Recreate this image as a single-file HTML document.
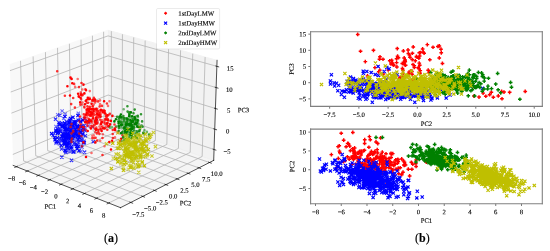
<!DOCTYPE html>
<html><head><meta charset="utf-8"><style>
html,body{margin:0;padding:0;background:#fff;}
body{width:550px;height:251px;overflow:hidden;}
svg{display:block;filter:blur(0.3px);}
svg text{stroke:#000;stroke-width:0.12px;}
</style></head><body>
<svg width="550" height="251" viewBox="0 0 550 251" version="1.1">
 <defs>
  <style type="text/css">*{stroke-linejoin: round; stroke-linecap: butt}</style>
 </defs>
 <g id="figure_1">
  <g id="patch_1">
   <path d="M 0 251 
L 550 251 
L 550 0 
L 0 0 
z
" style="fill: #ffffff"/>
  </g>
  <g id="patch_2">
   <path d="M -1.326 228.748 
L 223.068 228.748 
L 223.068 4.354 
L -1.326 4.354 
z
" style="fill: #ffffff"/>
  </g>
  <g id="pane3d_1">
   <g id="patch_3">
    <path d="M 13.193572 165.438999 
L 108.208871 124.50731 
L 108.029389 30.230374 
L 9.751159 64.596236 
" style="fill: #f2f2f2; opacity: 0.5; stroke: #f2f2f2; stroke-linejoin: miter"/>
   </g>
  </g>
  <g id="pane3d_2">
   <g id="patch_4">
    <path d="M 108.208871 124.50731 
L 213.673591 160.382769 
L 217.050997 60.341471 
L 108.029389 30.230374 
" style="fill: #e6e6e6; opacity: 0.5; stroke: #e6e6e6; stroke-linejoin: miter"/>
   </g>
  </g>
  <g id="pane3d_3">
   <g id="patch_5">
    <path d="M 13.193572 165.438999 
L 120.542899 207.66233 
L 213.673591 160.382769 
L 108.208871 124.50731 
" style="fill: #ececec; opacity: 0.5; stroke: #ececec; stroke-linejoin: miter"/>
   </g>
  </g>
  <g id="grid3d_1">
   <g id="Line3DCollection_1">
    <path d="M 16.431128 166.712415 
L 111.407736 125.595453 
L 111.328901 31.141679 
" style="fill: none; stroke: #b0b0b0; stroke-width: 0.75"/>
    <path d="M 27.333725 171.000695 
L 122.171696 129.256981 
L 122.434853 34.209074 
" style="fill: none; stroke: #b0b0b0; stroke-width: 0.75"/>
    <path d="M 38.409816 175.357215 
L 133.093789 132.9723 
L 133.709193 37.322978 
" style="fill: none; stroke: #b0b0b0; stroke-width: 0.75"/>
    <path d="M 49.663574 179.783616 
L 144.177525 136.742605 
L 145.155781 40.484455 
" style="fill: none; stroke: #b0b0b0; stroke-width: 0.75"/>
    <path d="M 61.099309 184.281593 
L 155.426518 140.569124 
L 156.778594 43.694604 
" style="fill: none; stroke: #b0b0b0; stroke-width: 0.75"/>
    <path d="M 72.721471 188.852897 
L 166.844494 144.453126 
L 168.581734 46.954559 
" style="fill: none; stroke: #b0b0b0; stroke-width: 0.75"/>
    <path d="M 84.534656 193.499335 
L 178.435287 148.395914 
L 180.56943 50.265486 
" style="fill: none; stroke: #b0b0b0; stroke-width: 0.75"/>
    <path d="M 96.543613 198.222776 
L 190.202853 152.398833 
L 192.746044 53.628592 
" style="fill: none; stroke: #b0b0b0; stroke-width: 0.75"/>
    <path d="M 108.753248 203.025148 
L 202.151265 156.463271 
L 205.116079 57.04512 
" style="fill: none; stroke: #b0b0b0; stroke-width: 0.75"/>
   </g>
  </g>
  <g id="grid3d_2">
   <g id="Line3DCollection_2">
    <path d="M 20.523457 60.829386 
L 23.584337 160.962756 
L 130.7809 202.464815 
" style="fill: none; stroke: #b0b0b0; stroke-width: 0.75"/>
    <path d="M 33.110168 56.428074 
L 35.732685 155.729363 
L 142.733964 196.396615 
" style="fill: none; stroke: #b0b0b0; stroke-width: 0.75"/>
    <path d="M 45.44608 52.114461 
L 47.646751 150.596896 
L 154.43908 190.454291 
" style="fill: none; stroke: #b0b0b0; stroke-width: 0.75"/>
    <path d="M 57.538614 47.885952 
L 59.333246 145.562465 
L 165.903886 184.633965 
" style="fill: none; stroke: #b0b0b0; stroke-width: 0.75"/>
    <path d="M 69.394903 43.740053 
L 70.798629 140.623287 
L 177.135706 178.931919 
" style="fill: none; stroke: #b0b0b0; stroke-width: 0.75"/>
    <path d="M 81.021803 39.674367 
L 82.049117 135.776684 
L 188.141571 173.344583 
" style="fill: none; stroke: #b0b0b0; stroke-width: 0.75"/>
    <path d="M 92.425908 35.686588 
L 93.090694 131.020077 
L 198.928232 167.86853 
" style="fill: none; stroke: #b0b0b0; stroke-width: 0.75"/>
    <path d="M 103.61356 31.774498 
L 103.929127 126.350983 
L 209.502172 162.500468 
" style="fill: none; stroke: #b0b0b0; stroke-width: 0.75"/>
   </g>
  </g>
  <g id="grid3d_3">
   <g id="Line3DCollection_3">
    <path d="M 214.040931 149.501894 
L 108.189311 114.232724 
L 12.819268 154.47407 
" style="fill: none; stroke: #b0b0b0; stroke-width: 0.75"/>
    <path d="M 214.728381 129.139099 
L 108.15273 95.018129 
L 12.118716 133.95193 
" style="fill: none; stroke: #b0b0b0; stroke-width: 0.75"/>
    <path d="M 215.425335 108.494788 
L 108.115679 75.555932 
L 11.408385 113.143352 
" style="fill: none; stroke: #b0b0b0; stroke-width: 0.75"/>
    <path d="M 216.131992 87.563081 
L 108.078146 55.841314 
L 10.68807 92.042297 
" style="fill: none; stroke: #b0b0b0; stroke-width: 0.75"/>
    <path d="M 216.848556 66.337937 
L 108.040124 35.869335 
L 9.957558 70.642554 
" style="fill: none; stroke: #b0b0b0; stroke-width: 0.75"/>
   </g>
  </g>
  <g id="axis3d_1">
   <g id="line2d_1">
    <path d="M 13.193572 165.438999 
L 120.542899 207.66233 
" style="fill: none; stroke: #000000; stroke-width: 0.676; stroke-linecap: square"/>
   </g>
   <g id="xtick_1">
    <g id="line2d_2">
     <path d="M 17.252619 166.356778 
L 14.784913 167.425089 
" style="fill: none; stroke: #000000; stroke-width: 0.676; stroke-linecap: square"/>
    </g>
    <g id="text_1" transform="translate(1.5 0)">
     <text style="font-size: 6.7px; font-family: 'Liberation Serif', serif; text-anchor: middle" x="9.938619" y="180.63677" transform="rotate(0.05 9.938619 180.63677)">−8</text>
    </g>
   </g>
   <g id="xtick_2">
    <g id="line2d_3">
     <path d="M 28.154503 170.639423 
L 25.688914 171.724673 
" style="fill: none; stroke: #000000; stroke-width: 0.676; stroke-linecap: square"/>
    </g>
    <g id="text_2" transform="translate(1.5 0)">
     <text style="font-size: 6.7px; font-family: 'Liberation Serif', serif; text-anchor: middle" x="20.824753" y="185.012248" transform="rotate(0.05 20.824753 185.012248)">−6</text>
    </g>
   </g>
   <g id="xtick_3">
    <g id="line2d_4">
     <path d="M 39.229754 174.990173 
L 36.766662 176.092766 
" style="fill: none; stroke: #000000; stroke-width: 0.676; stroke-linecap: square"/>
    </g>
    <g id="text_3" transform="translate(1.5 0)">
     <text style="font-size: 6.7px; font-family: 'Liberation Serif', serif; text-anchor: middle" x="31.884677" y="189.457577" transform="rotate(0.05 31.884677 189.457577)">−4</text>
    </g>
   </g>
   <g id="xtick_4">
    <g id="line2d_5">
     <path d="M 50.482539 179.410664 
L 48.022343 180.531021 
" style="fill: none; stroke: #000000; stroke-width: 0.676; stroke-linecap: square"/>
    </g>
    <g id="text_4" transform="translate(1.5 0)">
     <text style="font-size: 6.7px; font-family: 'Liberation Serif', serif; text-anchor: middle" x="43.122588" y="193.974444" transform="rotate(0.05 43.122588 193.974444)">−2</text>
    </g>
   </g>
   <g id="xtick_5">
    <g id="line2d_6">
     <path d="M 61.917163 183.902589 
L 59.460278 185.041141 
" style="fill: none; stroke: #000000; stroke-width: 0.676; stroke-linecap: square"/>
    </g>
    <g id="text_5" transform="translate(1.5 0)">
     <text style="font-size: 6.7px; font-family: 'Liberation Serif', serif; text-anchor: middle" x="54.542816" y="198.564591" transform="rotate(0.05 54.542816 198.564591)">0</text>
    </g>
   </g>
   <g id="xtick_6">
    <g id="line2d_7">
     <path d="M 73.538069 188.467691 
L 71.084931 189.624887 
" style="fill: none; stroke: #000000; stroke-width: 0.676; stroke-linecap: square"/>
    </g>
    <g id="text_6" transform="translate(1.5 0)">
     <text style="font-size: 6.7px; font-family: 'Liberation Serif', serif; text-anchor: middle" x="66.149835" y="203.229814" transform="rotate(0.05 66.149835 203.229814)">2</text>
    </g>
   </g>
   <g id="xtick_7">
    <g id="line2d_8">
     <path d="M 85.349845 193.107774 
L 82.90091 194.284074 
" style="fill: none; stroke: #000000; stroke-width: 0.676; stroke-linecap: square"/>
    </g>
    <g id="text_7" transform="translate(1.5 0)">
     <text style="font-size: 6.7px; font-family: 'Liberation Serif', serif; text-anchor: middle" x="77.948264" y="207.971972" transform="rotate(0.05 77.948264 207.971972)">4</text>
    </g>
   </g>
   <g id="xtick_8">
    <g id="line2d_9">
     <path d="M 97.357235 197.824701 
L 94.91298 199.020583 
" style="fill: none; stroke: #000000; stroke-width: 0.676; stroke-linecap: square"/>
    </g>
    <g id="text_8" transform="translate(1.5 0)">
     <text style="font-size: 6.7px; font-family: 'Liberation Serif', serif; text-anchor: middle" x="89.942879" y="212.792982" transform="rotate(0.05 89.942879 212.792982)">6</text>
    </g>
   </g>
   <g id="xtick_9">
    <g id="line2d_10">
     <path d="M 109.565137 202.620396 
L 107.126061 203.836353 
" style="fill: none; stroke: #000000; stroke-width: 0.676; stroke-linecap: square"/>
    </g>
    <g id="text_9" transform="translate(1.5 0)">
     <text style="font-size: 6.7px; font-family: 'Liberation Serif', serif; text-anchor: middle" x="102.138613" y="217.694829" transform="rotate(0.05 102.138613 217.694829)">8</text>
    </g>
   </g>
   <g id="text_10">
    <text style="font-size: 6.7px; font-family: 'Liberation Serif', serif; text-anchor: middle" x="50.293535" y="208.818631" transform="rotate(0.05 50.293535 208.818631)">PC1</text>
   </g>
  </g>
  <g id="axis3d_2">
   <g id="line2d_11">
    <path d="M 213.673591 160.382769 
L 120.542899 207.66233 
" style="fill: none; stroke: #000000; stroke-width: 0.676; stroke-linecap: square"/>
   </g>
   <g id="xtick_10">
    <g id="line2d_12">
     <path d="M 129.857683 202.107383 
L 132.630762 203.181004 
" style="fill: none; stroke: #000000; stroke-width: 0.676; stroke-linecap: square"/>
    </g>
    <g id="text_11">
     <text style="font-size: 6.7px; font-family: 'Liberation Serif', serif; text-anchor: middle" x="138.271624" y="216.736482" transform="rotate(0.05 138.271624 216.736482)">−7.5</text>
    </g>
   </g>
   <g id="xtick_11">
    <g id="line2d_13">
     <path d="M 141.813114 196.046634 
L 144.579044 197.097862 
" style="fill: none; stroke: #000000; stroke-width: 0.676; stroke-linecap: square"/>
    </g>
    <g id="text_12">
     <text style="font-size: 6.7px; font-family: 'Liberation Serif', serif; text-anchor: middle" x="150.178285" y="210.550757" transform="rotate(0.05 150.178285 210.550757)">−5.0</text>
    </g>
   </g>
   <g id="xtick_12">
    <g id="line2d_14">
     <path d="M 153.5207 190.11153 
L 156.279178 191.141059 
" style="fill: none; stroke: #000000; stroke-width: 0.676; stroke-linecap: square"/>
    </g>
    <g id="text_13">
     <text style="font-size: 6.7px; font-family: 'Liberation Serif', serif; text-anchor: middle" x="161.837302" y="204.493688" transform="rotate(0.05 161.837302 204.493688)">−2.5</text>
    </g>
   </g>
   <g id="xtick_13">
    <g id="line2d_15">
     <path d="M 164.988068 184.298203 
L 167.738816 185.306697 
" style="fill: none; stroke: #000000; stroke-width: 0.676; stroke-linecap: square"/>
    </g>
    <g id="text_14">
     <text style="font-size: 6.7px; font-family: 'Liberation Serif', serif; text-anchor: middle" x="173.256321" y="198.561302" transform="rotate(0.05 173.256321 198.561302)">0.0</text>
    </g>
   </g>
   <g id="xtick_14">
    <g id="line2d_16">
     <path d="M 176.222536 178.602943 
L 178.965297 179.591041 
" style="fill: none; stroke: #000000; stroke-width: 0.676; stroke-linecap: square"/>
    </g>
    <g id="text_15">
     <text style="font-size: 6.7px; font-family: 'Liberation Serif', serif; text-anchor: middle" x="184.442676" y="192.749789" transform="rotate(0.05 184.442676 192.749789)">2.5</text>
    </g>
   </g>
   <g id="xtick_15">
    <g id="line2d_17">
     <path d="M 187.231128 173.02219 
L 189.965666 173.990504 
" style="fill: none; stroke: #000000; stroke-width: 0.676; stroke-linecap: square"/>
    </g>
    <g id="text_16">
     <text style="font-size: 6.7px; font-family: 'Liberation Serif', serif; text-anchor: middle" x="195.403407" y="187.055492" transform="rotate(0.05 195.403407 187.055492)">5.0</text>
    </g>
   </g>
   <g id="xtick_16">
    <g id="line2d_18">
     <path d="M 198.020589 167.552524 
L 200.746684 168.501643 
" style="fill: none; stroke: #000000; stroke-width: 0.676; stroke-linecap: square"/>
    </g>
    <g id="text_17">
     <text style="font-size: 6.7px; font-family: 'Liberation Serif', serif; text-anchor: middle" x="206.145272" y="181.474899" transform="rotate(0.05 206.145272 181.474899)">7.5</text>
    </g>
   </g>
   <g id="xtick_17">
    <g id="line2d_19">
     <path d="M 208.597397 162.190662 
L 211.314849 163.121151 
" style="fill: none; stroke: #000000; stroke-width: 0.676; stroke-linecap: square"/>
    </g>
    <g id="text_18">
     <text style="font-size: 6.7px; font-family: 'Liberation Serif', serif; text-anchor: middle" x="216.674761" y="176.00464" transform="rotate(0.05 216.674761 176.00464)">10.0</text>
    </g>
   </g>
   <g id="text_19">
    <text style="font-size: 6.7px; font-family: 'Liberation Serif', serif; text-anchor: middle" x="185.543451" y="205.38919" transform="rotate(0.05 185.543451 205.38919)">PC2</text>
   </g>
  </g>
  <g id="axis3d_3">
   <g id="line2d_20">
    <path d="M 213.673591 160.382769 
L 217.050997 60.341471 
" style="fill: none; stroke: #000000; stroke-width: 0.676; stroke-linecap: square"/>
   </g>
   <g id="xtick_18">
    <g id="line2d_21">
     <path d="M 213.133783 149.199638 
L 215.858358 150.107451 
" style="fill: none; stroke: #000000; stroke-width: 0.676; stroke-linecap: square"/>
    </g>
    <g id="text_20">
     <text style="font-size: 6.7px; font-family: 'Liberation Serif', serif; text-anchor: middle" x="226.995658" y="153.830955" transform="rotate(0.05 226.995658 153.830955)">−5</text>
    </g>
   </g>
   <g id="xtick_19">
    <g id="line2d_22">
     <path d="M 213.814612 128.846549 
L 216.559096 129.725216 
" style="fill: none; stroke: #000000; stroke-width: 0.676; stroke-linecap: square"/>
    </g>
    <g id="text_21">
     <text style="font-size: 6.7px; font-family: 'Liberation Serif', serif; text-anchor: middle" x="227.771567" y="133.47844" transform="rotate(0.05 227.771567 133.47844)">0</text>
    </g>
   </g>
   <g id="xtick_20">
    <g id="line2d_23">
     <path d="M 214.504848 108.212243 
L 217.269534 109.060867 
" style="fill: none; stroke: #000000; stroke-width: 0.676; stroke-linecap: square"/>
    </g>
    <g id="text_22">
     <text style="font-size: 6.7px; font-family: 'Liberation Serif', serif; text-anchor: middle" x="228.558197" y="112.844725" transform="rotate(0.05 228.558197 112.844725)">5</text>
    </g>
   </g>
   <g id="xtick_21">
    <g id="line2d_24">
     <path d="M 215.204687 87.290849 
L 217.989873 88.108506 
" style="fill: none; stroke: #000000; stroke-width: 0.676; stroke-linecap: square"/>
    </g>
    <g id="text_23">
     <text style="font-size: 6.7px; font-family: 'Liberation Serif', serif; text-anchor: middle" x="229.355772" y="91.92394" transform="rotate(0.05 229.355772 91.92394)">10</text>
    </g>
   </g>
   <g id="xtick_22">
    <g id="line2d_25">
     <path d="M 215.914331 66.076335 
L 218.720322 66.86207 
" style="fill: none; stroke: #000000; stroke-width: 0.676; stroke-linecap: square"/>
    </g>
    <g id="text_24">
     <text style="font-size: 6.7px; font-family: 'Liberation Serif', serif; text-anchor: middle" x="230.16452" y="70.710054" transform="rotate(0.05 230.16452 70.710054)">15</text>
    </g>
   </g>
   <g id="text_25">
    <text style="font-size: 6.7px; font-family: 'Liberation Serif', serif; text-anchor: middle" x="243.455725" y="112.161496" transform="rotate(0.05 243.455725 112.161496)">PC3</text>
   </g>
  </g>
  <g id="axes_1">
   <g id="PH3_b"><path d="M66.2 133.2l3.3 3.3M66.2 136.5l3.3 -3.3M72.9 150.3l3.3 3.3M72.9 153.6l3.3 -3.3M94.9 119.4l3.3 3.3M94.9 122.7l3.3 -3.3M83.7 129.2l3.3 3.3M83.7 132.5l3.3 -3.3M60.1 139.0l3.3 3.3M60.1 142.3l3.3 -3.3M64.0 137.3l3.3 3.3M64.0 140.6l3.3 -3.3M73.5 121.7l3.3 3.3M73.5 125.0l3.3 -3.3M56.0 129.1l3.3 3.3M56.0 132.4l3.3 -3.3M68.5 150.4l3.3 3.3M68.5 153.7l3.3 -3.3M58.2 142.0l3.3 3.3M58.2 145.3l3.3 -3.3M71.7 135.4l3.3 3.3M71.7 138.7l3.3 -3.3M57.8 142.1l3.3 3.3M57.8 145.4l3.3 -3.3M72.6 134.0l3.3 3.3M72.6 137.3l3.3 -3.3M72.2 123.0l3.3 3.3M72.2 126.3l3.3 -3.3M86.2 124.4l3.3 3.3M86.2 127.7l3.3 -3.3M65.0 131.0l3.3 3.3M65.0 134.3l3.3 -3.3M71.8 125.0l3.3 3.3M71.8 128.3l3.3 -3.3M73.2 128.6l3.3 3.3M73.2 131.9l3.3 -3.3M64.0 126.7l3.3 3.3M64.0 130.0l3.3 -3.3M56.1 113.1l3.3 3.3M56.1 116.4l3.3 -3.3M87.2 120.7l3.3 3.3M87.2 124.0l3.3 -3.3M63.2 141.9l3.3 3.3M63.2 145.2l3.3 -3.3M69.0 124.1l3.3 3.3M69.0 127.4l3.3 -3.3M67.8 136.0l3.3 3.3M67.8 139.3l3.3 -3.3M72.4 132.4l3.3 3.3M72.4 135.7l3.3 -3.3M60.7 125.0l3.3 3.3M60.7 128.3l3.3 -3.3M79.4 149.6l3.3 3.3M79.4 152.9l3.3 -3.3M69.0 128.8l3.3 3.3M69.0 132.1l3.3 -3.3M60.5 109.3l3.3 3.3M60.5 112.6l3.3 -3.3M90.9 125.4l3.3 3.3M90.9 128.7l3.3 -3.3M65.9 132.9l3.3 3.3M65.9 136.2l3.3 -3.3M74.1 127.7l3.3 3.3M74.1 131.0l3.3 -3.3M75.8 129.4l3.3 3.3M75.8 132.7l3.3 -3.3M65.9 149.5l3.3 3.3M65.9 152.8l3.3 -3.3M72.4 129.0l3.3 3.3M72.4 132.3l3.3 -3.3M70.8 139.6l3.3 3.3M70.8 142.9l3.3 -3.3M65.8 142.9l3.3 3.3M65.8 146.2l3.3 -3.3M69.8 128.5l3.3 3.3M69.8 131.8l3.3 -3.3M69.1 122.1l3.3 3.3M69.1 125.4l3.3 -3.3M75.1 137.8l3.3 3.3M75.1 141.1l3.3 -3.3M60.3 129.2l3.3 3.3M60.3 132.5l3.3 -3.3M80.6 129.5l3.3 3.3M80.6 132.8l3.3 -3.3M66.9 133.6l3.3 3.3M66.9 136.9l3.3 -3.3M61.0 128.1l3.3 3.3M61.0 131.4l3.3 -3.3M65.6 124.9l3.3 3.3M65.6 128.2l3.3 -3.3M68.3 122.3l3.3 3.3M68.3 125.6l3.3 -3.3M62.8 134.8l3.3 3.3M62.8 138.1l3.3 -3.3M52.4 131.8l3.3 3.3M52.4 135.1l3.3 -3.3M72.3 135.6l3.3 3.3M72.3 138.9l3.3 -3.3M62.0 116.8l3.3 3.3M62.0 120.1l3.3 -3.3M80.4 145.5l3.3 3.3M80.4 148.8l3.3 -3.3M54.3 124.9l3.3 3.3M54.3 128.2l3.3 -3.3M66.3 145.0l3.3 3.3M66.3 148.3l3.3 -3.3M67.5 138.7l3.3 3.3M67.5 142.0l3.3 -3.3M67.7 137.3l3.3 3.3M67.7 140.6l3.3 -3.3M69.1 119.4l3.3 3.3M69.1 122.7l3.3 -3.3M74.6 121.1l3.3 3.3M74.6 124.4l3.3 -3.3M82.1 127.3l3.3 3.3M82.1 130.6l3.3 -3.3M68.0 136.3l3.3 3.3M68.0 139.6l3.3 -3.3M77.9 127.9l3.3 3.3M77.9 131.2l3.3 -3.3M65.9 147.5l3.3 3.3M65.9 150.8l3.3 -3.3M72.7 142.7l3.3 3.3M72.7 146.0l3.3 -3.3M63.6 112.3l3.3 3.3M63.6 115.6l3.3 -3.3M74.4 130.3l3.3 3.3M74.4 133.6l3.3 -3.3M64.4 133.2l3.3 3.3M64.4 136.5l3.3 -3.3M69.1 141.7l3.3 3.3M69.1 145.0l3.3 -3.3M74.3 121.4l3.3 3.3M74.3 124.7l3.3 -3.3M76.8 130.6l3.3 3.3M76.8 133.9l3.3 -3.3M54.3 141.6l3.3 3.3M54.3 144.9l3.3 -3.3M65.4 123.3l3.3 3.3M65.4 126.6l3.3 -3.3M70.4 146.5l3.3 3.3M70.4 149.8l3.3 -3.3M70.7 138.6l3.3 3.3M70.7 141.9l3.3 -3.3M56.4 139.7l3.3 3.3M56.4 143.0l3.3 -3.3M69.7 121.4l3.3 3.3M69.7 124.7l3.3 -3.3M68.4 148.7l3.3 3.3M68.4 152.0l3.3 -3.3M76.7 111.7l3.3 3.3M76.7 115.0l3.3 -3.3M70.6 128.8l3.3 3.3M70.6 132.1l3.3 -3.3M77.5 132.1l3.3 3.3M77.5 135.4l3.3 -3.3M69.3 121.4l3.3 3.3M69.3 124.7l3.3 -3.3M59.4 129.8l3.3 3.3M59.4 133.1l3.3 -3.3M61.1 137.2l3.3 3.3M61.1 140.5l3.3 -3.3M78.1 117.8l3.3 3.3M78.1 121.1l3.3 -3.3M80.0 124.4l3.3 3.3M80.0 127.7l3.3 -3.3M62.6 139.2l3.3 3.3M62.6 142.5l3.3 -3.3M70.7 149.5l3.3 3.3M70.7 152.8l3.3 -3.3M67.9 138.9l3.3 3.3M67.9 142.2l3.3 -3.3M75.0 137.2l3.3 3.3M75.0 140.5l3.3 -3.3M56.4 125.1l3.3 3.3M56.4 128.4l3.3 -3.3M78.5 138.8l3.3 3.3M78.5 142.1l3.3 -3.3M69.5 137.5l3.3 3.3M69.5 140.8l3.3 -3.3" style="fill:none;stroke:#0000ff;stroke-width:1.1;opacity:0.55"/><path d="M68.1 124.7l3.3 3.3M68.1 128.0l3.3 -3.3M64.7 145.2l3.3 3.3M64.7 148.5l3.3 -3.3M60.3 138.8l3.3 3.3M60.3 142.1l3.3 -3.3M82.9 128.4l3.3 3.3M82.9 131.7l3.3 -3.3M66.2 132.8l3.3 3.3M66.2 136.1l3.3 -3.3M63.0 133.2l3.3 3.3M63.0 136.5l3.3 -3.3M66.0 138.0l3.3 3.3M66.0 141.3l3.3 -3.3M69.9 158.7l3.3 3.3M69.9 162.0l3.3 -3.3M69.0 122.9l3.3 3.3M69.0 126.2l3.3 -3.3M76.5 133.6l3.3 3.3M76.5 136.9l3.3 -3.3M79.6 125.1l3.3 3.3M79.6 128.4l3.3 -3.3M56.3 127.6l3.3 3.3M56.3 130.9l3.3 -3.3M63.6 132.8l3.3 3.3M63.6 136.1l3.3 -3.3M64.4 127.8l3.3 3.3M64.4 131.1l3.3 -3.3M63.6 149.2l3.3 3.3M63.6 152.5l3.3 -3.3M65.9 135.3l3.3 3.3M65.9 138.6l3.3 -3.3M58.2 129.6l3.3 3.3M58.2 132.9l3.3 -3.3M83.7 134.1l3.3 3.3M83.7 137.4l3.3 -3.3M65.2 143.7l3.3 3.3M65.2 147.0l3.3 -3.3M69.1 139.2l3.3 3.3M69.1 142.5l3.3 -3.3M72.9 125.3l3.3 3.3M72.9 128.6l3.3 -3.3M62.3 134.1l3.3 3.3M62.3 137.4l3.3 -3.3M63.5 124.6l3.3 3.3M63.5 127.9l3.3 -3.3M67.6 141.6l3.3 3.3M67.6 144.9l3.3 -3.3M70.8 125.9l3.3 3.3M70.8 129.2l3.3 -3.3M71.0 131.6l3.3 3.3M71.0 134.9l3.3 -3.3M68.1 121.9l3.3 3.3M68.1 125.2l3.3 -3.3M82.5 123.9l3.3 3.3M82.5 127.2l3.3 -3.3M91.6 140.1l3.3 3.3M91.6 143.4l3.3 -3.3M77.0 132.9l3.3 3.3M77.0 136.2l3.3 -3.3M64.0 124.3l3.3 3.3M64.0 127.6l3.3 -3.3M73.7 134.7l3.3 3.3M73.7 138.0l3.3 -3.3M64.8 119.9l3.3 3.3M64.8 123.2l3.3 -3.3M59.9 137.5l3.3 3.3M59.9 140.8l3.3 -3.3M72.5 122.0l3.3 3.3M72.5 125.3l3.3 -3.3M65.4 122.4l3.3 3.3M65.4 125.7l3.3 -3.3M71.8 132.1l3.3 3.3M71.8 135.4l3.3 -3.3M67.5 134.6l3.3 3.3M67.5 137.9l3.3 -3.3M73.3 131.3l3.3 3.3M73.3 134.6l3.3 -3.3M80.6 138.7l3.3 3.3M80.6 142.0l3.3 -3.3M70.8 133.7l3.3 3.3M70.8 137.0l3.3 -3.3M82.3 139.7l3.3 3.3M82.3 143.0l3.3 -3.3M73.9 142.8l3.3 3.3M73.9 146.1l3.3 -3.3M76.8 140.3l3.3 3.3M76.8 143.6l3.3 -3.3M58.2 113.6l3.3 3.3M58.2 116.9l3.3 -3.3M81.8 125.8l3.3 3.3M81.8 129.1l3.3 -3.3M80.4 129.3l3.3 3.3M80.4 132.6l3.3 -3.3M64.2 127.6l3.3 3.3M64.2 130.9l3.3 -3.3M68.1 119.8l3.3 3.3M68.1 123.1l3.3 -3.3M75.4 132.4l3.3 3.3M75.4 135.7l3.3 -3.3M72.5 125.8l3.3 3.3M72.5 129.1l3.3 -3.3M73.0 141.2l3.3 3.3M73.0 144.5l3.3 -3.3M68.1 144.8l3.3 3.3M68.1 148.1l3.3 -3.3M69.4 127.7l3.3 3.3M69.4 131.0l3.3 -3.3M63.4 140.2l3.3 3.3M63.4 143.5l3.3 -3.3M66.5 128.5l3.3 3.3M66.5 131.8l3.3 -3.3M75.0 130.5l3.3 3.3M75.0 133.8l3.3 -3.3M60.0 147.3l3.3 3.3M60.0 150.6l3.3 -3.3M71.4 137.0l3.3 3.3M71.4 140.3l3.3 -3.3M82.9 150.5l3.3 3.3M82.9 153.8l3.3 -3.3M68.1 140.8l3.3 3.3M68.1 144.1l3.3 -3.3M60.4 121.5l3.3 3.3M60.4 124.8l3.3 -3.3M60.1 125.4l3.3 3.3M60.1 128.7l3.3 -3.3M58.8 129.6l3.3 3.3M58.8 132.9l3.3 -3.3M82.9 117.0l3.3 3.3M82.9 120.3l3.3 -3.3M63.7 130.0l3.3 3.3M63.7 133.3l3.3 -3.3M64.3 150.8l3.3 3.3M64.3 154.1l3.3 -3.3M64.1 134.8l3.3 3.3M64.1 138.1l3.3 -3.3M58.0 127.4l3.3 3.3M58.0 130.7l3.3 -3.3M60.2 155.6l3.3 3.3M60.2 158.9l3.3 -3.3M58.3 136.7l3.3 3.3M58.3 140.0l3.3 -3.3M63.4 122.5l3.3 3.3M63.4 125.8l3.3 -3.3M53.9 117.5l3.3 3.3M53.9 120.8l3.3 -3.3M64.0 132.4l3.3 3.3M64.0 135.7l3.3 -3.3M55.7 127.1l3.3 3.3M55.7 130.4l3.3 -3.3M79.9 138.1l3.3 3.3M79.9 141.4l3.3 -3.3M66.4 146.6l3.3 3.3M66.4 149.9l3.3 -3.3M67.7 125.7l3.3 3.3M67.7 129.0l3.3 -3.3M51.5 133.6l3.3 3.3M51.5 136.9l3.3 -3.3M57.3 121.0l3.3 3.3M57.3 124.3l3.3 -3.3M66.0 132.7l3.3 3.3M66.0 136.0l3.3 -3.3M56.8 140.4l3.3 3.3M56.8 143.7l3.3 -3.3M72.3 129.9l3.3 3.3M72.3 133.2l3.3 -3.3" style="fill:none;stroke:#0000ff;stroke-width:1.1;opacity:0.8"/><path d="M68.1 130.0l3.3 3.3M68.1 133.3l3.3 -3.3M78.9 120.0l3.3 3.3M78.9 123.3l3.3 -3.3M66.5 136.3l3.3 3.3M66.5 139.6l3.3 -3.3M81.7 141.1l3.3 3.3M81.7 144.4l3.3 -3.3M50.0 132.0l3.3 3.3M50.0 135.3l3.3 -3.3M65.2 144.0l3.3 3.3M65.2 147.3l3.3 -3.3M77.8 135.9l3.3 3.3M77.8 139.2l3.3 -3.3M60.1 134.7l3.3 3.3M60.1 138.0l3.3 -3.3M76.3 113.9l3.3 3.3M76.3 117.2l3.3 -3.3M55.7 136.2l3.3 3.3M55.7 139.5l3.3 -3.3M55.9 131.8l3.3 3.3M55.9 135.1l3.3 -3.3M69.0 146.3l3.3 3.3M69.0 149.6l3.3 -3.3M64.3 135.2l3.3 3.3M64.3 138.5l3.3 -3.3M63.8 136.0l3.3 3.3M63.8 139.3l3.3 -3.3M79.3 134.8l3.3 3.3M79.3 138.1l3.3 -3.3M65.9 127.4l3.3 3.3M65.9 130.7l3.3 -3.3M69.7 130.8l3.3 3.3M69.7 134.1l3.3 -3.3M73.0 122.9l3.3 3.3M73.0 126.2l3.3 -3.3M71.3 134.5l3.3 3.3M71.3 137.8l3.3 -3.3M75.5 125.1l3.3 3.3M75.5 128.4l3.3 -3.3M78.6 131.0l3.3 3.3M78.6 134.3l3.3 -3.3M81.2 132.5l3.3 3.3M81.2 135.8l3.3 -3.3M63.7 138.0l3.3 3.3M63.7 141.3l3.3 -3.3M60.7 124.4l3.3 3.3M60.7 127.7l3.3 -3.3M67.9 118.7l3.3 3.3M67.9 122.0l3.3 -3.3M78.3 130.3l3.3 3.3M78.3 133.6l3.3 -3.3M82.6 141.1l3.3 3.3M82.6 144.4l3.3 -3.3M65.4 131.9l3.3 3.3M65.4 135.2l3.3 -3.3M67.3 121.2l3.3 3.3M67.3 124.5l3.3 -3.3M73.8 129.8l3.3 3.3M73.8 133.1l3.3 -3.3M65.6 127.6l3.3 3.3M65.6 130.9l3.3 -3.3M63.4 128.0l3.3 3.3M63.4 131.3l3.3 -3.3M78.5 124.6l3.3 3.3M78.5 127.9l3.3 -3.3M76.6 127.7l3.3 3.3M76.6 131.0l3.3 -3.3M63.0 125.0l3.3 3.3M63.0 128.3l3.3 -3.3M71.8 150.2l3.3 3.3M71.8 153.5l3.3 -3.3M62.9 142.5l3.3 3.3M62.9 145.8l3.3 -3.3M63.0 141.1l3.3 3.3M63.0 144.4l3.3 -3.3M72.4 130.7l3.3 3.3M72.4 134.0l3.3 -3.3M76.9 144.6l3.3 3.3M76.9 147.9l3.3 -3.3M63.2 114.9l3.3 3.3M63.2 118.2l3.3 -3.3M66.5 141.2l3.3 3.3M66.5 144.5l3.3 -3.3M58.3 122.4l3.3 3.3M58.3 125.7l3.3 -3.3M63.4 148.6l3.3 3.3M63.4 151.9l3.3 -3.3M73.8 127.8l3.3 3.3M73.8 131.1l3.3 -3.3M73.7 120.1l3.3 3.3M73.7 123.4l3.3 -3.3M61.7 124.2l3.3 3.3M61.7 127.5l3.3 -3.3M69.7 136.6l3.3 3.3M69.7 139.9l3.3 -3.3M76.8 125.3l3.3 3.3M76.8 128.6l3.3 -3.3M54.5 129.3l3.3 3.3M54.5 132.6l3.3 -3.3M72.4 120.2l3.3 3.3M72.4 123.5l3.3 -3.3M81.3 118.5l3.3 3.3M81.3 121.8l3.3 -3.3M76.0 134.8l3.3 3.3M76.0 138.1l3.3 -3.3M71.8 134.3l3.3 3.3M71.8 137.6l3.3 -3.3M77.3 149.1l3.3 3.3M77.3 152.4l3.3 -3.3M75.7 124.2l3.3 3.3M75.7 127.5l3.3 -3.3M67.5 132.7l3.3 3.3M67.5 136.0l3.3 -3.3M69.8 145.2l3.3 3.3M69.8 148.5l3.3 -3.3M76.5 138.1l3.3 3.3M76.5 141.4l3.3 -3.3M75.0 144.7l3.3 3.3M75.0 148.0l3.3 -3.3M57.5 122.9l3.3 3.3M57.5 126.2l3.3 -3.3M59.6 143.9l3.3 3.3M59.6 147.2l3.3 -3.3M65.6 141.8l3.3 3.3M65.6 145.1l3.3 -3.3M66.9 135.8l3.3 3.3M66.9 139.1l3.3 -3.3M61.3 134.4l3.3 3.3M61.3 137.7l3.3 -3.3M68.8 116.8l3.3 3.3M68.8 120.1l3.3 -3.3M75.6 143.4l3.3 3.3M75.6 146.7l3.3 -3.3M63.1 121.3l3.3 3.3M63.1 124.6l3.3 -3.3M68.7 136.8l3.3 3.3M68.7 140.1l3.3 -3.3M73.6 132.1l3.3 3.3M73.6 135.4l3.3 -3.3M67.1 133.5l3.3 3.3M67.1 136.8l3.3 -3.3M63.6 132.4l3.3 3.3M63.6 135.7l3.3 -3.3M64.3 127.8l3.3 3.3M64.3 131.1l3.3 -3.3M53.0 135.9l3.3 3.3M53.0 139.2l3.3 -3.3M54.7 140.2l3.3 3.3M54.7 143.5l3.3 -3.3M56.1 130.4l3.3 3.3M56.1 133.7l3.3 -3.3M54.2 128.6l3.3 3.3M54.2 131.9l3.3 -3.3M56.7 130.5l3.3 3.3M56.7 133.8l3.3 -3.3M64.4 136.7l3.3 3.3M64.4 140.0l3.3 -3.3M75.6 147.0l3.3 3.3M75.6 150.3l3.3 -3.3M76.7 133.6l3.3 3.3M76.7 136.9l3.3 -3.3M86.2 119.6l3.3 3.3M86.2 122.9l3.3 -3.3M62.2 138.7l3.3 3.3M62.2 142.0l3.3 -3.3M53.4 138.0l3.3 3.3M53.4 141.3l3.3 -3.3M65.9 132.2l3.3 3.3M65.9 135.5l3.3 -3.3M71.3 115.7l3.3 3.3M71.3 119.0l3.3 -3.3M65.5 132.8l3.3 3.3M65.5 136.1l3.3 -3.3M81.2 126.6l3.3 3.3M81.2 129.9l3.3 -3.3M70.9 123.8l3.3 3.3M70.9 127.1l3.3 -3.3M76.6 118.6l3.3 3.3M76.6 121.9l3.3 -3.3M54.4 129.9l3.3 3.3M54.4 133.2l3.3 -3.3M61.1 132.0l3.3 3.3M61.1 135.3l3.3 -3.3M69.8 123.0l3.3 3.3M69.8 126.3l3.3 -3.3M69.0 128.4l3.3 3.3M69.0 131.7l3.3 -3.3M62.7 140.2l3.3 3.3M62.7 143.5l3.3 -3.3" style="fill:none;stroke:#0000ff;stroke-width:1.1;opacity:1"/></g>
   <g id="PH3_rd"><path d="M73.1 130.9h0M79.2 133.6h0M71.5 142.0h0M78.7 129.3h0M71.9 138.5h0M73.4 131.6h0M82.9 130.4h0M71.5 124.1h0M80.2 126.9h0M81.9 146.3h0M71.5 133.4h0M70.7 127.0h0M71.4 139.8h0M81.5 136.0h0" style="fill:none;stroke:#b8123a;stroke-width:2.6;stroke-linecap:round;opacity:1"/></g>
   <g id="PH3_r"><path d="M95.6 110.4h0M89.0 107.5h0M85.8 101.1h0M84.8 117.5h0M98.0 130.4h0M99.8 117.1h0M101.2 122.1h0M100.2 140.8h0M95.2 102.6h0M96.8 122.8h0M115.9 127.2h0M82.1 104.2h0M100.7 128.8h0M100.8 126.7h0M96.1 111.9h0M106.1 116.6h0M97.4 110.4h0M79.3 121.4h0M97.1 113.1h0M92.4 135.7h0M100.0 100.4h0M109.5 101.2h0M117.7 132.7h0M88.8 111.7h0M86.9 117.4h0M118.2 132.8h0M106.1 118.6h0M88.7 114.3h0M82.6 102.6h0M101.1 110.6h0M84.3 116.6h0M84.5 107.7h0M90.1 127.2h0M94.0 111.2h0M90.3 126.1h0M97.8 111.0h0M105.8 127.5h0M92.0 122.8h0M100.6 113.9h0M91.1 119.6h0M94.6 109.0h0M85.8 119.9h0M89.2 122.9h0M93.8 104.6h0M104.5 146.2h0M104.3 121.4h0M97.6 121.1h0M100.0 104.0h0M90.5 114.7h0M100.3 124.5h0M97.3 123.7h0M108.0 105.9h0M84.0 119.5h0M99.2 112.9h0M109.0 126.2h0M92.8 106.0h0M106.0 126.9h0M102.9 134.3h0M89.5 97.7h0M115.0 137.4h0M102.1 120.4h0M89.6 114.5h0M93.8 112.3h0M96.8 121.4h0M107.6 122.9h0M107.8 122.2h0M93.7 135.3h0M108.7 120.6h0M100.9 110.1h0M91.3 127.2h0M95.7 118.6h0M97.3 108.7h0M96.3 127.4h0M100.1 104.6h0M85.9 129.8h0M95.2 132.2h0M107.3 125.5h0M99.4 126.6h0M95.2 122.6h0M100.7 113.2h0M75.1 86.9h0M80.7 92.3h0M82.4 89.5h0M77.7 79.0h0M89.8 91.1h0M81.4 95.4h0M82.9 94.3h0M91.5 153.0h0" style="fill:none;stroke:#ff0000;stroke-width:2.6;stroke-linecap:round;opacity:0.55"/><path d="M92.4 138.1h0M83.8 114.3h0M107.3 129.8h0M96.6 114.7h0M114.5 124.5h0M98.7 115.9h0M104.8 128.5h0M105.4 124.3h0M96.9 133.4h0M91.8 125.8h0M92.7 100.7h0M88.5 109.5h0M94.5 137.9h0M94.2 101.1h0M80.4 104.8h0M92.9 115.9h0M106.0 116.2h0M96.6 110.4h0M96.1 119.2h0M93.8 115.1h0M106.9 103.5h0M87.4 125.8h0M101.0 109.9h0M101.8 122.0h0M100.2 115.1h0M104.6 122.9h0M88.4 113.8h0M95.7 123.3h0M100.3 119.7h0M87.2 102.8h0M80.7 124.3h0M96.1 108.9h0M100.6 129.1h0M88.7 118.9h0M89.3 111.8h0M95.6 101.1h0M97.2 140.5h0M108.6 126.3h0M104.1 110.6h0M112.7 134.0h0M90.6 120.9h0M90.9 108.7h0M102.5 155.0h0M93.4 126.6h0M99.4 134.0h0M102.4 126.5h0M102.5 138.0h0M99.6 106.5h0M89.2 114.9h0M92.5 113.4h0M87.5 115.0h0M85.4 115.0h0M98.3 129.8h0M95.0 124.6h0M98.5 132.3h0M122.4 135.2h0M91.1 121.4h0M93.9 114.3h0M74.9 107.6h0M94.3 114.8h0M105.0 119.4h0M90.1 115.8h0M99.6 113.0h0M87.4 123.2h0M106.6 115.7h0M84.3 106.8h0M94.9 128.8h0M94.2 124.9h0M88.0 102.8h0M92.2 100.7h0M89.9 106.9h0M80.0 116.6h0M95.5 120.0h0M109.9 113.8h0M88.5 109.8h0M105.5 113.7h0M106.8 123.9h0M92.3 100.4h0M92.6 106.2h0M97.0 117.3h0M82.5 95.2h0M102.0 105.9h0M106.9 116.8h0M98.4 117.3h0M112.9 138.1h0M71.2 104.1h0M112.8 130.0h0M86.8 111.5h0M98.2 111.3h0M87.8 111.1h0M85.4 121.9h0M84.0 127.5h0M108.5 115.1h0M107.6 119.0h0M95.6 137.8h0M91.0 116.0h0M97.5 122.8h0M95.5 122.4h0M87.4 106.2h0M81.1 99.3h0M80.9 93.9h0M98.1 101.4h0M64.9 95.7h0M73.2 98.0h0M93.9 97.9h0M74.1 83.9h0M79.0 87.1h0M85.4 89.2h0M81.5 83.0h0M57.2 71.2h0" style="fill:none;stroke:#ff0000;stroke-width:2.6;stroke-linecap:round;opacity:0.8"/><path d="M111.0 149.5h0M96.8 119.6h0M84.4 93.4h0M95.4 142.4h0M90.7 112.0h0M91.5 109.4h0M78.1 93.7h0M104.6 111.1h0M86.0 114.6h0M90.7 120.9h0M121.2 138.7h0M86.8 113.1h0M85.9 101.0h0M93.3 109.7h0M98.4 114.8h0M104.9 113.2h0M108.5 126.2h0M91.1 113.5h0M81.0 94.8h0M82.9 127.0h0M84.7 117.6h0M115.1 130.1h0M102.6 110.6h0M96.3 123.5h0M88.9 110.9h0M107.8 119.9h0M110.9 120.9h0M87.7 131.0h0M87.8 98.8h0M85.0 104.3h0M93.3 108.7h0M112.0 140.9h0M92.2 114.0h0M89.1 119.9h0M93.6 110.9h0M107.2 123.2h0M95.0 99.5h0M86.1 121.8h0M100.6 110.4h0M87.8 97.9h0M91.6 103.8h0M109.3 142.0h0M120.2 141.2h0M104.0 128.2h0M86.4 100.2h0M88.7 99.1h0M91.4 120.9h0M95.5 121.4h0M97.1 113.6h0M106.0 119.5h0M96.2 117.5h0M89.3 109.2h0M100.6 116.6h0M112.4 115.9h0M98.9 115.0h0M101.9 122.3h0M90.5 115.3h0M110.0 124.4h0M96.3 128.9h0M93.8 109.5h0M83.4 142.4h0M92.1 112.8h0M86.6 109.7h0M89.8 98.9h0M87.5 108.7h0M102.8 112.3h0M96.4 109.1h0M107.4 115.3h0M92.9 99.8h0M114.7 128.6h0M94.9 121.4h0M85.2 122.2h0M95.9 130.0h0M101.1 123.9h0M90.9 128.4h0M80.5 97.8h0M93.1 118.4h0M103.1 128.3h0M101.6 130.9h0M88.4 121.2h0M96.0 117.7h0M104.1 101.2h0M80.2 102.4h0M86.0 90.3h0M72.3 83.2h0M78.8 96.7h0M71.6 78.9h0M70.0 95.5h0M67.4 86.3h0M78.7 96.4h0M83.5 84.6h0M70.5 77.6h0M86.0 157.0h0" style="fill:none;stroke:#ff0000;stroke-width:2.6;stroke-linecap:round;opacity:1"/></g>
   <g id="PH3_g"><path d="M112.0 127.3h0M133.9 127.2h0M126.0 123.0h0M126.3 119.5h0M121.6 119.3h0M126.6 140.8h0M120.9 127.6h0M118.9 126.1h0M124.9 126.1h0M120.3 122.5h0M132.1 134.6h0M128.4 119.8h0M131.0 126.4h0M136.4 120.2h0M139.0 130.9h0M127.8 120.9h0M138.6 123.7h0M123.0 131.2h0M129.5 121.0h0M127.5 126.9h0M136.8 123.0h0M131.0 117.4h0M125.2 133.2h0M121.3 127.3h0M123.6 125.6h0M146.9 131.9h0M144.5 133.8h0M135.1 116.7h0M131.0 126.0h0M120.4 116.9h0M126.0 126.2h0M136.6 122.7h0M128.6 133.3h0M128.1 128.5h0M119.3 125.8h0M126.9 133.5h0M130.8 117.0h0M128.7 133.1h0M138.0 127.0h0M133.7 127.7h0M118.8 125.6h0M122.7 123.9h0M129.8 131.9h0M136.7 133.6h0M123.7 123.6h0M129.3 121.3h0M126.8 122.3h0M125.9 118.5h0M125.1 118.3h0M136.5 116.2h0M124.6 127.4h0M133.9 133.3h0M122.8 117.7h0M128.7 118.9h0M144.5 130.2h0M133.7 128.4h0M131.8 124.8h0M137.0 142.4h0M130.0 116.0h0M132.0 127.8h0M119.4 122.4h0M118.2 119.6h0M122.0 141.3h0M141.6 125.2h0M127.0 118.2h0M138.0 117.1h0M123.2 123.1h0M131.3 130.2h0M126.8 128.4h0M116.1 126.4h0M120.6 123.9h0M134.7 133.9h0M122.8 138.2h0M110.0 127.4h0M123.7 109.3h0M132.4 125.7h0M133.1 137.0h0M123.2 128.2h0" style="fill:none;stroke:#008000;stroke-width:2.6;stroke-linecap:round;opacity:0.55"/><path d="M127.6 111.6h0M132.7 118.8h0M117.1 116.8h0M124.2 140.2h0M122.6 133.3h0M135.5 120.5h0M137.8 115.8h0M118.8 127.4h0M131.6 128.0h0M128.9 137.2h0M137.5 126.7h0M121.5 121.7h0M126.9 121.9h0M121.3 122.4h0M130.3 125.8h0M119.3 118.5h0M125.9 131.3h0M122.3 132.0h0M124.2 118.1h0M126.0 122.4h0M129.6 125.8h0M142.6 126.8h0M138.2 120.8h0M129.1 113.2h0M131.5 132.3h0M139.4 131.2h0M118.7 131.0h0M130.3 132.7h0M126.7 128.8h0M132.8 122.3h0M127.4 106.3h0M126.8 124.6h0M126.9 129.2h0M124.3 129.0h0M131.7 134.4h0M136.5 132.8h0M139.2 134.6h0M125.8 127.3h0M132.2 126.7h0M123.4 116.1h0M134.3 127.4h0M141.0 114.3h0M124.1 119.0h0M137.5 131.6h0M139.9 129.8h0M127.7 129.5h0M124.1 120.9h0M132.6 132.3h0M128.5 124.5h0M132.2 125.2h0M125.6 130.4h0M133.1 128.0h0M126.6 123.6h0M130.8 130.3h0M135.4 118.5h0M133.5 113.3h0M124.1 121.3h0M134.2 130.5h0M126.7 134.3h0M119.5 117.4h0M125.8 124.6h0M130.1 124.4h0M118.9 128.1h0M135.5 118.8h0M119.8 121.2h0M124.7 127.2h0M142.1 121.4h0M131.9 134.0h0M133.0 127.4h0M125.2 133.3h0M119.3 118.6h0M125.2 139.2h0M129.6 135.0h0M136.3 122.9h0M129.3 112.2h0M134.7 109.6h0M136.7 131.3h0M149.0 134.6h0M121.0 125.2h0" style="fill:none;stroke:#008000;stroke-width:2.6;stroke-linecap:round;opacity:0.8"/><path d="M129.4 114.7h0M131.5 132.8h0M125.2 131.7h0M134.9 119.0h0M126.8 118.5h0M121.2 124.7h0M132.1 116.2h0M127.4 131.5h0M143.4 132.9h0M132.3 126.8h0M134.6 124.1h0M119.7 116.6h0M135.5 122.8h0M131.4 135.7h0M137.6 120.1h0M129.1 116.3h0M124.3 127.7h0M131.4 122.1h0M140.2 126.9h0M130.4 120.0h0M118.6 123.3h0M127.3 124.4h0M126.6 130.9h0M132.9 121.5h0M128.4 130.0h0M114.4 121.4h0M129.3 123.6h0M127.2 119.3h0M137.3 126.4h0M121.4 117.3h0M132.6 120.9h0M120.9 133.3h0M138.8 126.7h0M122.0 124.7h0M131.1 124.3h0M131.5 138.3h0M133.2 120.9h0M126.7 130.3h0M128.7 124.5h0M126.1 133.1h0M134.5 124.4h0M134.5 117.3h0M131.4 121.6h0M127.6 119.4h0M131.0 124.8h0M136.6 137.9h0M130.4 124.7h0M132.0 129.0h0M130.1 128.9h0M118.8 126.0h0M120.9 114.5h0M137.3 122.5h0M135.4 136.2h0M126.0 124.9h0M115.9 119.3h0M130.9 112.4h0M123.4 136.9h0M118.4 121.8h0M134.7 117.3h0M131.0 133.0h0M129.6 124.9h0M136.4 124.2h0M125.2 131.0h0" style="fill:none;stroke:#008000;stroke-width:2.6;stroke-linecap:round;opacity:1"/></g>
   <g id="PH3_y"><path d="M132.4 135.3l3.3 3.3M132.4 138.6l3.3 -3.3M126.5 146.9l3.3 3.3M126.5 150.2l3.3 -3.3M141.3 141.2l3.3 3.3M141.3 144.5l3.3 -3.3M138.2 145.1l3.3 3.3M138.2 148.4l3.3 -3.3M127.4 147.0l3.3 3.3M127.4 150.3l3.3 -3.3M129.2 147.9l3.3 3.3M129.2 151.2l3.3 -3.3M130.4 165.6l3.3 3.3M130.4 168.9l3.3 -3.3M131.6 156.4l3.3 3.3M131.6 159.7l3.3 -3.3M126.0 144.4l3.3 3.3M126.0 147.7l3.3 -3.3M132.5 151.5l3.3 3.3M132.5 154.8l3.3 -3.3M130.4 158.2l3.3 3.3M130.4 161.5l3.3 -3.3M131.9 155.9l3.3 3.3M131.9 159.2l3.3 -3.3M135.0 155.5l3.3 3.3M135.0 158.8l3.3 -3.3M136.0 139.8l3.3 3.3M136.0 143.1l3.3 -3.3M130.3 141.1l3.3 3.3M130.3 144.4l3.3 -3.3M135.9 144.8l3.3 3.3M135.9 148.1l3.3 -3.3M125.9 155.1l3.3 3.3M125.9 158.4l3.3 -3.3M128.4 152.1l3.3 3.3M128.4 155.4l3.3 -3.3M138.4 125.7l3.3 3.3M138.4 129.0l3.3 -3.3M137.9 150.1l3.3 3.3M137.9 153.4l3.3 -3.3M124.7 135.1l3.3 3.3M124.7 138.4l3.3 -3.3M119.5 161.3l3.3 3.3M119.5 164.6l3.3 -3.3M136.6 145.5l3.3 3.3M136.6 148.8l3.3 -3.3M127.1 151.0l3.3 3.3M127.1 154.3l3.3 -3.3M122.0 158.8l3.3 3.3M122.0 162.1l3.3 -3.3M137.8 139.3l3.3 3.3M137.8 142.6l3.3 -3.3M124.3 153.9l3.3 3.3M124.3 157.2l3.3 -3.3M142.7 143.0l3.3 3.3M142.7 146.3l3.3 -3.3M119.6 140.8l3.3 3.3M119.6 144.1l3.3 -3.3M131.1 142.1l3.3 3.3M131.1 145.4l3.3 -3.3M122.0 158.1l3.3 3.3M122.0 161.4l3.3 -3.3M143.7 136.7l3.3 3.3M143.7 140.0l3.3 -3.3M140.2 152.8l3.3 3.3M140.2 156.1l3.3 -3.3M132.5 157.3l3.3 3.3M132.5 160.6l3.3 -3.3M134.3 139.1l3.3 3.3M134.3 142.4l3.3 -3.3M131.1 151.7l3.3 3.3M131.1 155.0l3.3 -3.3M138.7 138.6l3.3 3.3M138.7 141.9l3.3 -3.3M119.3 162.2l3.3 3.3M119.3 165.5l3.3 -3.3M118.9 158.1l3.3 3.3M118.9 161.4l3.3 -3.3M119.7 141.5l3.3 3.3M119.7 144.8l3.3 -3.3M127.5 163.8l3.3 3.3M127.5 167.1l3.3 -3.3M129.0 150.8l3.3 3.3M129.0 154.1l3.3 -3.3M129.5 160.0l3.3 3.3M129.5 163.3l3.3 -3.3M135.3 165.3l3.3 3.3M135.3 168.6l3.3 -3.3M126.2 150.1l3.3 3.3M126.2 153.4l3.3 -3.3M123.2 139.6l3.3 3.3M123.2 142.9l3.3 -3.3M133.4 141.0l3.3 3.3M133.4 144.3l3.3 -3.3M130.6 157.7l3.3 3.3M130.6 161.0l3.3 -3.3M131.3 139.5l3.3 3.3M131.3 142.8l3.3 -3.3M122.7 141.7l3.3 3.3M122.7 145.0l3.3 -3.3M122.9 140.3l3.3 3.3M122.9 143.6l3.3 -3.3M123.0 141.4l3.3 3.3M123.0 144.7l3.3 -3.3M137.5 150.1l3.3 3.3M137.5 153.4l3.3 -3.3M122.9 149.3l3.3 3.3M122.9 152.6l3.3 -3.3M124.6 146.3l3.3 3.3M124.6 149.6l3.3 -3.3M132.1 145.9l3.3 3.3M132.1 149.2l3.3 -3.3M138.8 156.6l3.3 3.3M138.8 159.9l3.3 -3.3M134.4 157.2l3.3 3.3M134.4 160.5l3.3 -3.3M141.6 155.5l3.3 3.3M141.6 158.8l3.3 -3.3M138.8 149.9l3.3 3.3M138.8 153.2l3.3 -3.3M140.6 143.2l3.3 3.3M140.6 146.5l3.3 -3.3M134.4 142.5l3.3 3.3M134.4 145.8l3.3 -3.3M130.2 142.8l3.3 3.3M130.2 146.1l3.3 -3.3M134.4 152.3l3.3 3.3M134.4 155.6l3.3 -3.3M121.9 155.1l3.3 3.3M121.9 158.4l3.3 -3.3M136.1 146.5l3.3 3.3M136.1 149.8l3.3 -3.3M132.9 141.0l3.3 3.3M132.9 144.3l3.3 -3.3M119.3 154.3l3.3 3.3M119.3 157.6l3.3 -3.3M127.5 141.8l3.3 3.3M127.5 145.1l3.3 -3.3M136.7 133.4l3.3 3.3M136.7 136.7l3.3 -3.3M133.6 143.1l3.3 3.3M133.6 146.4l3.3 -3.3M125.2 162.1l3.3 3.3M125.2 165.4l3.3 -3.3M126.5 149.2l3.3 3.3M126.5 152.5l3.3 -3.3M125.7 152.6l3.3 3.3M125.7 155.9l3.3 -3.3M132.2 156.0l3.3 3.3M132.2 159.3l3.3 -3.3M121.7 166.5l3.3 3.3M121.7 169.8l3.3 -3.3M125.5 140.7l3.3 3.3M125.5 144.0l3.3 -3.3M117.8 138.8l3.3 3.3M117.8 142.1l3.3 -3.3M117.7 140.7l3.3 3.3M117.7 144.0l3.3 -3.3M128.0 149.8l3.3 3.3M128.0 153.1l3.3 -3.3M111.6 156.5l3.3 3.3M111.6 159.8l3.3 -3.3M136.5 158.1l3.3 3.3M136.5 161.4l3.3 -3.3M125.2 150.2l3.3 3.3M125.2 153.5l3.3 -3.3M144.9 148.9l3.3 3.3M144.9 152.2l3.3 -3.3M128.9 138.3l3.3 3.3M128.9 141.6l3.3 -3.3M121.5 165.6l3.3 3.3M121.5 168.9l3.3 -3.3M130.1 152.5l3.3 3.3M130.1 155.8l3.3 -3.3M129.5 150.2l3.3 3.3M129.5 153.5l3.3 -3.3M132.7 147.8l3.3 3.3M132.7 151.1l3.3 -3.3M133.8 164.0l3.3 3.3M133.8 167.3l3.3 -3.3M130.2 155.7l3.3 3.3M130.2 159.0l3.3 -3.3M126.6 167.7l3.3 3.3M126.6 171.0l3.3 -3.3" style="fill:none;stroke:#bfbf00;stroke-width:1.1;opacity:0.55"/><path d="M137.1 170.6l3.3 3.3M137.1 173.9l3.3 -3.3M120.5 157.3l3.3 3.3M120.5 160.6l3.3 -3.3M135.1 134.4l3.3 3.3M135.1 137.7l3.3 -3.3M129.5 151.1l3.3 3.3M129.5 154.4l3.3 -3.3M129.8 165.1l3.3 3.3M129.8 168.4l3.3 -3.3M132.2 166.6l3.3 3.3M132.2 169.9l3.3 -3.3M129.1 163.8l3.3 3.3M129.1 167.1l3.3 -3.3M136.0 153.9l3.3 3.3M136.0 157.2l3.3 -3.3M136.7 150.1l3.3 3.3M136.7 153.4l3.3 -3.3M129.3 165.9l3.3 3.3M129.3 169.2l3.3 -3.3M138.2 164.0l3.3 3.3M138.2 167.3l3.3 -3.3M132.0 150.7l3.3 3.3M132.0 154.0l3.3 -3.3M130.5 158.7l3.3 3.3M130.5 162.0l3.3 -3.3M134.1 136.1l3.3 3.3M134.1 139.4l3.3 -3.3M126.2 127.6l3.3 3.3M126.2 130.9l3.3 -3.3M115.7 146.5l3.3 3.3M115.7 149.8l3.3 -3.3M124.0 145.9l3.3 3.3M124.0 149.2l3.3 -3.3M142.1 150.1l3.3 3.3M142.1 153.4l3.3 -3.3M149.7 132.6l3.3 3.3M149.7 135.9l3.3 -3.3M125.9 147.1l3.3 3.3M125.9 150.4l3.3 -3.3M135.7 147.9l3.3 3.3M135.7 151.2l3.3 -3.3M148.8 134.6l3.3 3.3M148.8 137.9l3.3 -3.3M124.1 146.4l3.3 3.3M124.1 149.7l3.3 -3.3M124.8 133.5l3.3 3.3M124.8 136.8l3.3 -3.3M140.4 160.9l3.3 3.3M140.4 164.2l3.3 -3.3M130.1 153.3l3.3 3.3M130.1 156.6l3.3 -3.3M129.3 144.5l3.3 3.3M129.3 147.8l3.3 -3.3M136.1 147.9l3.3 3.3M136.1 151.2l3.3 -3.3M126.1 151.0l3.3 3.3M126.1 154.3l3.3 -3.3M139.5 148.3l3.3 3.3M139.5 151.6l3.3 -3.3M135.5 150.0l3.3 3.3M135.5 153.3l3.3 -3.3M138.4 153.6l3.3 3.3M138.4 156.9l3.3 -3.3M127.5 142.6l3.3 3.3M127.5 145.9l3.3 -3.3M104.8 142.1l3.3 3.3M104.8 145.4l3.3 -3.3M127.7 155.3l3.3 3.3M127.7 158.6l3.3 -3.3M125.6 153.6l3.3 3.3M125.6 156.9l3.3 -3.3M125.9 147.8l3.3 3.3M125.9 151.1l3.3 -3.3M126.6 147.6l3.3 3.3M126.6 150.9l3.3 -3.3M143.9 154.9l3.3 3.3M143.9 158.2l3.3 -3.3M132.6 138.7l3.3 3.3M132.6 142.0l3.3 -3.3M150.3 154.4l3.3 3.3M150.3 157.7l3.3 -3.3M131.7 157.2l3.3 3.3M131.7 160.5l3.3 -3.3M132.8 156.3l3.3 3.3M132.8 159.6l3.3 -3.3M133.4 147.7l3.3 3.3M133.4 151.0l3.3 -3.3M127.9 153.0l3.3 3.3M127.9 156.3l3.3 -3.3M138.8 155.8l3.3 3.3M138.8 159.1l3.3 -3.3M143.4 132.3l3.3 3.3M143.4 135.6l3.3 -3.3M126.1 140.1l3.3 3.3M126.1 143.4l3.3 -3.3M125.8 139.5l3.3 3.3M125.8 142.8l3.3 -3.3M125.5 154.3l3.3 3.3M125.5 157.6l3.3 -3.3M140.6 142.2l3.3 3.3M140.6 145.5l3.3 -3.3M126.9 140.0l3.3 3.3M126.9 143.3l3.3 -3.3M122.0 143.7l3.3 3.3M122.0 147.0l3.3 -3.3M153.8 145.0l3.3 3.3M153.8 148.3l3.3 -3.3M127.7 156.4l3.3 3.3M127.7 159.7l3.3 -3.3M151.8 130.8l3.3 3.3M151.8 134.1l3.3 -3.3M146.9 137.5l3.3 3.3M146.9 140.8l3.3 -3.3M143.9 132.9l3.3 3.3M143.9 136.2l3.3 -3.3M134.2 142.1l3.3 3.3M134.2 145.4l3.3 -3.3M145.3 153.9l3.3 3.3M145.3 157.2l3.3 -3.3M122.6 150.4l3.3 3.3M122.6 153.7l3.3 -3.3M136.2 132.9l3.3 3.3M136.2 136.2l3.3 -3.3M130.0 140.5l3.3 3.3M130.0 143.8l3.3 -3.3M135.9 148.6l3.3 3.3M135.9 151.9l3.3 -3.3M125.0 148.3l3.3 3.3M125.0 151.6l3.3 -3.3M143.9 137.4l3.3 3.3M143.9 140.7l3.3 -3.3M116.8 152.1l3.3 3.3M116.8 155.4l3.3 -3.3M130.9 150.9l3.3 3.3M130.9 154.2l3.3 -3.3M127.0 137.8l3.3 3.3M127.0 141.1l3.3 -3.3M127.5 153.6l3.3 3.3M127.5 156.9l3.3 -3.3M118.5 143.3l3.3 3.3M118.5 146.6l3.3 -3.3M123.5 134.0l3.3 3.3M123.5 137.3l3.3 -3.3M138.1 136.0l3.3 3.3M138.1 139.3l3.3 -3.3M132.2 151.9l3.3 3.3M132.2 155.2l3.3 -3.3M131.3 136.4l3.3 3.3M131.3 139.7l3.3 -3.3M119.5 160.8l3.3 3.3M119.5 164.1l3.3 -3.3M116.2 131.3l3.3 3.3M116.2 134.6l3.3 -3.3M119.7 146.8l3.3 3.3M119.7 150.1l3.3 -3.3M145.0 139.6l3.3 3.3M145.0 142.9l3.3 -3.3M127.6 151.8l3.3 3.3M127.6 155.1l3.3 -3.3M117.8 155.1l3.3 3.3M117.8 158.4l3.3 -3.3M131.8 161.0l3.3 3.3M131.8 164.3l3.3 -3.3M114.5 152.5l3.3 3.3M114.5 155.8l3.3 -3.3M123.9 141.2l3.3 3.3M123.9 144.5l3.3 -3.3M122.9 142.8l3.3 3.3M122.9 146.1l3.3 -3.3" style="fill:none;stroke:#bfbf00;stroke-width:1.1;opacity:0.8"/><path d="M135.2 148.1l3.3 3.3M135.2 151.4l3.3 -3.3M121.9 168.5l3.3 3.3M121.9 171.8l3.3 -3.3M146.6 148.0l3.3 3.3M146.6 151.3l3.3 -3.3M128.7 154.6l3.3 3.3M128.7 157.9l3.3 -3.3M126.8 139.2l3.3 3.3M126.8 142.5l3.3 -3.3M136.9 164.3l3.3 3.3M136.9 167.6l3.3 -3.3M134.0 146.2l3.3 3.3M134.0 149.5l3.3 -3.3M116.2 160.2l3.3 3.3M116.2 163.5l3.3 -3.3M134.6 147.2l3.3 3.3M134.6 150.5l3.3 -3.3M118.6 143.0l3.3 3.3M118.6 146.3l3.3 -3.3M129.6 157.4l3.3 3.3M129.6 160.7l3.3 -3.3M139.3 147.3l3.3 3.3M139.3 150.6l3.3 -3.3M133.9 145.9l3.3 3.3M133.9 149.2l3.3 -3.3M144.1 139.3l3.3 3.3M144.1 142.6l3.3 -3.3M128.7 143.1l3.3 3.3M128.7 146.4l3.3 -3.3M141.6 140.0l3.3 3.3M141.6 143.3l3.3 -3.3M124.6 152.8l3.3 3.3M124.6 156.1l3.3 -3.3M140.6 145.2l3.3 3.3M140.6 148.5l3.3 -3.3M136.0 148.5l3.3 3.3M136.0 151.8l3.3 -3.3M138.6 152.8l3.3 3.3M138.6 156.1l3.3 -3.3M125.9 137.5l3.3 3.3M125.9 140.8l3.3 -3.3M133.8 144.7l3.3 3.3M133.8 148.0l3.3 -3.3M136.2 160.7l3.3 3.3M136.2 164.0l3.3 -3.3M143.1 150.0l3.3 3.3M143.1 153.3l3.3 -3.3M133.2 144.2l3.3 3.3M133.2 147.5l3.3 -3.3M131.1 131.6l3.3 3.3M131.1 134.9l3.3 -3.3M137.2 139.4l3.3 3.3M137.2 142.7l3.3 -3.3M115.9 157.7l3.3 3.3M115.9 161.0l3.3 -3.3M127.9 154.6l3.3 3.3M127.9 157.9l3.3 -3.3M144.9 144.6l3.3 3.3M144.9 147.9l3.3 -3.3M139.0 154.8l3.3 3.3M139.0 158.1l3.3 -3.3M128.9 150.9l3.3 3.3M128.9 154.2l3.3 -3.3M141.8 142.1l3.3 3.3M141.8 145.4l3.3 -3.3M131.0 153.0l3.3 3.3M131.0 156.3l3.3 -3.3M147.8 135.7l3.3 3.3M147.8 139.0l3.3 -3.3M126.0 147.1l3.3 3.3M126.0 150.4l3.3 -3.3M140.6 160.1l3.3 3.3M140.6 163.4l3.3 -3.3M134.0 154.9l3.3 3.3M134.0 158.2l3.3 -3.3M124.9 154.8l3.3 3.3M124.9 158.1l3.3 -3.3M114.0 156.8l3.3 3.3M114.0 160.1l3.3 -3.3M141.5 147.3l3.3 3.3M141.5 150.6l3.3 -3.3M125.8 153.5l3.3 3.3M125.8 156.8l3.3 -3.3M109.7 166.8l3.3 3.3M109.7 170.1l3.3 -3.3M122.7 141.5l3.3 3.3M122.7 144.8l3.3 -3.3M127.2 143.1l3.3 3.3M127.2 146.4l3.3 -3.3M123.9 148.3l3.3 3.3M123.9 151.6l3.3 -3.3M130.2 151.0l3.3 3.3M130.2 154.3l3.3 -3.3M119.4 143.4l3.3 3.3M119.4 146.7l3.3 -3.3M124.0 160.8l3.3 3.3M124.0 164.1l3.3 -3.3M122.6 162.5l3.3 3.3M122.6 165.8l3.3 -3.3M131.8 144.2l3.3 3.3M131.8 147.5l3.3 -3.3M124.6 152.5l3.3 3.3M124.6 155.8l3.3 -3.3M122.9 154.1l3.3 3.3M122.9 157.4l3.3 -3.3M128.6 165.6l3.3 3.3M128.6 168.9l3.3 -3.3M133.1 141.9l3.3 3.3M133.1 145.2l3.3 -3.3M123.0 158.4l3.3 3.3M123.0 161.7l3.3 -3.3M123.8 152.2l3.3 3.3M123.8 155.5l3.3 -3.3M124.1 138.3l3.3 3.3M124.1 141.6l3.3 -3.3M116.9 146.7l3.3 3.3M116.9 150.0l3.3 -3.3M144.5 145.0l3.3 3.3M144.5 148.3l3.3 -3.3M133.4 140.9l3.3 3.3M133.4 144.2l3.3 -3.3M111.1 141.5l3.3 3.3M111.1 144.8l3.3 -3.3M136.6 164.8l3.3 3.3M136.6 168.1l3.3 -3.3M142.7 164.1l3.3 3.3M142.7 167.4l3.3 -3.3M139.0 142.2l3.3 3.3M139.0 145.5l3.3 -3.3M135.0 155.5l3.3 3.3M135.0 158.8l3.3 -3.3M123.5 146.6l3.3 3.3M123.5 149.9l3.3 -3.3M130.2 142.6l3.3 3.3M130.2 145.9l3.3 -3.3M130.6 152.5l3.3 3.3M130.6 155.8l3.3 -3.3M116.9 141.7l3.3 3.3M116.9 145.0l3.3 -3.3M146.0 152.5l3.3 3.3M146.0 155.8l3.3 -3.3M139.3 134.1l3.3 3.3M139.3 137.4l3.3 -3.3M141.4 148.8l3.3 3.3M141.4 152.1l3.3 -3.3" style="fill:none;stroke:#bfbf00;stroke-width:1.1;opacity:1"/></g>
  </g>
  <g id="axes_2">
   <g id="patch_6">
    <path d="M 310.6 106.4 
L 542.3 106.4 
L 542.3 31.7 
L 310.6 31.7 
z
" style="fill: #ffffff"/>
   </g>
   <g id="PHT_r"><path d="M398.3 77.5h3.7M400.1 75.6v3.7M418.4 70.6h3.7M420.2 68.8v3.7M422.3 53.2h3.7M424.1 51.3v3.7M406.2 49.9h3.7M408.0 48.0v3.7M365.7 75.9h3.7M367.5 74.1v3.7M418.1 73.5h3.7M419.9 71.6v3.7M376.9 71.8h3.7M378.7 70.0v3.7M400.6 76.8h3.7M402.5 75.0v3.7M418.7 52.5h3.7M420.5 50.7v3.7M414.6 56.5h3.7M416.4 54.6v3.7M381.2 59.3h3.7M383.0 57.4v3.7M407.1 73.7h3.7M408.9 71.9v3.7M378.1 56.7h3.7M380.0 54.9v3.7M363.5 61.6h3.7M365.3 59.7v3.7M417.9 65.2h3.7M419.7 63.3v3.7M428.0 59.8h3.7M429.8 57.9v3.7M439.4 52.8h3.7M441.3 51.0v3.7M391.2 64.8h3.7M393.0 62.9v3.7M417.1 68.7h3.7M419.0 66.8v3.7M410.2 74.2h3.7M412.1 72.4v3.7M421.3 51.9h3.7M423.2 50.1v3.7M377.6 59.2h3.7M379.5 57.4v3.7M381.0 86.3h3.7M382.9 84.5v3.7M390.7 62.9h3.7M392.5 61.0v3.7M437.4 57.9h3.7M439.3 56.1v3.7M412.6 79.5h3.7M414.5 77.7v3.7M398.0 78.2h3.7M399.8 76.3v3.7M407.6 55.0h3.7M409.5 53.1v3.7M395.0 67.0h3.7M396.9 65.1v3.7M366.5 77.2h3.7M368.4 75.4v3.7M389.1 63.9h3.7M390.9 62.0v3.7M387.9 60.8h3.7M389.7 59.0v3.7M401.3 73.4h3.7M403.1 71.6v3.7M407.1 72.1h3.7M409.0 70.3v3.7M411.1 64.5h3.7M413.0 62.7v3.7M403.8 65.2h3.7M405.6 63.4v3.7M439.1 49.2h3.7M441.0 47.3v3.7M417.4 52.7h3.7M419.3 50.9v3.7M403.3 59.9h3.7M405.2 58.0v3.7M409.0 71.0h3.7M410.9 69.1v3.7M401.0 70.3h3.7M402.8 68.4v3.7M429.7 86.1h3.7M431.5 84.3v3.7M412.4 65.6h3.7M414.2 63.8v3.7M400.6 68.4h3.7M402.4 66.5v3.7M378.0 70.1h3.7M379.8 68.3v3.7M402.3 57.9h3.7M404.2 56.1v3.7M410.6 53.2h3.7M412.4 51.4v3.7M407.0 81.9h3.7M408.8 80.1v3.7M402.8 60.9h3.7M404.6 59.1v3.7M413.4 60.8h3.7M415.3 59.0v3.7M386.4 70.0h3.7M388.2 68.1v3.7M410.1 71.5h3.7M412.0 69.7v3.7M395.4 48.5h3.7M397.3 46.7v3.7M417.0 58.3h3.7M418.9 56.4v3.7M437.5 45.9h3.7M439.4 44.1v3.7M427.3 72.5h3.7M429.1 70.6v3.7M381.6 73.9h3.7M383.5 72.1v3.7M412.5 67.4h3.7M414.3 65.6v3.7M414.6 57.0h3.7M416.5 55.1v3.7M358.7 51.2h3.7M360.5 49.4v3.7M431.2 47.3h3.7M433.0 45.4v3.7M401.2 70.6h3.7M403.0 68.7v3.7M423.6 78.6h3.7M425.5 76.7v3.7M417.8 55.9h3.7M419.6 54.0v3.7M395.7 56.1h3.7M397.6 54.2v3.7M410.3 59.5h3.7M412.2 57.7v3.7M371.6 50.3h3.7M373.5 48.5v3.7M417.8 72.5h3.7M419.6 70.7v3.7M410.4 79.9h3.7M412.3 78.0v3.7M436.0 46.4h3.7M437.9 44.6v3.7M403.4 61.8h3.7M405.2 59.9v3.7M416.4 67.8h3.7M418.2 65.9v3.7M408.1 57.3h3.7M410.0 55.4v3.7M425.5 44.6h3.7M427.3 42.7v3.7M394.8 62.6h3.7M396.6 60.8v3.7M420.8 48.9h3.7M422.6 47.0v3.7M401.3 63.6h3.7M403.2 61.8v3.7M411.4 46.9h3.7M413.2 45.1v3.7M417.4 63.1h3.7M419.2 61.3v3.7M406.5 53.4h3.7M408.3 51.6v3.7M402.6 64.6h3.7M404.5 62.8v3.7M394.7 58.7h3.7M396.6 56.8v3.7M440.6 63.4h3.7M442.4 61.6v3.7M373.1 67.6h3.7M374.9 65.7v3.7M400.4 63.4h3.7M402.3 61.6v3.7M396.6 57.8h3.7M398.5 55.9v3.7M392.0 65.3h3.7M393.8 63.4v3.7M426.3 70.2h3.7M428.2 68.3v3.7M389.8 60.2h3.7M391.7 58.4v3.7M401.5 51.0h3.7M403.4 49.1v3.7M491.5 97.2h3.7M493.3 95.4v3.7M523.4 91.4h3.7M525.2 89.6v3.7M489.5 92.3h3.7M491.3 90.5v3.7M487.8 94.7h3.7M489.6 92.9v3.7M483.9 96.2h3.7M485.8 94.4v3.7M500.1 98.8h3.7M502.0 96.9v3.7M481.3 93.1h3.7M483.1 91.2v3.7M472.3 86.8h3.7M474.1 84.9v3.7M496.4 95.9h3.7M498.3 94.0v3.7M477.2 97.0h3.7M479.0 95.2v3.7M472.1 96.0h3.7M473.9 94.2v3.7M507.8 92.3h3.7M509.6 90.5v3.7M499.8 91.4h3.7M501.6 89.6v3.7M502.2 92.0h3.7M504.0 90.2v3.7M355.9 34.5h3.7M357.7 32.6v3.7" style="fill:none;stroke:#ff0000;stroke-width:1.45"/></g>
   <g id="PHT_b"><path d="M433.1 82.7l3.2 3.2M433.1 85.9l3.2 -3.2M396.0 94.8l3.2 3.2M396.0 98.0l3.2 -3.2M406.9 87.9l3.2 3.2M406.9 91.1l3.2 -3.2M430.3 97.0l3.2 3.2M430.3 100.2l3.2 -3.2M396.8 87.0l3.2 3.2M396.8 90.2l3.2 -3.2M401.6 95.2l3.2 3.2M401.6 98.4l3.2 -3.2M396.1 82.2l3.2 3.2M396.1 85.4l3.2 -3.2M372.1 86.4l3.2 3.2M372.1 89.6l3.2 -3.2M421.9 98.8l3.2 3.2M421.9 102.0l3.2 -3.2M361.0 80.1l3.2 3.2M361.0 83.3l3.2 -3.2M384.1 97.9l3.2 3.2M384.1 101.1l3.2 -3.2M359.6 89.3l3.2 3.2M359.6 92.5l3.2 -3.2M372.7 83.5l3.2 3.2M372.7 86.7l3.2 -3.2M356.3 89.3l3.2 3.2M356.3 92.5l3.2 -3.2M386.9 83.6l3.2 3.2M386.9 86.8l3.2 -3.2M400.1 90.0l3.2 3.2M400.1 93.2l3.2 -3.2M418.0 94.0l3.2 3.2M418.0 97.2l3.2 -3.2M347.6 81.3l3.2 3.2M347.6 84.5l3.2 -3.2M394.3 89.7l3.2 3.2M394.3 92.9l3.2 -3.2M377.4 91.0l3.2 3.2M377.4 94.2l3.2 -3.2M377.0 84.5l3.2 3.2M377.0 87.7l3.2 -3.2M385.0 90.5l3.2 3.2M385.0 93.7l3.2 -3.2M388.7 95.9l3.2 3.2M388.7 99.1l3.2 -3.2M383.6 92.6l3.2 3.2M383.6 95.8l3.2 -3.2M397.3 78.8l3.2 3.2M397.3 82.0l3.2 -3.2M449.3 82.8l3.2 3.2M449.3 86.0l3.2 -3.2M385.9 96.6l3.2 3.2M385.9 99.8l3.2 -3.2M399.7 86.6l3.2 3.2M399.7 89.8l3.2 -3.2M365.5 82.5l3.2 3.2M365.5 85.7l3.2 -3.2M414.0 92.4l3.2 3.2M414.0 95.6l3.2 -3.2M378.6 85.9l3.2 3.2M378.6 89.1l3.2 -3.2M382.9 93.9l3.2 3.2M382.9 97.1l3.2 -3.2M369.0 89.9l3.2 3.2M369.0 93.1l3.2 -3.2M390.2 84.9l3.2 3.2M390.2 88.1l3.2 -3.2M366.2 88.5l3.2 3.2M366.2 91.7l3.2 -3.2M357.1 88.4l3.2 3.2M357.1 91.6l3.2 -3.2M354.3 88.7l3.2 3.2M354.3 91.9l3.2 -3.2M374.8 95.0l3.2 3.2M374.8 98.2l3.2 -3.2M385.5 94.1l3.2 3.2M385.5 97.3l3.2 -3.2M404.2 93.1l3.2 3.2M404.2 96.3l3.2 -3.2M428.0 92.7l3.2 3.2M428.0 95.9l3.2 -3.2M430.3 96.2l3.2 3.2M430.3 99.4l3.2 -3.2M380.1 80.5l3.2 3.2M380.1 83.7l3.2 -3.2M365.6 96.4l3.2 3.2M365.6 99.6l3.2 -3.2M403.1 95.6l3.2 3.2M403.1 98.8l3.2 -3.2M365.4 91.3l3.2 3.2M365.4 94.5l3.2 -3.2M417.7 89.0l3.2 3.2M417.7 92.2l3.2 -3.2M408.9 97.6l3.2 3.2M408.9 100.8l3.2 -3.2M367.0 87.2l3.2 3.2M367.0 90.4l3.2 -3.2M404.2 94.6l3.2 3.2M404.2 97.8l3.2 -3.2M420.9 95.3l3.2 3.2M420.9 98.5l3.2 -3.2M401.7 88.5l3.2 3.2M401.7 91.7l3.2 -3.2M385.4 85.7l3.2 3.2M385.4 88.9l3.2 -3.2M389.1 85.0l3.2 3.2M389.1 88.2l3.2 -3.2M396.8 95.6l3.2 3.2M396.8 98.8l3.2 -3.2M375.5 84.1l3.2 3.2M375.5 87.3l3.2 -3.2M401.4 85.6l3.2 3.2M401.4 88.8l3.2 -3.2M385.2 87.9l3.2 3.2M385.2 91.1l3.2 -3.2M373.6 86.6l3.2 3.2M373.6 89.8l3.2 -3.2M366.6 88.1l3.2 3.2M366.6 91.3l3.2 -3.2M402.6 91.1l3.2 3.2M402.6 94.3l3.2 -3.2M371.2 84.6l3.2 3.2M371.2 87.8l3.2 -3.2M401.0 82.6l3.2 3.2M401.0 85.8l3.2 -3.2M344.8 88.1l3.2 3.2M344.8 91.3l3.2 -3.2M386.4 87.8l3.2 3.2M386.4 91.0l3.2 -3.2M395.7 85.7l3.2 3.2M395.7 88.9l3.2 -3.2M393.4 96.2l3.2 3.2M393.4 99.4l3.2 -3.2M418.1 83.8l3.2 3.2M418.1 87.0l3.2 -3.2M403.7 88.7l3.2 3.2M403.7 91.9l3.2 -3.2M408.3 84.0l3.2 3.2M408.3 87.2l3.2 -3.2M382.5 90.4l3.2 3.2M382.5 93.6l3.2 -3.2M362.2 91.9l3.2 3.2M362.2 95.1l3.2 -3.2M361.7 88.5l3.2 3.2M361.7 91.7l3.2 -3.2M372.8 87.1l3.2 3.2M372.8 90.3l3.2 -3.2M392.6 94.0l3.2 3.2M392.6 97.2l3.2 -3.2M417.3 87.0l3.2 3.2M417.3 90.2l3.2 -3.2M399.3 88.8l3.2 3.2M399.3 92.0l3.2 -3.2M391.2 94.5l3.2 3.2M391.2 97.7l3.2 -3.2M409.8 88.5l3.2 3.2M409.8 91.7l3.2 -3.2M381.7 89.7l3.2 3.2M381.7 92.9l3.2 -3.2M394.4 89.6l3.2 3.2M394.4 92.8l3.2 -3.2M386.1 91.0l3.2 3.2M386.1 94.2l3.2 -3.2M392.6 92.9l3.2 3.2M392.6 96.1l3.2 -3.2M380.6 94.5l3.2 3.2M380.6 97.7l3.2 -3.2M359.7 87.1l3.2 3.2M359.7 90.3l3.2 -3.2M381.2 88.7l3.2 3.2M381.2 91.9l3.2 -3.2M372.4 86.1l3.2 3.2M372.4 89.3l3.2 -3.2M428.7 95.0l3.2 3.2M428.7 98.2l3.2 -3.2M425.6 89.5l3.2 3.2M425.6 92.7l3.2 -3.2M378.1 84.8l3.2 3.2M378.1 88.0l3.2 -3.2M365.5 93.3l3.2 3.2M365.5 96.5l3.2 -3.2M391.1 88.6l3.2 3.2M391.1 91.8l3.2 -3.2M362.0 77.5l3.2 3.2M362.0 80.7l3.2 -3.2M417.7 93.4l3.2 3.2M417.7 96.6l3.2 -3.2M387.4 90.7l3.2 3.2M387.4 93.9l3.2 -3.2M378.4 89.0l3.2 3.2M378.4 92.2l3.2 -3.2M412.8 93.3l3.2 3.2M412.8 96.5l3.2 -3.2M423.1 87.5l3.2 3.2M423.1 90.7l3.2 -3.2M392.9 90.1l3.2 3.2M392.9 93.3l3.2 -3.2M413.1 91.4l3.2 3.2M413.1 94.6l3.2 -3.2M347.2 90.5l3.2 3.2M347.2 93.7l3.2 -3.2M373.3 86.0l3.2 3.2M373.3 89.2l3.2 -3.2M369.0 88.7l3.2 3.2M369.0 91.9l3.2 -3.2M349.4 88.9l3.2 3.2M349.4 92.1l3.2 -3.2M408.8 92.1l3.2 3.2M408.8 95.3l3.2 -3.2M451.8 86.0l3.2 3.2M451.8 89.2l3.2 -3.2M357.9 87.6l3.2 3.2M357.9 90.8l3.2 -3.2M376.7 87.5l3.2 3.2M376.7 90.7l3.2 -3.2M419.2 85.1l3.2 3.2M419.2 88.3l3.2 -3.2M381.8 89.5l3.2 3.2M381.8 92.7l3.2 -3.2M392.2 85.3l3.2 3.2M392.2 88.5l3.2 -3.2M366.5 92.7l3.2 3.2M366.5 95.9l3.2 -3.2M399.2 87.1l3.2 3.2M399.2 90.3l3.2 -3.2M358.5 97.4l3.2 3.2M358.5 100.6l3.2 -3.2M407.4 89.9l3.2 3.2M407.4 93.1l3.2 -3.2M399.9 92.1l3.2 3.2M399.9 95.3l3.2 -3.2M395.4 93.2l3.2 3.2M395.4 96.4l3.2 -3.2M374.5 83.7l3.2 3.2M374.5 86.9l3.2 -3.2M386.4 86.0l3.2 3.2M386.4 89.2l3.2 -3.2M403.0 86.4l3.2 3.2M403.0 89.6l3.2 -3.2M372.9 81.6l3.2 3.2M372.9 84.8l3.2 -3.2M367.5 85.8l3.2 3.2M367.5 89.0l3.2 -3.2M337.0 83.7l3.2 3.2M337.0 86.9l3.2 -3.2M375.9 89.0l3.2 3.2M375.9 92.2l3.2 -3.2M391.8 81.1l3.2 3.2M391.8 84.3l3.2 -3.2M414.4 87.0l3.2 3.2M414.4 90.2l3.2 -3.2M357.5 91.2l3.2 3.2M357.5 94.4l3.2 -3.2M351.4 91.2l3.2 3.2M351.4 94.4l3.2 -3.2M414.8 94.5l3.2 3.2M414.8 97.7l3.2 -3.2M412.1 94.3l3.2 3.2M412.1 97.5l3.2 -3.2M366.2 82.2l3.2 3.2M366.2 85.4l3.2 -3.2M377.9 87.5l3.2 3.2M377.9 90.7l3.2 -3.2M349.1 82.2l3.2 3.2M349.1 85.4l3.2 -3.2M384.4 92.7l3.2 3.2M384.4 95.9l3.2 -3.2M416.6 94.7l3.2 3.2M416.6 97.9l3.2 -3.2M411.6 85.3l3.2 3.2M411.6 88.5l3.2 -3.2M356.7 96.7l3.2 3.2M356.7 99.9l3.2 -3.2M391.2 95.2l3.2 3.2M391.2 98.4l3.2 -3.2M364.3 97.7l3.2 3.2M364.3 100.9l3.2 -3.2M393.8 92.9l3.2 3.2M393.8 96.1l3.2 -3.2M384.6 77.5l3.2 3.2M384.6 80.7l3.2 -3.2M400.9 93.8l3.2 3.2M400.9 97.0l3.2 -3.2M422.2 86.8l3.2 3.2M422.2 90.0l3.2 -3.2M402.1 82.9l3.2 3.2M402.1 86.1l3.2 -3.2M395.0 93.0l3.2 3.2M395.0 96.2l3.2 -3.2M395.6 93.2l3.2 3.2M395.6 96.4l3.2 -3.2M410.7 89.4l3.2 3.2M410.7 92.6l3.2 -3.2M381.3 86.1l3.2 3.2M381.3 89.3l3.2 -3.2M379.4 96.2l3.2 3.2M379.4 99.4l3.2 -3.2M382.4 92.9l3.2 3.2M382.4 96.1l3.2 -3.2M425.8 84.3l3.2 3.2M425.8 87.5l3.2 -3.2M389.9 93.3l3.2 3.2M389.9 96.5l3.2 -3.2M403.7 88.8l3.2 3.2M403.7 92.0l3.2 -3.2M383.8 84.6l3.2 3.2M383.8 87.8l3.2 -3.2M355.7 89.1l3.2 3.2M355.7 92.3l3.2 -3.2M381.1 89.9l3.2 3.2M381.1 93.1l3.2 -3.2M398.4 92.7l3.2 3.2M398.4 95.9l3.2 -3.2M379.4 92.0l3.2 3.2M379.4 95.2l3.2 -3.2M373.4 91.4l3.2 3.2M373.4 94.6l3.2 -3.2M374.6 96.1l3.2 3.2M374.6 99.3l3.2 -3.2M399.6 92.5l3.2 3.2M399.6 95.7l3.2 -3.2M398.4 91.2l3.2 3.2M398.4 94.4l3.2 -3.2M391.5 86.5l3.2 3.2M391.5 89.7l3.2 -3.2M365.2 90.0l3.2 3.2M365.2 93.2l3.2 -3.2M370.6 91.5l3.2 3.2M370.6 94.7l3.2 -3.2M480.9 86.6l3.2 3.2M480.9 89.8l3.2 -3.2M384.9 89.4l3.2 3.2M384.9 92.6l3.2 -3.2M402.8 91.5l3.2 3.2M402.8 94.7l3.2 -3.2M394.4 92.3l3.2 3.2M394.4 95.5l3.2 -3.2M356.3 87.6l3.2 3.2M356.3 90.8l3.2 -3.2M417.3 95.2l3.2 3.2M417.3 98.4l3.2 -3.2M389.1 91.9l3.2 3.2M389.1 95.1l3.2 -3.2M364.9 92.0l3.2 3.2M364.9 95.2l3.2 -3.2M402.8 95.9l3.2 3.2M402.8 99.1l3.2 -3.2M374.0 90.7l3.2 3.2M374.0 93.9l3.2 -3.2M391.7 96.0l3.2 3.2M391.7 99.2l3.2 -3.2M363.5 80.2l3.2 3.2M363.5 83.4l3.2 -3.2M380.7 94.3l3.2 3.2M380.7 97.5l3.2 -3.2M410.7 82.9l3.2 3.2M410.7 86.1l3.2 -3.2M378.5 87.5l3.2 3.2M378.5 90.7l3.2 -3.2M358.7 83.7l3.2 3.2M358.7 86.9l3.2 -3.2M374.5 82.1l3.2 3.2M374.5 85.3l3.2 -3.2M399.1 97.7l3.2 3.2M399.1 100.9l3.2 -3.2M357.0 80.2l3.2 3.2M357.0 83.4l3.2 -3.2M357.7 85.4l3.2 3.2M357.7 88.6l3.2 -3.2M405.3 92.7l3.2 3.2M405.3 95.9l3.2 -3.2M388.8 92.9l3.2 3.2M388.8 96.1l3.2 -3.2M388.8 87.9l3.2 3.2M388.8 91.1l3.2 -3.2M372.6 95.8l3.2 3.2M372.6 99.0l3.2 -3.2M404.1 82.3l3.2 3.2M404.1 85.5l3.2 -3.2M407.7 91.3l3.2 3.2M407.7 94.5l3.2 -3.2M402.0 86.7l3.2 3.2M402.0 89.9l3.2 -3.2M347.8 86.4l3.2 3.2M347.8 89.6l3.2 -3.2M402.2 92.1l3.2 3.2M402.2 95.3l3.2 -3.2M348.4 88.6l3.2 3.2M348.4 91.8l3.2 -3.2M426.4 95.5l3.2 3.2M426.4 98.7l3.2 -3.2M382.6 83.3l3.2 3.2M382.6 86.5l3.2 -3.2M403.1 90.2l3.2 3.2M403.1 93.4l3.2 -3.2M398.4 87.5l3.2 3.2M398.4 90.7l3.2 -3.2M375.4 86.3l3.2 3.2M375.4 89.5l3.2 -3.2M419.5 88.1l3.2 3.2M419.5 91.3l3.2 -3.2M395.8 87.6l3.2 3.2M395.8 90.8l3.2 -3.2M443.6 86.8l3.2 3.2M443.6 90.0l3.2 -3.2M402.6 93.0l3.2 3.2M402.6 96.2l3.2 -3.2M393.8 94.0l3.2 3.2M393.8 97.2l3.2 -3.2M448.4 93.4l3.2 3.2M448.4 96.6l3.2 -3.2M421.4 92.7l3.2 3.2M421.4 95.9l3.2 -3.2M390.3 89.0l3.2 3.2M390.3 92.2l3.2 -3.2M374.9 83.1l3.2 3.2M374.9 86.3l3.2 -3.2M438.8 87.9l3.2 3.2M438.8 91.1l3.2 -3.2M421.0 88.6l3.2 3.2M421.0 91.8l3.2 -3.2M416.4 94.4l3.2 3.2M416.4 97.6l3.2 -3.2M384.2 86.6l3.2 3.2M384.2 89.8l3.2 -3.2M376.4 87.6l3.2 3.2M376.4 90.8l3.2 -3.2M371.7 84.7l3.2 3.2M371.7 87.9l3.2 -3.2M417.3 90.9l3.2 3.2M417.3 94.1l3.2 -3.2M385.2 90.7l3.2 3.2M385.2 93.9l3.2 -3.2M406.3 89.6l3.2 3.2M406.3 92.8l3.2 -3.2M336.2 89.2l3.2 3.2M336.2 92.4l3.2 -3.2M411.6 94.5l3.2 3.2M411.6 97.7l3.2 -3.2M373.8 87.2l3.2 3.2M373.8 90.4l3.2 -3.2M362.8 83.1l3.2 3.2M362.8 86.3l3.2 -3.2M400.1 89.2l3.2 3.2M400.1 92.4l3.2 -3.2M421.8 96.4l3.2 3.2M421.8 99.6l3.2 -3.2M328.8 79.3l3.2 3.2M328.8 82.5l3.2 -3.2M362.4 80.2l3.2 3.2M362.4 83.4l3.2 -3.2M388.7 94.1l3.2 3.2M388.7 97.3l3.2 -3.2M350.1 89.5l3.2 3.2M350.1 92.7l3.2 -3.2M382.1 84.4l3.2 3.2M382.1 87.6l3.2 -3.2M365.0 86.9l3.2 3.2M365.0 90.1l3.2 -3.2M386.0 95.6l3.2 3.2M386.0 98.8l3.2 -3.2M357.2 82.2l3.2 3.2M357.2 85.4l3.2 -3.2M380.6 88.3l3.2 3.2M380.6 91.5l3.2 -3.2M369.4 86.6l3.2 3.2M369.4 89.8l3.2 -3.2M395.5 84.4l3.2 3.2M395.5 87.6l3.2 -3.2M384.5 91.9l3.2 3.2M384.5 95.1l3.2 -3.2M409.9 93.8l3.2 3.2M409.9 97.0l3.2 -3.2M396.2 86.8l3.2 3.2M396.2 90.0l3.2 -3.2M433.7 87.8l3.2 3.2M433.7 91.0l3.2 -3.2M350.6 86.4l3.2 3.2M350.6 89.6l3.2 -3.2M386.3 84.0l3.2 3.2M386.3 87.2l3.2 -3.2M408.5 88.6l3.2 3.2M408.5 91.8l3.2 -3.2M394.8 84.8l3.2 3.2M394.8 88.0l3.2 -3.2M395.6 90.7l3.2 3.2M395.6 93.9l3.2 -3.2M380.4 84.1l3.2 3.2M380.4 87.3l3.2 -3.2M444.6 96.5l3.2 3.2M444.6 99.7l3.2 -3.2M383.5 92.6l3.2 3.2M383.5 95.8l3.2 -3.2M405.4 89.7l3.2 3.2M405.4 92.9l3.2 -3.2M364.9 89.1l3.2 3.2M364.9 92.3l3.2 -3.2M402.1 94.4l3.2 3.2M402.1 97.6l3.2 -3.2M368.9 82.1l3.2 3.2M368.9 85.3l3.2 -3.2M379.8 88.6l3.2 3.2M379.8 91.8l3.2 -3.2M355.1 81.0l3.2 3.2M355.1 84.2l3.2 -3.2M409.3 94.6l3.2 3.2M409.3 97.8l3.2 -3.2M389.3 89.1l3.2 3.2M389.3 92.3l3.2 -3.2M428.0 92.5l3.2 3.2M428.0 95.7l3.2 -3.2M355.1 86.9l3.2 3.2M355.1 90.1l3.2 -3.2M363.5 94.9l3.2 3.2M363.5 98.1l3.2 -3.2M408.6 85.2l3.2 3.2M408.6 88.4l3.2 -3.2M375.7 89.9l3.2 3.2M375.7 93.1l3.2 -3.2M409.6 89.7l3.2 3.2M409.6 92.9l3.2 -3.2M401.1 94.6l3.2 3.2M401.1 97.8l3.2 -3.2M376.0 81.8l3.2 3.2M376.0 85.0l3.2 -3.2M386.7 96.1l3.2 3.2M386.7 99.3l3.2 -3.2M408.2 82.2l3.2 3.2M408.2 85.4l3.2 -3.2M393.5 91.6l3.2 3.2M393.5 94.8l3.2 -3.2M382.8 90.7l3.2 3.2M382.8 93.9l3.2 -3.2M374.9 91.7l3.2 3.2M374.9 94.9l3.2 -3.2M388.2 83.3l3.2 3.2M388.2 86.5l3.2 -3.2M409.8 94.6l3.2 3.2M409.8 97.8l3.2 -3.2M435.8 96.3l3.2 3.2M435.8 99.5l3.2 -3.2M351.7 91.5l3.2 3.2M351.7 94.7l3.2 -3.2M366.4 86.0l3.2 3.2M366.4 89.2l3.2 -3.2M386.9 87.0l3.2 3.2M386.9 90.2l3.2 -3.2M421.7 94.7l3.2 3.2M421.7 97.9l3.2 -3.2M370.1 86.1l3.2 3.2M370.1 89.3l3.2 -3.2M450.4 86.5l3.2 3.2M450.4 89.7l3.2 -3.2M446.5 90.0l3.2 3.2M446.5 93.2l3.2 -3.2M333.0 84.4l3.2 3.2M333.0 87.6l3.2 -3.2M402.2 94.9l3.2 3.2M402.2 98.1l3.2 -3.2M409.1 83.9l3.2 3.2M409.1 87.1l3.2 -3.2M381.4 86.1l3.2 3.2M381.4 89.3l3.2 -3.2M339.8 92.9l3.2 3.2M339.8 96.1l3.2 -3.2M393.6 93.1l3.2 3.2M393.6 96.3l3.2 -3.2M370.7 100.7l3.2 3.2M370.7 103.9l3.2 -3.2M419.7 89.2l3.2 3.2M419.7 92.4l3.2 -3.2M399.2 95.7l3.2 3.2M399.2 98.9l3.2 -3.2M366.0 89.4l3.2 3.2M366.0 92.6l3.2 -3.2M441.7 86.7l3.2 3.2M441.7 89.9l3.2 -3.2M429.3 98.4l3.2 3.2M429.3 101.6l3.2 -3.2M428.9 88.3l3.2 3.2M428.9 91.5l3.2 -3.2M390.5 91.1l3.2 3.2M390.5 94.3l3.2 -3.2M408.9 95.7l3.2 3.2M408.9 98.9l3.2 -3.2M397.0 84.5l3.2 3.2M397.0 87.7l3.2 -3.2M378.3 87.2l3.2 3.2M378.3 90.4l3.2 -3.2M342.6 90.0l3.2 3.2M342.6 93.2l3.2 -3.2M398.7 88.0l3.2 3.2M398.7 91.2l3.2 -3.2M340.3 89.4l3.2 3.2M340.3 92.6l3.2 -3.2M404.5 94.5l3.2 3.2M404.5 97.7l3.2 -3.2M356.0 89.4l3.2 3.2M356.0 92.6l3.2 -3.2M398.8 85.9l3.2 3.2M398.8 89.1l3.2 -3.2M378.0 96.2l3.2 3.2M378.0 99.4l3.2 -3.2M358.2 93.7l3.2 3.2M358.2 96.9l3.2 -3.2M368.2 84.6l3.2 3.2M368.2 87.8l3.2 -3.2M371.5 95.0l3.2 3.2M371.5 98.2l3.2 -3.2M425.7 92.9l3.2 3.2M425.7 96.1l3.2 -3.2M398.4 91.7l3.2 3.2M398.4 94.9l3.2 -3.2M379.3 95.0l3.2 3.2M379.3 98.2l3.2 -3.2M407.6 94.3l3.2 3.2M407.6 97.5l3.2 -3.2M361.3 88.7l3.2 3.2M361.3 91.9l3.2 -3.2M352.9 88.0l3.2 3.2M352.9 91.2l3.2 -3.2M370.3 85.9l3.2 3.2M370.3 89.1l3.2 -3.2M415.6 90.5l3.2 3.2M415.6 93.7l3.2 -3.2M385.6 85.5l3.2 3.2M385.6 88.7l3.2 -3.2M393.0 89.1l3.2 3.2M393.0 92.3l3.2 -3.2M390.8 91.8l3.2 3.2M390.8 95.0l3.2 -3.2M381.2 86.5l3.2 3.2M381.2 89.7l3.2 -3.2M420.9 89.8l3.2 3.2M420.9 93.0l3.2 -3.2M409.5 87.2l3.2 3.2M409.5 90.4l3.2 -3.2M367.8 89.2l3.2 3.2M367.8 92.4l3.2 -3.2M363.6 88.8l3.2 3.2M363.6 92.0l3.2 -3.2M387.5 90.2l3.2 3.2M387.5 93.4l3.2 -3.2M361.6 94.7l3.2 3.2M361.6 97.9l3.2 -3.2M390.2 87.8l3.2 3.2M390.2 91.0l3.2 -3.2M404.4 93.7l3.2 3.2M404.4 96.9l3.2 -3.2M387.6 93.1l3.2 3.2M387.6 96.3l3.2 -3.2M392.1 91.6l3.2 3.2M392.1 94.8l3.2 -3.2M383.6 80.2l3.2 3.2M383.6 83.4l3.2 -3.2M366.4 91.9l3.2 3.2M366.4 95.1l3.2 -3.2M368.8 81.8l3.2 3.2M368.8 85.0l3.2 -3.2M413.2 100.6l3.2 3.2M413.2 103.8l3.2 -3.2M369.0 89.8l3.2 3.2M369.0 93.0l3.2 -3.2M397.1 81.7l3.2 3.2M397.1 84.9l3.2 -3.2M391.9 89.1l3.2 3.2M391.9 92.3l3.2 -3.2M400.7 88.8l3.2 3.2M400.7 92.0l3.2 -3.2M378.6 91.6l3.2 3.2M378.6 94.8l3.2 -3.2M342.8 95.6l3.2 3.2M342.8 98.8l3.2 -3.2M356.3 81.2l3.2 3.2M356.3 84.4l3.2 -3.2M361.7 81.9l3.2 3.2M361.7 85.1l3.2 -3.2M363.4 78.9l3.2 3.2M363.4 82.1l3.2 -3.2M374.4 84.0l3.2 3.2M374.4 87.2l3.2 -3.2M348.9 75.5l3.2 3.2M348.9 78.7l3.2 -3.2M356.7 85.5l3.2 3.2M356.7 88.7l3.2 -3.2M345.6 79.7l3.2 3.2M345.6 82.9l3.2 -3.2M351.9 76.9l3.2 3.2M351.9 80.1l3.2 -3.2M366.3 85.7l3.2 3.2M366.3 88.9l3.2 -3.2M373.7 85.0l3.2 3.2M373.7 88.2l3.2 -3.2M370.7 83.0l3.2 3.2M370.7 86.2l3.2 -3.2M356.0 79.7l3.2 3.2M356.0 82.9l3.2 -3.2M348.4 79.3l3.2 3.2M348.4 82.5l3.2 -3.2M349.2 90.4l3.2 3.2M349.2 93.6l3.2 -3.2M349.5 83.1l3.2 3.2M349.5 86.3l3.2 -3.2M352.0 81.3l3.2 3.2M352.0 84.5l3.2 -3.2M365.3 80.9l3.2 3.2M365.3 84.1l3.2 -3.2M347.7 80.9l3.2 3.2M347.7 84.1l3.2 -3.2M328.9 82.5l3.2 3.2M328.9 85.7l3.2 -3.2M334.9 81.7l3.2 3.2M334.9 84.9l3.2 -3.2M387.8 88.1l3.2 3.2M387.8 91.3l3.2 -3.2M367.4 79.3l3.2 3.2M367.4 82.5l3.2 -3.2M343.8 89.9l3.2 3.2M343.8 93.1l3.2 -3.2M346.8 82.7l3.2 3.2M346.8 85.9l3.2 -3.2M359.5 85.1l3.2 3.2M359.5 88.3l3.2 -3.2M354.1 81.1l3.2 3.2M354.1 84.3l3.2 -3.2M354.3 85.3l3.2 3.2M354.3 88.5l3.2 -3.2M332.5 81.1l3.2 3.2M332.5 84.3l3.2 -3.2M352.1 80.2l3.2 3.2M352.1 83.4l3.2 -3.2M359.2 78.7l3.2 3.2M359.2 81.9l3.2 -3.2M354.3 78.5l3.2 3.2M354.3 81.7l3.2 -3.2M370.5 82.8l3.2 3.2M370.5 86.0l3.2 -3.2M351.0 79.6l3.2 3.2M351.0 82.8l3.2 -3.2M382.6 69.9l3.2 3.2M382.6 73.1l3.2 -3.2M387.5 67.2l3.2 3.2M387.5 70.4l3.2 -3.2M376.8 73.8l3.2 3.2M376.8 77.0l3.2 -3.2M329.8 73.2l3.2 3.2M329.8 76.4l3.2 -3.2M369.6 71.0l3.2 3.2M369.6 74.2l3.2 -3.2M373.6 73.0l3.2 3.2M373.6 76.2l3.2 -3.2M365.2 69.8l3.2 3.2M365.2 73.0l3.2 -3.2M361.6 69.7l3.2 3.2M361.6 72.9l3.2 -3.2M376.5 64.8l3.2 3.2M376.5 68.0l3.2 -3.2M361.8 71.6l3.2 3.2M361.8 74.8l3.2 -3.2M385.2 65.9l3.2 3.2M385.2 69.1l3.2 -3.2M395.7 73.2l3.2 3.2M395.7 76.4l3.2 -3.2" style="fill:none;stroke:#0000ff;stroke-width:1.2"/></g>
   <g id="PHT_g"><path d="M450.3 79.9h3.7M452.2 78.0v3.7M429.5 86.2h3.7M431.3 84.4v3.7M460.1 91.3h3.7M462.0 89.4v3.7M446.0 80.2h3.7M447.8 78.3v3.7M456.6 80.5h3.7M458.5 78.6v3.7M448.0 88.0h3.7M449.9 86.2v3.7M449.3 83.4h3.7M451.2 81.6v3.7M462.4 81.2h3.7M464.3 79.4v3.7M451.6 83.1h3.7M453.4 81.3v3.7M478.1 87.4h3.7M479.9 85.5v3.7M474.8 76.5h3.7M476.7 74.7v3.7M461.9 85.2h3.7M463.7 83.3v3.7M448.9 77.1h3.7M450.7 75.3v3.7M461.2 84.1h3.7M463.0 82.2v3.7M453.9 84.9h3.7M455.7 83.1v3.7M463.6 77.2h3.7M465.5 75.3v3.7M449.2 86.4h3.7M451.0 84.6v3.7M436.0 80.7h3.7M437.9 78.9v3.7M437.3 79.9h3.7M439.2 78.1v3.7M451.9 77.4h3.7M453.8 75.5v3.7M462.1 84.0h3.7M464.0 82.1v3.7M444.6 90.9h3.7M446.4 89.1v3.7M436.5 91.4h3.7M438.3 89.6v3.7M442.4 92.1h3.7M444.2 90.2v3.7M456.3 89.4h3.7M458.1 87.6v3.7M442.5 83.6h3.7M444.3 81.7v3.7M441.4 84.5h3.7M443.2 82.7v3.7M449.9 85.8h3.7M451.8 84.0v3.7M458.9 84.2h3.7M460.8 82.4v3.7M430.2 86.3h3.7M432.1 84.5v3.7M443.9 83.3h3.7M445.7 81.5v3.7M449.8 82.8h3.7M451.6 80.9v3.7M449.3 72.2h3.7M451.1 70.3v3.7M456.3 84.9h3.7M458.2 83.1v3.7M461.3 85.0h3.7M463.1 83.2v3.7M438.1 84.4h3.7M439.9 82.5v3.7M482.1 88.9h3.7M484.0 87.0v3.7M457.5 79.4h3.7M459.4 77.6v3.7M469.0 90.8h3.7M470.9 88.9v3.7M466.2 73.5h3.7M468.0 71.6v3.7M419.0 90.2h3.7M420.8 88.4v3.7M431.3 82.8h3.7M433.1 81.0v3.7M456.3 78.3h3.7M458.1 76.5v3.7M458.7 80.8h3.7M460.6 79.0v3.7M460.6 79.8h3.7M462.4 77.9v3.7M417.1 89.7h3.7M419.0 87.9v3.7M442.9 78.3h3.7M444.8 76.5v3.7M458.2 80.5h3.7M460.0 78.7v3.7M472.3 76.0h3.7M474.2 74.1v3.7M457.2 83.5h3.7M459.1 81.7v3.7M430.0 81.8h3.7M431.8 80.0v3.7M437.3 90.9h3.7M439.1 89.1v3.7M446.4 80.1h3.7M448.2 78.3v3.7M440.6 88.2h3.7M442.4 86.4v3.7M465.6 81.8h3.7M467.5 79.9v3.7M471.5 74.7h3.7M473.3 72.9v3.7M465.7 88.4h3.7M467.6 86.5v3.7M434.4 81.2h3.7M436.3 79.3v3.7M429.9 85.0h3.7M431.8 83.1v3.7M426.1 85.2h3.7M428.0 83.3v3.7M440.6 92.6h3.7M442.5 90.7v3.7M449.8 85.3h3.7M451.6 83.4v3.7M430.6 80.6h3.7M432.4 78.7v3.7M456.8 76.7h3.7M458.7 74.9v3.7M457.3 75.3h3.7M459.2 73.4v3.7M446.1 83.7h3.7M448.0 81.8v3.7M458.6 78.6h3.7M460.4 76.8v3.7M434.9 83.0h3.7M436.7 81.1v3.7M431.5 87.0h3.7M433.3 85.2v3.7M469.2 86.3h3.7M471.1 84.5v3.7M446.4 78.5h3.7M448.3 76.6v3.7M465.5 80.2h3.7M467.3 78.3v3.7M435.3 91.4h3.7M437.1 89.5v3.7M418.1 79.0h3.7M420.0 77.2v3.7M456.3 85.0h3.7M458.2 83.2v3.7M433.3 79.2h3.7M435.1 77.3v3.7M437.3 81.7h3.7M439.1 79.9v3.7M458.6 90.0h3.7M460.4 88.2v3.7M423.6 89.1h3.7M425.4 87.2v3.7M445.3 83.3h3.7M447.1 81.5v3.7M465.9 83.7h3.7M467.8 81.9v3.7M479.0 83.7h3.7M480.8 81.8v3.7M432.0 88.4h3.7M433.9 86.6v3.7M455.6 76.1h3.7M457.4 74.3v3.7M433.3 94.7h3.7M435.2 92.9v3.7M470.8 77.1h3.7M472.6 75.3v3.7M441.8 83.8h3.7M443.7 81.9v3.7M467.2 86.6h3.7M469.1 84.7v3.7M436.0 73.8h3.7M437.9 71.9v3.7M460.4 84.2h3.7M462.3 82.3v3.7M471.1 83.7h3.7M472.9 81.9v3.7M457.6 86.2h3.7M459.4 84.3v3.7M451.1 80.4h3.7M453.0 78.5v3.7M443.8 80.0h3.7M445.6 78.2v3.7M434.4 74.7h3.7M436.2 72.9v3.7M466.4 77.7h3.7M468.3 75.9v3.7M463.0 83.6h3.7M464.9 81.7v3.7M452.7 86.4h3.7M454.6 84.6v3.7M430.0 84.4h3.7M431.8 82.6v3.7M434.2 86.3h3.7M436.1 84.5v3.7M446.1 85.2h3.7M447.9 83.3v3.7M472.4 87.0h3.7M474.3 85.2v3.7M477.2 82.6h3.7M479.1 80.7v3.7M463.7 83.0h3.7M465.5 81.1v3.7M426.7 85.9h3.7M428.5 84.1v3.7M420.1 80.5h3.7M421.9 78.6v3.7M443.3 94.3h3.7M445.2 92.5v3.7M455.3 83.9h3.7M457.1 82.0v3.7M466.4 95.8h3.7M468.3 94.0v3.7M434.8 84.6h3.7M436.7 82.7v3.7M466.6 80.6h3.7M468.4 78.8v3.7M444.3 82.0h3.7M446.1 80.1v3.7M453.7 89.2h3.7M455.6 87.3v3.7M439.7 83.9h3.7M441.5 82.0v3.7M440.7 83.7h3.7M442.5 81.8v3.7M437.9 85.9h3.7M439.7 84.0v3.7M445.5 82.5h3.7M447.4 80.6v3.7M432.1 86.1h3.7M433.9 84.2v3.7M433.5 87.1h3.7M435.4 85.2v3.7M449.2 88.5h3.7M451.1 86.6v3.7M431.0 80.3h3.7M432.9 78.5v3.7M440.0 87.8h3.7M441.8 86.0v3.7M435.2 90.6h3.7M437.1 88.7v3.7M446.4 79.2h3.7M448.3 77.3v3.7M463.4 87.9h3.7M465.2 86.1v3.7M433.5 90.3h3.7M435.3 88.4v3.7M473.7 81.3h3.7M475.6 79.4v3.7M419.5 85.5h3.7M421.3 83.6v3.7M433.4 85.9h3.7M435.2 84.0v3.7M456.3 88.2h3.7M458.1 86.3v3.7M414.7 78.8h3.7M416.5 76.9v3.7M446.7 80.0h3.7M448.5 78.1v3.7M457.5 78.8h3.7M459.3 76.9v3.7M425.8 86.1h3.7M427.6 84.3v3.7M476.5 72.5h3.7M478.4 70.6v3.7M474.0 87.8h3.7M475.8 85.9v3.7M446.6 89.3h3.7M448.4 87.5v3.7M448.2 85.2h3.7M450.1 83.4v3.7M455.8 93.1h3.7M457.7 91.2v3.7M461.1 88.1h3.7M463.0 86.3v3.7M441.3 85.4h3.7M443.2 83.6v3.7M443.6 82.4h3.7M445.4 80.6v3.7M482.6 78.0h3.7M484.4 76.1v3.7M454.0 81.3h3.7M455.8 79.4v3.7M446.1 84.6h3.7M448.0 82.8v3.7M436.8 82.5h3.7M438.6 80.6v3.7M403.1 87.4h3.7M404.9 85.6v3.7M451.0 75.8h3.7M452.9 74.0v3.7M450.7 82.2h3.7M452.5 80.3v3.7M449.5 80.8h3.7M451.3 79.0v3.7M445.0 85.8h3.7M446.8 83.9v3.7M458.9 87.9h3.7M460.7 86.0v3.7M450.7 88.4h3.7M452.6 86.5v3.7M449.7 87.7h3.7M451.6 85.8v3.7M444.9 86.0h3.7M446.8 84.2v3.7M446.5 78.8h3.7M448.3 77.0v3.7M448.9 86.9h3.7M450.8 85.0v3.7M440.7 79.9h3.7M442.5 78.0v3.7M468.2 79.7h3.7M470.0 77.9v3.7M454.3 81.5h3.7M456.1 79.7v3.7M451.7 78.9h3.7M453.5 77.1v3.7M472.8 95.9h3.7M474.6 94.0v3.7M461.9 82.3h3.7M463.7 80.5v3.7M431.3 84.7h3.7M433.2 82.9v3.7M440.5 75.9h3.7M442.4 74.0v3.7M449.1 81.3h3.7M451.0 79.4v3.7M441.3 84.4h3.7M443.1 82.6v3.7M468.7 83.7h3.7M470.5 81.8v3.7M461.1 82.4h3.7M463.0 80.6v3.7M467.3 74.8h3.7M469.1 73.0v3.7M464.1 85.7h3.7M466.0 83.8v3.7M463.6 82.1h3.7M465.5 80.3v3.7M421.8 84.7h3.7M423.6 82.8v3.7M430.1 80.8h3.7M431.9 79.0v3.7M435.7 80.6h3.7M437.6 78.7v3.7M457.6 82.3h3.7M459.4 80.5v3.7M452.4 83.9h3.7M454.2 82.0v3.7M480.5 76.4h3.7M482.4 74.6v3.7M471.3 78.3h3.7M473.1 76.4v3.7M470.7 81.3h3.7M472.5 79.4v3.7M438.4 85.4h3.7M440.2 83.5v3.7M449.8 80.6h3.7M451.7 78.7v3.7M464.5 82.7h3.7M466.3 80.9v3.7M436.1 77.5h3.7M438.0 75.6v3.7M441.3 79.6h3.7M443.2 77.7v3.7M474.3 87.1h3.7M476.2 85.3v3.7M482.3 81.1h3.7M484.2 79.3v3.7M428.9 72.4h3.7M430.8 70.6v3.7M450.2 79.9h3.7M452.1 78.1v3.7M428.9 87.4h3.7M430.8 85.6v3.7M419.1 83.6h3.7M421.0 81.8v3.7M439.7 77.3h3.7M441.6 75.5v3.7M460.7 76.7h3.7M462.6 74.9v3.7M454.7 90.5h3.7M456.5 88.7v3.7M456.1 77.4h3.7M458.0 75.5v3.7M472.9 74.9h3.7M474.8 73.0v3.7M441.1 74.6h3.7M442.9 72.8v3.7M441.9 88.8h3.7M443.8 86.9v3.7M471.4 83.2h3.7M473.2 81.4v3.7M464.0 76.1h3.7M465.9 74.3v3.7M439.7 78.0h3.7M441.6 76.2v3.7M430.2 83.4h3.7M432.1 81.6v3.7M447.3 87.1h3.7M449.1 85.3v3.7M451.9 82.7h3.7M453.7 80.9v3.7M455.3 79.8h3.7M457.2 78.0v3.7M444.1 87.2h3.7M445.9 85.4v3.7M450.3 83.2h3.7M452.2 81.4v3.7M443.4 75.6h3.7M445.2 73.8v3.7M451.8 75.7h3.7M453.7 73.9v3.7M440.1 81.0h3.7M441.9 79.2v3.7M434.2 74.8h3.7M436.1 72.9v3.7M450.4 83.1h3.7M452.2 81.3v3.7M435.5 85.0h3.7M437.4 83.2v3.7M435.5 85.2h3.7M437.4 83.4v3.7M454.4 88.1h3.7M456.3 86.3v3.7M452.8 85.0h3.7M454.6 83.1v3.7M475.7 85.3h3.7M477.5 83.5v3.7M479.8 72.9h3.7M481.6 71.1v3.7M446.4 77.3h3.7M448.2 75.4v3.7M451.1 71.0h3.7M452.9 69.2v3.7M436.6 87.1h3.7M438.5 85.3v3.7M430.8 78.1h3.7M432.7 76.3v3.7M470.6 85.7h3.7M472.5 83.9v3.7M455.0 90.1h3.7M456.9 88.3v3.7M442.4 79.2h3.7M444.2 77.4v3.7M473.5 87.0h3.7M475.3 85.1v3.7M461.2 79.2h3.7M463.1 77.3v3.7M467.5 70.1h3.7M469.3 68.2v3.7M442.8 81.8h3.7M444.7 79.9v3.7M413.8 81.7h3.7M415.7 79.8v3.7M465.7 89.5h3.7M467.5 87.7v3.7M459.0 80.7h3.7M460.8 78.9v3.7M486.6 78.2h3.7M488.5 76.4v3.7M474.8 78.4h3.7M476.6 76.5v3.7M480.4 91.2h3.7M482.3 89.4v3.7M475.9 86.1h3.7M477.7 84.3v3.7M485.8 89.0h3.7M487.6 87.1v3.7M489.7 88.6h3.7M491.5 86.7v3.7M498.8 92.8h3.7M500.7 91.0v3.7M461.5 85.1h3.7M463.3 83.3v3.7M466.0 86.9h3.7M467.8 85.1v3.7M509.6 87.2h3.7M511.5 85.3v3.7M496.3 89.8h3.7M498.1 88.0v3.7M480.9 74.7h3.7M482.8 72.8v3.7M518.0 99.2h3.7M519.9 97.4v3.7M426.9 86.2h3.7M428.7 84.4v3.7M470.5 89.7h3.7M472.3 87.9v3.7M475.6 86.3h3.7M477.5 84.5v3.7M493.9 84.0h3.7M495.7 82.2v3.7M455.9 85.8h3.7M457.8 84.0v3.7M495.8 73.4h3.7M497.6 71.6v3.7M486.1 86.1h3.7M488.0 84.3v3.7M508.8 82.5h3.7M510.6 80.6v3.7M445.6 84.9h3.7M447.4 83.1v3.7M464.2 89.9h3.7M466.1 88.0v3.7" style="fill:none;stroke:#008000;stroke-width:1.45"/></g>
   <g id="PHT_y"><path d="M400.4 81.5l3.2 3.2M400.4 84.7l3.2 -3.2M428.3 89.5l3.2 3.2M428.3 92.7l3.2 -3.2M415.4 87.5l3.2 3.2M415.4 90.7l3.2 -3.2M344.5 83.0l3.2 3.2M344.5 86.2l3.2 -3.2M406.4 92.5l3.2 3.2M406.4 95.7l3.2 -3.2M418.4 82.8l3.2 3.2M418.4 86.0l3.2 -3.2M368.3 84.0l3.2 3.2M368.3 87.2l3.2 -3.2M395.2 84.0l3.2 3.2M395.2 87.2l3.2 -3.2M398.9 83.7l3.2 3.2M398.9 86.9l3.2 -3.2M417.2 86.5l3.2 3.2M417.2 89.7l3.2 -3.2M437.7 71.6l3.2 3.2M437.7 74.8l3.2 -3.2M373.3 93.6l3.2 3.2M373.3 96.8l3.2 -3.2M384.3 87.2l3.2 3.2M384.3 90.4l3.2 -3.2M447.6 92.3l3.2 3.2M447.6 95.5l3.2 -3.2M436.8 81.1l3.2 3.2M436.8 84.3l3.2 -3.2M449.8 77.9l3.2 3.2M449.8 81.1l3.2 -3.2M405.2 73.6l3.2 3.2M405.2 76.8l3.2 -3.2M433.4 86.9l3.2 3.2M433.4 90.1l3.2 -3.2M345.6 80.1l3.2 3.2M345.6 83.3l3.2 -3.2M419.0 87.9l3.2 3.2M419.0 91.1l3.2 -3.2M382.7 83.8l3.2 3.2M382.7 87.0l3.2 -3.2M370.9 80.0l3.2 3.2M370.9 83.2l3.2 -3.2M380.3 91.4l3.2 3.2M380.3 94.6l3.2 -3.2M432.5 84.0l3.2 3.2M432.5 87.2l3.2 -3.2M445.1 86.3l3.2 3.2M445.1 89.5l3.2 -3.2M394.3 81.4l3.2 3.2M394.3 84.6l3.2 -3.2M397.5 79.0l3.2 3.2M397.5 82.2l3.2 -3.2M437.8 90.9l3.2 3.2M437.8 94.1l3.2 -3.2M390.0 84.0l3.2 3.2M390.0 87.2l3.2 -3.2M414.4 90.6l3.2 3.2M414.4 93.8l3.2 -3.2M424.1 95.5l3.2 3.2M424.1 98.7l3.2 -3.2M438.1 88.9l3.2 3.2M438.1 92.1l3.2 -3.2M400.5 86.9l3.2 3.2M400.5 90.1l3.2 -3.2M402.7 89.3l3.2 3.2M402.7 92.5l3.2 -3.2M424.0 76.2l3.2 3.2M424.0 79.4l3.2 -3.2M395.2 82.8l3.2 3.2M395.2 86.0l3.2 -3.2M391.9 77.6l3.2 3.2M391.9 80.8l3.2 -3.2M382.1 75.8l3.2 3.2M382.1 79.0l3.2 -3.2M418.0 82.2l3.2 3.2M418.0 85.4l3.2 -3.2M409.8 69.3l3.2 3.2M409.8 72.5l3.2 -3.2M413.9 80.6l3.2 3.2M413.9 83.8l3.2 -3.2M407.1 82.3l3.2 3.2M407.1 85.5l3.2 -3.2M440.0 87.1l3.2 3.2M440.0 90.3l3.2 -3.2M415.8 84.8l3.2 3.2M415.8 88.0l3.2 -3.2M405.3 81.0l3.2 3.2M405.3 84.2l3.2 -3.2M378.8 82.7l3.2 3.2M378.8 85.9l3.2 -3.2M396.7 81.8l3.2 3.2M396.7 85.0l3.2 -3.2M406.9 81.1l3.2 3.2M406.9 84.3l3.2 -3.2M445.5 90.0l3.2 3.2M445.5 93.2l3.2 -3.2M419.9 87.1l3.2 3.2M419.9 90.3l3.2 -3.2M399.1 85.2l3.2 3.2M399.1 88.4l3.2 -3.2M426.7 85.7l3.2 3.2M426.7 88.9l3.2 -3.2M424.1 90.1l3.2 3.2M424.1 93.3l3.2 -3.2M396.0 83.6l3.2 3.2M396.0 86.8l3.2 -3.2M419.6 87.7l3.2 3.2M419.6 90.9l3.2 -3.2M379.2 78.0l3.2 3.2M379.2 81.2l3.2 -3.2M410.5 87.4l3.2 3.2M410.5 90.6l3.2 -3.2M458.4 81.4l3.2 3.2M458.4 84.6l3.2 -3.2M433.4 93.6l3.2 3.2M433.4 96.8l3.2 -3.2M423.5 83.9l3.2 3.2M423.5 87.1l3.2 -3.2M429.1 77.7l3.2 3.2M429.1 80.9l3.2 -3.2M425.4 82.8l3.2 3.2M425.4 86.0l3.2 -3.2M377.7 79.9l3.2 3.2M377.7 83.1l3.2 -3.2M396.0 82.2l3.2 3.2M396.0 85.4l3.2 -3.2M390.4 85.0l3.2 3.2M390.4 88.2l3.2 -3.2M419.2 80.4l3.2 3.2M419.2 83.6l3.2 -3.2M430.7 80.8l3.2 3.2M430.7 84.0l3.2 -3.2M459.0 80.7l3.2 3.2M459.0 83.9l3.2 -3.2M404.4 86.4l3.2 3.2M404.4 89.6l3.2 -3.2M379.5 86.0l3.2 3.2M379.5 89.2l3.2 -3.2M416.8 97.9l3.2 3.2M416.8 101.1l3.2 -3.2M406.9 82.7l3.2 3.2M406.9 85.9l3.2 -3.2M415.1 88.8l3.2 3.2M415.1 92.0l3.2 -3.2M408.8 87.3l3.2 3.2M408.8 90.5l3.2 -3.2M420.1 78.8l3.2 3.2M420.1 82.0l3.2 -3.2M393.2 82.4l3.2 3.2M393.2 85.6l3.2 -3.2M415.3 81.1l3.2 3.2M415.3 84.3l3.2 -3.2M433.2 86.9l3.2 3.2M433.2 90.1l3.2 -3.2M412.3 80.7l3.2 3.2M412.3 83.9l3.2 -3.2M421.9 83.0l3.2 3.2M421.9 86.2l3.2 -3.2M391.8 82.3l3.2 3.2M391.8 85.5l3.2 -3.2M429.9 83.7l3.2 3.2M429.9 86.9l3.2 -3.2M404.5 74.5l3.2 3.2M404.5 77.7l3.2 -3.2M392.0 89.4l3.2 3.2M392.0 92.6l3.2 -3.2M402.4 82.0l3.2 3.2M402.4 85.2l3.2 -3.2M398.2 81.8l3.2 3.2M398.2 85.0l3.2 -3.2M403.3 78.2l3.2 3.2M403.3 81.4l3.2 -3.2M393.8 80.5l3.2 3.2M393.8 83.7l3.2 -3.2M451.2 85.3l3.2 3.2M451.2 88.5l3.2 -3.2M430.6 82.1l3.2 3.2M430.6 85.3l3.2 -3.2M418.9 74.9l3.2 3.2M418.9 78.1l3.2 -3.2M419.0 77.2l3.2 3.2M419.0 80.4l3.2 -3.2M405.8 85.2l3.2 3.2M405.8 88.4l3.2 -3.2M428.3 81.8l3.2 3.2M428.3 85.0l3.2 -3.2M402.1 83.7l3.2 3.2M402.1 86.9l3.2 -3.2M405.2 75.9l3.2 3.2M405.2 79.1l3.2 -3.2M388.6 85.4l3.2 3.2M388.6 88.6l3.2 -3.2M437.4 75.7l3.2 3.2M437.4 78.9l3.2 -3.2M436.4 73.9l3.2 3.2M436.4 77.1l3.2 -3.2M435.3 83.4l3.2 3.2M435.3 86.6l3.2 -3.2M434.4 70.7l3.2 3.2M434.4 73.9l3.2 -3.2M348.3 84.6l3.2 3.2M348.3 87.8l3.2 -3.2M410.2 83.9l3.2 3.2M410.2 87.1l3.2 -3.2M432.8 78.6l3.2 3.2M432.8 81.8l3.2 -3.2M420.5 85.5l3.2 3.2M420.5 88.7l3.2 -3.2M367.9 82.6l3.2 3.2M367.9 85.8l3.2 -3.2M415.7 89.0l3.2 3.2M415.7 92.2l3.2 -3.2M424.8 84.8l3.2 3.2M424.8 88.0l3.2 -3.2M393.7 82.5l3.2 3.2M393.7 85.7l3.2 -3.2M379.1 90.2l3.2 3.2M379.1 93.4l3.2 -3.2M391.6 79.1l3.2 3.2M391.6 82.3l3.2 -3.2M413.4 83.3l3.2 3.2M413.4 86.5l3.2 -3.2M385.0 79.5l3.2 3.2M385.0 82.7l3.2 -3.2M398.2 79.4l3.2 3.2M398.2 82.6l3.2 -3.2M402.7 87.1l3.2 3.2M402.7 90.3l3.2 -3.2M403.8 79.9l3.2 3.2M403.8 83.1l3.2 -3.2M445.9 81.3l3.2 3.2M445.9 84.5l3.2 -3.2M385.4 86.5l3.2 3.2M385.4 89.7l3.2 -3.2M400.0 80.9l3.2 3.2M400.0 84.1l3.2 -3.2M353.1 89.0l3.2 3.2M353.1 92.2l3.2 -3.2M390.6 98.0l3.2 3.2M390.6 101.2l3.2 -3.2M357.0 80.9l3.2 3.2M357.0 84.1l3.2 -3.2M424.7 81.4l3.2 3.2M424.7 84.6l3.2 -3.2M404.0 73.2l3.2 3.2M404.0 76.4l3.2 -3.2M390.3 84.6l3.2 3.2M390.3 87.8l3.2 -3.2M427.1 77.9l3.2 3.2M427.1 81.1l3.2 -3.2M380.1 87.6l3.2 3.2M380.1 90.8l3.2 -3.2M401.7 88.8l3.2 3.2M401.7 92.0l3.2 -3.2M385.0 84.5l3.2 3.2M385.0 87.7l3.2 -3.2M381.8 81.7l3.2 3.2M381.8 84.9l3.2 -3.2M399.6 82.8l3.2 3.2M399.6 86.0l3.2 -3.2M389.5 76.8l3.2 3.2M389.5 80.0l3.2 -3.2M401.2 76.3l3.2 3.2M401.2 79.5l3.2 -3.2M378.4 89.5l3.2 3.2M378.4 92.7l3.2 -3.2M366.5 85.5l3.2 3.2M366.5 88.7l3.2 -3.2M438.8 72.4l3.2 3.2M438.8 75.6l3.2 -3.2M414.4 75.0l3.2 3.2M414.4 78.2l3.2 -3.2M397.1 88.5l3.2 3.2M397.1 91.7l3.2 -3.2M411.6 86.1l3.2 3.2M411.6 89.3l3.2 -3.2M379.4 71.7l3.2 3.2M379.4 74.9l3.2 -3.2M415.9 87.1l3.2 3.2M415.9 90.3l3.2 -3.2M368.4 75.7l3.2 3.2M368.4 78.9l3.2 -3.2M418.8 92.5l3.2 3.2M418.8 95.7l3.2 -3.2M415.4 83.0l3.2 3.2M415.4 86.2l3.2 -3.2M405.1 87.4l3.2 3.2M405.1 90.6l3.2 -3.2M424.0 80.0l3.2 3.2M424.0 83.2l3.2 -3.2M403.5 75.1l3.2 3.2M403.5 78.3l3.2 -3.2M448.4 79.0l3.2 3.2M448.4 82.2l3.2 -3.2M421.7 76.3l3.2 3.2M421.7 79.5l3.2 -3.2M367.2 75.9l3.2 3.2M367.2 79.1l3.2 -3.2M380.2 73.2l3.2 3.2M380.2 76.4l3.2 -3.2M447.9 79.7l3.2 3.2M447.9 82.9l3.2 -3.2M393.8 92.4l3.2 3.2M393.8 95.6l3.2 -3.2M416.3 90.2l3.2 3.2M416.3 93.4l3.2 -3.2M392.3 77.2l3.2 3.2M392.3 80.4l3.2 -3.2M444.5 78.3l3.2 3.2M444.5 81.5l3.2 -3.2M433.8 75.9l3.2 3.2M433.8 79.1l3.2 -3.2M427.4 83.6l3.2 3.2M427.4 86.8l3.2 -3.2M396.9 84.7l3.2 3.2M396.9 87.9l3.2 -3.2M400.5 92.2l3.2 3.2M400.5 95.4l3.2 -3.2M442.7 88.0l3.2 3.2M442.7 91.2l3.2 -3.2M393.4 83.3l3.2 3.2M393.4 86.5l3.2 -3.2M353.6 86.6l3.2 3.2M353.6 89.8l3.2 -3.2M447.7 91.0l3.2 3.2M447.7 94.2l3.2 -3.2M431.3 74.6l3.2 3.2M431.3 77.8l3.2 -3.2M374.5 82.8l3.2 3.2M374.5 86.0l3.2 -3.2M414.5 81.2l3.2 3.2M414.5 84.4l3.2 -3.2M422.8 82.0l3.2 3.2M422.8 85.2l3.2 -3.2M413.2 82.8l3.2 3.2M413.2 86.0l3.2 -3.2M450.3 88.1l3.2 3.2M450.3 91.3l3.2 -3.2M438.9 77.9l3.2 3.2M438.9 81.1l3.2 -3.2M388.4 86.0l3.2 3.2M388.4 89.2l3.2 -3.2M404.9 88.3l3.2 3.2M404.9 91.5l3.2 -3.2M430.7 75.9l3.2 3.2M430.7 79.1l3.2 -3.2M431.9 82.0l3.2 3.2M431.9 85.2l3.2 -3.2M399.1 79.6l3.2 3.2M399.1 82.8l3.2 -3.2M437.8 92.7l3.2 3.2M437.8 95.9l3.2 -3.2M386.1 73.6l3.2 3.2M386.1 76.8l3.2 -3.2M429.6 87.1l3.2 3.2M429.6 90.3l3.2 -3.2M364.1 89.3l3.2 3.2M364.1 92.5l3.2 -3.2M420.4 84.9l3.2 3.2M420.4 88.1l3.2 -3.2M460.6 87.5l3.2 3.2M460.6 90.7l3.2 -3.2M446.9 87.2l3.2 3.2M446.9 90.4l3.2 -3.2M387.1 80.3l3.2 3.2M387.1 83.5l3.2 -3.2M415.2 84.0l3.2 3.2M415.2 87.2l3.2 -3.2M435.1 82.5l3.2 3.2M435.1 85.7l3.2 -3.2M410.7 82.3l3.2 3.2M410.7 85.5l3.2 -3.2M413.9 81.6l3.2 3.2M413.9 84.8l3.2 -3.2M373.6 89.8l3.2 3.2M373.6 93.0l3.2 -3.2M393.1 73.8l3.2 3.2M393.1 77.0l3.2 -3.2M376.0 90.7l3.2 3.2M376.0 93.9l3.2 -3.2M375.0 86.5l3.2 3.2M375.0 89.7l3.2 -3.2M392.1 71.8l3.2 3.2M392.1 75.0l3.2 -3.2M443.2 83.0l3.2 3.2M443.2 86.2l3.2 -3.2M417.0 88.0l3.2 3.2M417.0 91.2l3.2 -3.2M387.2 82.2l3.2 3.2M387.2 85.4l3.2 -3.2M401.4 70.2l3.2 3.2M401.4 73.4l3.2 -3.2M382.7 82.5l3.2 3.2M382.7 85.7l3.2 -3.2M392.7 88.8l3.2 3.2M392.7 92.0l3.2 -3.2M411.2 81.3l3.2 3.2M411.2 84.5l3.2 -3.2M368.1 81.3l3.2 3.2M368.1 84.5l3.2 -3.2M414.2 87.0l3.2 3.2M414.2 90.2l3.2 -3.2M390.2 81.4l3.2 3.2M390.2 84.6l3.2 -3.2M435.1 94.4l3.2 3.2M435.1 97.6l3.2 -3.2M382.2 80.3l3.2 3.2M382.2 83.5l3.2 -3.2M411.4 81.3l3.2 3.2M411.4 84.5l3.2 -3.2M384.3 82.2l3.2 3.2M384.3 85.4l3.2 -3.2M419.6 85.9l3.2 3.2M419.6 89.1l3.2 -3.2M360.9 75.5l3.2 3.2M360.9 78.7l3.2 -3.2M392.2 79.0l3.2 3.2M392.2 82.2l3.2 -3.2M383.2 75.4l3.2 3.2M383.2 78.6l3.2 -3.2M366.0 86.1l3.2 3.2M366.0 89.3l3.2 -3.2M396.2 78.4l3.2 3.2M396.2 81.6l3.2 -3.2M400.1 73.1l3.2 3.2M400.1 76.3l3.2 -3.2M390.0 74.9l3.2 3.2M390.0 78.1l3.2 -3.2M380.6 87.7l3.2 3.2M380.6 90.9l3.2 -3.2M388.4 82.8l3.2 3.2M388.4 86.0l3.2 -3.2M387.9 86.1l3.2 3.2M387.9 89.3l3.2 -3.2M432.7 83.8l3.2 3.2M432.7 87.0l3.2 -3.2M419.5 82.4l3.2 3.2M419.5 85.6l3.2 -3.2M438.7 72.8l3.2 3.2M438.7 76.0l3.2 -3.2M429.4 74.1l3.2 3.2M429.4 77.3l3.2 -3.2M452.6 82.9l3.2 3.2M452.6 86.1l3.2 -3.2M407.8 77.7l3.2 3.2M407.8 80.9l3.2 -3.2M415.0 85.7l3.2 3.2M415.0 88.9l3.2 -3.2M410.8 89.3l3.2 3.2M410.8 92.5l3.2 -3.2M399.3 92.8l3.2 3.2M399.3 96.0l3.2 -3.2M425.4 87.0l3.2 3.2M425.4 90.2l3.2 -3.2M417.0 71.7l3.2 3.2M417.0 74.9l3.2 -3.2M420.8 81.4l3.2 3.2M420.8 84.6l3.2 -3.2M415.0 79.6l3.2 3.2M415.0 82.8l3.2 -3.2M434.5 76.6l3.2 3.2M434.5 79.8l3.2 -3.2M374.7 93.4l3.2 3.2M374.7 96.6l3.2 -3.2M423.7 83.7l3.2 3.2M423.7 86.9l3.2 -3.2M408.1 82.4l3.2 3.2M408.1 85.6l3.2 -3.2M392.6 75.9l3.2 3.2M392.6 79.1l3.2 -3.2M400.6 80.4l3.2 3.2M400.6 83.6l3.2 -3.2M422.8 91.6l3.2 3.2M422.8 94.8l3.2 -3.2M431.0 91.7l3.2 3.2M431.0 94.9l3.2 -3.2M403.5 81.0l3.2 3.2M403.5 84.2l3.2 -3.2M427.2 81.4l3.2 3.2M427.2 84.6l3.2 -3.2M419.6 90.2l3.2 3.2M419.6 93.4l3.2 -3.2M436.2 90.0l3.2 3.2M436.2 93.2l3.2 -3.2M435.1 82.0l3.2 3.2M435.1 85.2l3.2 -3.2M429.7 89.6l3.2 3.2M429.7 92.8l3.2 -3.2M400.5 80.8l3.2 3.2M400.5 84.0l3.2 -3.2M381.7 84.2l3.2 3.2M381.7 87.4l3.2 -3.2M444.6 83.9l3.2 3.2M444.6 87.1l3.2 -3.2M388.0 72.3l3.2 3.2M388.0 75.5l3.2 -3.2M430.9 87.0l3.2 3.2M430.9 90.2l3.2 -3.2M412.3 88.8l3.2 3.2M412.3 92.0l3.2 -3.2M451.3 85.2l3.2 3.2M451.3 88.4l3.2 -3.2M408.4 95.7l3.2 3.2M408.4 98.9l3.2 -3.2M401.6 78.6l3.2 3.2M401.6 81.8l3.2 -3.2M357.7 79.7l3.2 3.2M357.7 82.9l3.2 -3.2M425.2 82.2l3.2 3.2M425.2 85.4l3.2 -3.2M409.5 82.9l3.2 3.2M409.5 86.1l3.2 -3.2M394.7 83.4l3.2 3.2M394.7 86.6l3.2 -3.2M400.8 91.3l3.2 3.2M400.8 94.5l3.2 -3.2M442.0 83.5l3.2 3.2M442.0 86.7l3.2 -3.2M419.9 83.0l3.2 3.2M419.9 86.2l3.2 -3.2M430.7 78.3l3.2 3.2M430.7 81.5l3.2 -3.2M403.9 81.4l3.2 3.2M403.9 84.6l3.2 -3.2M417.3 77.3l3.2 3.2M417.3 80.5l3.2 -3.2M433.4 79.0l3.2 3.2M433.4 82.2l3.2 -3.2M404.6 93.8l3.2 3.2M404.6 97.0l3.2 -3.2M443.2 86.7l3.2 3.2M443.2 89.9l3.2 -3.2M404.1 79.5l3.2 3.2M404.1 82.7l3.2 -3.2M459.1 84.8l3.2 3.2M459.1 88.0l3.2 -3.2M396.8 83.1l3.2 3.2M396.8 86.3l3.2 -3.2M399.1 78.4l3.2 3.2M399.1 81.6l3.2 -3.2M414.7 88.2l3.2 3.2M414.7 91.4l3.2 -3.2M402.3 81.9l3.2 3.2M402.3 85.1l3.2 -3.2M407.6 74.1l3.2 3.2M407.6 77.3l3.2 -3.2M410.5 82.6l3.2 3.2M410.5 85.8l3.2 -3.2M442.2 86.4l3.2 3.2M442.2 89.6l3.2 -3.2M399.0 82.8l3.2 3.2M399.0 86.0l3.2 -3.2M440.8 84.6l3.2 3.2M440.8 87.8l3.2 -3.2M433.9 89.3l3.2 3.2M433.9 92.5l3.2 -3.2M414.5 79.3l3.2 3.2M414.5 82.5l3.2 -3.2M406.3 82.7l3.2 3.2M406.3 85.9l3.2 -3.2M459.9 92.4l3.2 3.2M459.9 95.6l3.2 -3.2M347.2 76.8l3.2 3.2M347.2 80.0l3.2 -3.2M400.2 87.9l3.2 3.2M400.2 91.1l3.2 -3.2M408.1 82.4l3.2 3.2M408.1 85.6l3.2 -3.2M424.4 80.2l3.2 3.2M424.4 83.4l3.2 -3.2M412.5 83.4l3.2 3.2M412.5 86.6l3.2 -3.2M435.1 89.4l3.2 3.2M435.1 92.6l3.2 -3.2M426.6 95.3l3.2 3.2M426.6 98.5l3.2 -3.2M438.9 85.6l3.2 3.2M438.9 88.8l3.2 -3.2M396.2 81.7l3.2 3.2M396.2 84.9l3.2 -3.2M424.0 89.2l3.2 3.2M424.0 92.4l3.2 -3.2M453.3 84.6l3.2 3.2M453.3 87.8l3.2 -3.2M394.5 76.0l3.2 3.2M394.5 79.2l3.2 -3.2M417.0 88.1l3.2 3.2M417.0 91.3l3.2 -3.2M373.8 61.4l3.2 3.2M373.8 64.6l3.2 -3.2M421.3 80.6l3.2 3.2M421.3 83.8l3.2 -3.2M392.5 89.4l3.2 3.2M392.5 92.6l3.2 -3.2M426.6 80.3l3.2 3.2M426.6 83.5l3.2 -3.2M382.4 84.3l3.2 3.2M382.4 87.5l3.2 -3.2M411.3 75.6l3.2 3.2M411.3 78.8l3.2 -3.2M385.9 89.8l3.2 3.2M385.9 93.0l3.2 -3.2M409.6 79.0l3.2 3.2M409.6 82.2l3.2 -3.2M421.9 88.6l3.2 3.2M421.9 91.8l3.2 -3.2M468.1 80.4l3.2 3.2M468.1 83.6l3.2 -3.2M420.4 74.4l3.2 3.2M420.4 77.6l3.2 -3.2M422.6 81.8l3.2 3.2M422.6 85.0l3.2 -3.2M456.2 75.0l3.2 3.2M456.2 78.2l3.2 -3.2M437.8 84.1l3.2 3.2M437.8 87.3l3.2 -3.2M383.5 77.9l3.2 3.2M383.5 81.1l3.2 -3.2M424.3 86.1l3.2 3.2M424.3 89.3l3.2 -3.2M413.6 84.1l3.2 3.2M413.6 87.3l3.2 -3.2M431.0 82.4l3.2 3.2M431.0 85.6l3.2 -3.2M424.4 90.6l3.2 3.2M424.4 93.8l3.2 -3.2M366.1 88.1l3.2 3.2M366.1 91.3l3.2 -3.2M396.1 86.1l3.2 3.2M396.1 89.3l3.2 -3.2M454.3 73.1l3.2 3.2M454.3 76.3l3.2 -3.2M431.1 81.8l3.2 3.2M431.1 85.0l3.2 -3.2M388.3 89.2l3.2 3.2M388.3 92.4l3.2 -3.2M397.6 89.5l3.2 3.2M397.6 92.7l3.2 -3.2M402.1 83.4l3.2 3.2M402.1 86.6l3.2 -3.2M375.2 89.3l3.2 3.2M375.2 92.5l3.2 -3.2M421.6 88.7l3.2 3.2M421.6 91.9l3.2 -3.2M381.3 88.8l3.2 3.2M381.3 92.0l3.2 -3.2M388.9 78.5l3.2 3.2M388.9 81.7l3.2 -3.2M388.5 93.1l3.2 3.2M388.5 96.3l3.2 -3.2M395.2 70.5l3.2 3.2M395.2 73.7l3.2 -3.2M395.6 87.0l3.2 3.2M395.6 90.2l3.2 -3.2M446.7 90.5l3.2 3.2M446.7 93.7l3.2 -3.2M398.0 79.6l3.2 3.2M398.0 82.8l3.2 -3.2M420.9 76.8l3.2 3.2M420.9 80.0l3.2 -3.2M404.9 75.7l3.2 3.2M404.9 78.9l3.2 -3.2M438.9 79.6l3.2 3.2M438.9 82.8l3.2 -3.2M409.7 86.5l3.2 3.2M409.7 89.7l3.2 -3.2M355.0 84.1l3.2 3.2M355.0 87.3l3.2 -3.2M452.7 81.6l3.2 3.2M452.7 84.8l3.2 -3.2M448.7 77.7l3.2 3.2M448.7 80.9l3.2 -3.2M423.2 77.3l3.2 3.2M423.2 80.5l3.2 -3.2M365.2 79.3l3.2 3.2M365.2 82.5l3.2 -3.2M439.7 77.8l3.2 3.2M439.7 81.0l3.2 -3.2M416.6 94.8l3.2 3.2M416.6 98.0l3.2 -3.2M385.4 85.9l3.2 3.2M385.4 89.1l3.2 -3.2M391.1 76.5l3.2 3.2M391.1 79.7l3.2 -3.2M436.4 85.0l3.2 3.2M436.4 88.2l3.2 -3.2M389.8 83.3l3.2 3.2M389.8 86.5l3.2 -3.2M402.2 86.7l3.2 3.2M402.2 89.9l3.2 -3.2M386.7 83.6l3.2 3.2M386.7 86.8l3.2 -3.2M419.9 86.2l3.2 3.2M419.9 89.4l3.2 -3.2M384.4 94.0l3.2 3.2M384.4 97.2l3.2 -3.2M420.7 80.5l3.2 3.2M420.7 83.7l3.2 -3.2M397.9 80.5l3.2 3.2M397.9 83.7l3.2 -3.2M459.5 87.2l3.2 3.2M459.5 90.4l3.2 -3.2M395.7 94.1l3.2 3.2M395.7 97.3l3.2 -3.2M408.9 84.6l3.2 3.2M408.9 87.8l3.2 -3.2M432.1 89.5l3.2 3.2M432.1 92.7l3.2 -3.2M428.3 77.3l3.2 3.2M428.3 80.5l3.2 -3.2M367.4 84.7l3.2 3.2M367.4 87.9l3.2 -3.2M412.3 91.7l3.2 3.2M412.3 94.9l3.2 -3.2M417.6 86.8l3.2 3.2M417.6 90.0l3.2 -3.2M423.4 73.0l3.2 3.2M423.4 76.2l3.2 -3.2M402.8 84.2l3.2 3.2M402.8 87.4l3.2 -3.2M446.1 87.4l3.2 3.2M446.1 90.6l3.2 -3.2M443.1 84.4l3.2 3.2M443.1 87.6l3.2 -3.2M398.6 89.7l3.2 3.2M398.6 92.9l3.2 -3.2M379.2 78.8l3.2 3.2M379.2 82.0l3.2 -3.2M406.6 90.9l3.2 3.2M406.6 94.1l3.2 -3.2M422.3 79.8l3.2 3.2M422.3 83.0l3.2 -3.2M435.6 77.3l3.2 3.2M435.6 80.5l3.2 -3.2M378.0 78.3l3.2 3.2M378.0 81.5l3.2 -3.2M391.8 83.9l3.2 3.2M391.8 87.1l3.2 -3.2M358.6 85.8l3.2 3.2M358.6 89.0l3.2 -3.2M383.8 83.0l3.2 3.2M383.8 86.2l3.2 -3.2M437.6 81.4l3.2 3.2M437.6 84.6l3.2 -3.2M463.3 79.4l3.2 3.2M463.3 82.6l3.2 -3.2M429.0 82.8l3.2 3.2M429.0 86.0l3.2 -3.2M406.4 81.6l3.2 3.2M406.4 84.8l3.2 -3.2M403.7 85.5l3.2 3.2M403.7 88.7l3.2 -3.2M461.3 86.9l3.2 3.2M461.3 90.1l3.2 -3.2M441.3 76.5l3.2 3.2M441.3 79.7l3.2 -3.2M416.1 80.5l3.2 3.2M416.1 83.7l3.2 -3.2M396.8 79.0l3.2 3.2M396.8 82.2l3.2 -3.2M390.3 73.9l3.2 3.2M390.3 77.1l3.2 -3.2M411.4 86.7l3.2 3.2M411.4 89.9l3.2 -3.2M458.0 85.8l3.2 3.2M458.0 89.0l3.2 -3.2M405.4 84.9l3.2 3.2M405.4 88.1l3.2 -3.2M401.6 78.1l3.2 3.2M401.6 81.3l3.2 -3.2M418.9 90.5l3.2 3.2M418.9 93.7l3.2 -3.2M404.6 86.5l3.2 3.2M404.6 89.7l3.2 -3.2M434.8 78.2l3.2 3.2M434.8 81.4l3.2 -3.2M385.4 91.6l3.2 3.2M385.4 94.8l3.2 -3.2M412.5 78.9l3.2 3.2M412.5 82.1l3.2 -3.2M391.5 74.2l3.2 3.2M391.5 77.4l3.2 -3.2M431.7 80.3l3.2 3.2M431.7 83.5l3.2 -3.2M414.5 87.3l3.2 3.2M414.5 90.5l3.2 -3.2M390.7 85.4l3.2 3.2M390.7 88.6l3.2 -3.2M396.2 88.3l3.2 3.2M396.2 91.5l3.2 -3.2M407.9 83.2l3.2 3.2M407.9 86.4l3.2 -3.2M445.8 77.3l3.2 3.2M445.8 80.5l3.2 -3.2M422.1 77.1l3.2 3.2M422.1 80.3l3.2 -3.2M417.3 94.9l3.2 3.2M417.3 98.1l3.2 -3.2M383.0 87.2l3.2 3.2M383.0 90.4l3.2 -3.2M368.6 81.3l3.2 3.2M368.6 84.5l3.2 -3.2M367.8 85.0l3.2 3.2M367.8 88.2l3.2 -3.2M393.0 96.2l3.2 3.2M393.0 99.4l3.2 -3.2M417.3 81.5l3.2 3.2M417.3 84.7l3.2 -3.2M407.9 79.8l3.2 3.2M407.9 83.0l3.2 -3.2M436.2 82.5l3.2 3.2M436.2 85.7l3.2 -3.2M378.8 83.4l3.2 3.2M378.8 86.6l3.2 -3.2M400.9 77.7l3.2 3.2M400.9 80.9l3.2 -3.2M401.0 90.5l3.2 3.2M401.0 93.7l3.2 -3.2M381.5 84.6l3.2 3.2M381.5 87.8l3.2 -3.2M350.5 81.0l3.2 3.2M350.5 84.2l3.2 -3.2M383.7 64.3l3.2 3.2M383.7 67.5l3.2 -3.2M430.8 86.5l3.2 3.2M430.8 89.7l3.2 -3.2M361.2 78.8l3.2 3.2M361.2 82.0l3.2 -3.2M427.5 73.1l3.2 3.2M427.5 76.3l3.2 -3.2M428.8 78.3l3.2 3.2M428.8 81.5l3.2 -3.2M402.1 78.0l3.2 3.2M402.1 81.2l3.2 -3.2M413.1 75.8l3.2 3.2M413.1 79.0l3.2 -3.2M404.2 92.5l3.2 3.2M404.2 95.7l3.2 -3.2M406.6 79.9l3.2 3.2M406.6 83.1l3.2 -3.2M444.0 84.8l3.2 3.2M444.0 88.0l3.2 -3.2M435.3 74.0l3.2 3.2M435.3 77.2l3.2 -3.2M432.1 80.1l3.2 3.2M432.1 83.3l3.2 -3.2M413.3 81.2l3.2 3.2M413.3 84.4l3.2 -3.2M403.6 81.7l3.2 3.2M403.6 84.9l3.2 -3.2M361.7 79.6l3.2 3.2M361.7 82.8l3.2 -3.2M439.9 68.6l3.2 3.2M439.9 71.8l3.2 -3.2M348.7 85.2l3.2 3.2M348.7 88.4l3.2 -3.2M399.7 90.6l3.2 3.2M399.7 93.8l3.2 -3.2M394.1 74.6l3.2 3.2M394.1 77.8l3.2 -3.2M442.3 79.0l3.2 3.2M442.3 82.2l3.2 -3.2M407.2 74.8l3.2 3.2M407.2 78.0l3.2 -3.2M376.3 78.0l3.2 3.2M376.3 81.2l3.2 -3.2M431.3 85.3l3.2 3.2M431.3 88.5l3.2 -3.2M469.2 83.8l3.2 3.2M469.2 87.0l3.2 -3.2M370.1 89.9l3.2 3.2M370.1 93.1l3.2 -3.2M456.9 65.8l3.2 3.2M456.9 69.0l3.2 -3.2M383.0 88.3l3.2 3.2M383.0 91.5l3.2 -3.2M398.9 84.6l3.2 3.2M398.9 87.8l3.2 -3.2M399.9 86.7l3.2 3.2M399.9 89.9l3.2 -3.2M369.6 79.6l3.2 3.2M369.6 82.8l3.2 -3.2M465.5 73.4l3.2 3.2M465.5 76.6l3.2 -3.2M435.4 85.6l3.2 3.2M435.4 88.8l3.2 -3.2M429.1 79.6l3.2 3.2M429.1 82.8l3.2 -3.2M358.2 77.7l3.2 3.2M358.2 80.9l3.2 -3.2M431.1 68.5l3.2 3.2M431.1 71.7l3.2 -3.2M375.0 83.8l3.2 3.2M375.0 87.0l3.2 -3.2M456.8 80.7l3.2 3.2M456.8 83.9l3.2 -3.2M343.3 71.9l3.2 3.2M343.3 75.1l3.2 -3.2M433.4 91.5l3.2 3.2M433.4 94.7l3.2 -3.2M350.8 82.5l3.2 3.2M350.8 85.7l3.2 -3.2M353.9 81.8l3.2 3.2M353.9 85.0l3.2 -3.2M415.1 89.5l3.2 3.2M415.1 92.7l3.2 -3.2M438.1 83.7l3.2 3.2M438.1 86.9l3.2 -3.2M447.5 81.0l3.2 3.2M447.5 84.2l3.2 -3.2M392.7 75.3l3.2 3.2M392.7 78.5l3.2 -3.2M387.3 76.6l3.2 3.2M387.3 79.8l3.2 -3.2M440.5 85.9l3.2 3.2M440.5 89.1l3.2 -3.2M365.3 88.3l3.2 3.2M365.3 91.5l3.2 -3.2M366.5 76.4l3.2 3.2M366.5 79.6l3.2 -3.2M426.2 92.0l3.2 3.2M426.2 95.2l3.2 -3.2M423.7 85.9l3.2 3.2M423.7 89.1l3.2 -3.2M410.3 89.6l3.2 3.2M410.3 92.8l3.2 -3.2M452.2 92.5l3.2 3.2M452.2 95.7l3.2 -3.2M347.8 80.8l3.2 3.2M347.8 84.0l3.2 -3.2M319.9 82.9l3.2 3.2M319.9 86.1l3.2 -3.2" style="fill:none;stroke:#bfbf00;stroke-width:1.2"/></g>
   <g id="matplotlib.axis_1">
    <g id="xtick_23">
     <g id="line2d_26">
      <defs>
       <path id="m9cb2737024" d="M 0 0 
L 0 2.275 
" style="stroke: #666666; stroke-width: 0.9"/>
      </defs>
      <g>
       <use href="#m9cb2737024" x="329.655045" y="106.4" style="fill: #666666; stroke: #666666; stroke-width: 0.9"/>
      </g>
     </g>
     <g id="text_26">
      <text style="font-size: 6.7px; font-family: 'Liberation Serif', serif; text-anchor: middle" x="329.655045" y="116.899172" transform="rotate(0.05 329.655045 116.899172)">−7.5</text>
     </g>
    </g>
    <g id="xtick_24">
     <g id="line2d_27">
      <g>
       <use href="#m9cb2737024" x="358.880575" y="106.4" style="fill: #666666; stroke: #666666; stroke-width: 0.9"/>
      </g>
     </g>
     <g id="text_27">
      <text style="font-size: 6.7px; font-family: 'Liberation Serif', serif; text-anchor: middle" x="358.880575" y="116.899172" transform="rotate(0.05 358.880575 116.899172)">−5.0</text>
     </g>
    </g>
    <g id="xtick_25">
     <g id="line2d_28">
      <g>
       <use href="#m9cb2737024" x="388.106105" y="106.4" style="fill: #666666; stroke: #666666; stroke-width: 0.9"/>
      </g>
     </g>
     <g id="text_28">
      <text style="font-size: 6.7px; font-family: 'Liberation Serif', serif; text-anchor: middle" x="388.106105" y="116.899172" transform="rotate(0.05 388.106105 116.899172)">−2.5</text>
     </g>
    </g>
    <g id="xtick_26">
     <g id="line2d_29">
      <g>
       <use href="#m9cb2737024" x="417.331635" y="106.4" style="fill: #666666; stroke: #666666; stroke-width: 0.9"/>
      </g>
     </g>
     <g id="text_29">
      <text style="font-size: 6.7px; font-family: 'Liberation Serif', serif; text-anchor: middle" x="417.331635" y="116.899172" transform="rotate(0.05 417.331635 116.899172)">0.0</text>
     </g>
    </g>
    <g id="xtick_27">
     <g id="line2d_30">
      <g>
       <use href="#m9cb2737024" x="446.557164" y="106.4" style="fill: #666666; stroke: #666666; stroke-width: 0.9"/>
      </g>
     </g>
     <g id="text_30">
      <text style="font-size: 6.7px; font-family: 'Liberation Serif', serif; text-anchor: middle" x="446.557164" y="116.899172" transform="rotate(0.05 446.557164 116.899172)">2.5</text>
     </g>
    </g>
    <g id="xtick_28">
     <g id="line2d_31">
      <g>
       <use href="#m9cb2737024" x="475.782694" y="106.4" style="fill: #666666; stroke: #666666; stroke-width: 0.9"/>
      </g>
     </g>
     <g id="text_31">
      <text style="font-size: 6.7px; font-family: 'Liberation Serif', serif; text-anchor: middle" x="475.782694" y="116.899172" transform="rotate(0.05 475.782694 116.899172)">5.0</text>
     </g>
    </g>
    <g id="xtick_29">
     <g id="line2d_32">
      <g>
       <use href="#m9cb2737024" x="505.008224" y="106.4" style="fill: #666666; stroke: #666666; stroke-width: 0.9"/>
      </g>
     </g>
     <g id="text_32">
      <text style="font-size: 6.7px; font-family: 'Liberation Serif', serif; text-anchor: middle" x="505.008224" y="116.899172" transform="rotate(0.05 505.008224 116.899172)">7.5</text>
     </g>
    </g>
    <g id="xtick_30">
     <g id="line2d_33">
      <g>
       <use href="#m9cb2737024" x="534.233754" y="106.4" style="fill: #666666; stroke: #666666; stroke-width: 0.9"/>
      </g>
     </g>
     <g id="text_33">
      <text style="font-size: 6.7px; font-family: 'Liberation Serif', serif; text-anchor: middle" x="534.233754" y="116.899172" transform="rotate(0.05 534.233754 116.899172)">10.0</text>
     </g>
    </g>
    <g id="text_34">
     <text style="font-size: 6.7px; font-family: 'Liberation Serif', serif; text-anchor: middle" x="426.45" y="125.975234" transform="rotate(0.05 426.45 125.975234)">PC2</text>
    </g>
   </g>
   <g id="matplotlib.axis_2">
    <g id="ytick_1">
     <g id="line2d_34">
      <defs>
       <path id="m76c4f79fe5" d="M 0 0 
L -2.275 0 
" style="stroke: #666666; stroke-width: 0.9"/>
      </defs>
      <g>
       <use href="#m76c4f79fe5" x="310.6" y="98.887906" style="fill: #666666; stroke: #666666; stroke-width: 0.9"/>
      </g>
     </g>
     <g id="text_35">
      <text style="font-size: 6.7px; font-family: 'Liberation Serif', serif; text-anchor: end" x="306.05" y="101.212492" transform="rotate(0.05 306.05 101.212492)">−5</text>
     </g>
    </g>
    <g id="ytick_2">
     <g id="line2d_35">
      <g>
       <use href="#m76c4f79fe5" x="310.6" y="82.698049" style="fill: #666666; stroke: #666666; stroke-width: 0.9"/>
      </g>
     </g>
     <g id="text_36">
      <text style="font-size: 6.7px; font-family: 'Liberation Serif', serif; text-anchor: end" x="306.05" y="85.022635" transform="rotate(0.05 306.05 85.022635)">0</text>
     </g>
    </g>
    <g id="ytick_3">
     <g id="line2d_36">
      <g>
       <use href="#m76c4f79fe5" x="310.6" y="66.508192" style="fill: #666666; stroke: #666666; stroke-width: 0.9"/>
      </g>
     </g>
     <g id="text_37">
      <text style="font-size: 6.7px; font-family: 'Liberation Serif', serif; text-anchor: end" x="306.05" y="68.832778" transform="rotate(0.05 306.05 68.832778)">5</text>
     </g>
    </g>
    <g id="ytick_4">
     <g id="line2d_37">
      <g>
       <use href="#m76c4f79fe5" x="310.6" y="50.318336" style="fill: #666666; stroke: #666666; stroke-width: 0.9"/>
      </g>
     </g>
     <g id="text_38">
      <text style="font-size: 6.7px; font-family: 'Liberation Serif', serif; text-anchor: end" x="306.05" y="52.642921" transform="rotate(0.05 306.05 52.642921)">10</text>
     </g>
    </g>
    <g id="ytick_5">
     <g id="line2d_38">
      <g>
       <use href="#m76c4f79fe5" x="310.6" y="34.128479" style="fill: #666666; stroke: #666666; stroke-width: 0.9"/>
      </g>
     </g>
     <g id="text_39">
      <text style="font-size: 6.7px; font-family: 'Liberation Serif', serif; text-anchor: end" x="306.05" y="36.453064" transform="rotate(0.05 306.05 36.453064)">15</text>
     </g>
    </g>
    <g id="text_40">
     <text style="font-size: 6.7px; font-family: 'Liberation Serif', serif; text-anchor: middle" x="293.644937" y="69.05" transform="rotate(-89.95 293.644937 69.05)">PC3</text>
    </g>
   </g>
   <g id="patch_7">
    <path d="M 310.6 106.4 
L 310.6 31.7 
" style="fill: none; stroke: #808080; stroke-width: 1.1; stroke-linejoin: miter; stroke-linecap: square"/>
   </g>
   <g id="patch_8">
    <path d="M 542.3 106.4 
L 542.3 31.7 
" style="fill: none; stroke: #808080; stroke-width: 1.1; stroke-linejoin: miter; stroke-linecap: square"/>
   </g>
   <g id="patch_9">
    <path d="M 310.6 106.4 
L 542.3 106.4 
" style="fill: none; stroke: #808080; stroke-width: 1.1; stroke-linejoin: miter; stroke-linecap: square"/>
   </g>
   <g id="patch_10">
    <path d="M 310.6 31.7 
L 542.3 31.7 
" style="fill: none; stroke: #808080; stroke-width: 1.1; stroke-linejoin: miter; stroke-linecap: square"/>
   </g>
  </g>
  <g id="axes_3">
   <g id="patch_11">
    <path d="M 310.6 203.7 
L 542.3 203.7 
L 542.3 129.1 
L 310.6 129.1 
z
" style="fill: #ffffff"/>
   </g>
   <g id="PHB_r"><path d="M385.2 183.2h3.7M387.1 181.4v3.7M351.7 158.3h3.7M353.6 156.5v3.7M357.7 151.2h3.7M359.6 149.4v3.7M351.6 159.5h3.7M353.4 157.6v3.7M359.2 166.6h3.7M361.1 164.7v3.7M384.2 173.5h3.7M386.0 171.7v3.7M380.3 158.8h3.7M382.2 156.9v3.7M389.3 157.4h3.7M391.1 155.6v3.7M365.1 166.3h3.7M367.0 164.5v3.7M402.1 164.9h3.7M404.0 163.0v3.7M347.4 159.3h3.7M349.2 157.4v3.7M379.9 164.1h3.7M381.8 162.3v3.7M366.2 158.5h3.7M368.0 156.7v3.7M375.7 166.1h3.7M377.5 164.2v3.7M402.6 162.2h3.7M404.5 160.4v3.7M398.4 167.7h3.7M400.2 165.9v3.7M399.9 174.8h3.7M401.7 172.9v3.7M381.0 156.6h3.7M382.8 154.8v3.7M354.2 157.6h3.7M356.0 155.8v3.7M382.2 162.6h3.7M384.1 160.7v3.7M393.9 159.8h3.7M395.7 158.0v3.7M381.1 162.0h3.7M382.9 160.1v3.7M411.0 164.2h3.7M412.8 162.3v3.7M364.1 166.0h3.7M366.0 164.1v3.7M372.1 171.2h3.7M373.9 169.4v3.7M373.0 163.7h3.7M374.9 161.8v3.7M371.7 162.4h3.7M373.5 160.6v3.7M358.0 158.0h3.7M359.9 156.2v3.7M402.9 164.4h3.7M404.8 162.5v3.7M381.0 162.3h3.7M382.9 160.4v3.7M380.0 173.2h3.7M381.9 171.3v3.7M376.0 168.5h3.7M377.8 166.6v3.7M374.3 158.2h3.7M376.1 156.3v3.7M363.5 166.8h3.7M365.3 165.0v3.7M379.1 161.2h3.7M381.0 159.3v3.7M361.0 163.8h3.7M362.8 162.0v3.7M356.5 153.3h3.7M358.4 151.5v3.7M381.5 163.5h3.7M383.3 161.6v3.7M358.2 166.2h3.7M360.1 164.3v3.7M353.4 155.2h3.7M355.3 153.4v3.7M374.3 165.4h3.7M376.2 163.5v3.7M381.7 164.8h3.7M383.6 162.9v3.7M369.4 153.2h3.7M371.3 151.4v3.7M359.2 155.0h3.7M361.0 153.1v3.7M361.4 167.1h3.7M363.3 165.2v3.7M380.0 168.5h3.7M381.9 166.6v3.7M367.7 166.3h3.7M369.5 164.5v3.7M348.6 150.7h3.7M350.4 148.9v3.7M372.5 152.9h3.7M374.4 151.0v3.7M393.4 164.1h3.7M395.2 162.2v3.7M375.8 153.0h3.7M377.7 151.1v3.7M378.7 171.2h3.7M380.5 169.3v3.7M368.6 173.4h3.7M370.4 171.6v3.7M351.9 158.7h3.7M353.7 156.8v3.7M377.8 164.0h3.7M379.7 162.1v3.7M376.8 168.3h3.7M378.6 166.5v3.7M366.2 168.0h3.7M368.0 166.2v3.7M367.9 159.3h3.7M369.7 157.5v3.7M387.5 158.3h3.7M389.3 156.4v3.7M369.8 162.3h3.7M371.7 160.5v3.7M401.1 172.2h3.7M403.0 170.3v3.7M409.5 162.3h3.7M411.4 160.5v3.7M383.4 171.3h3.7M385.3 169.4v3.7M388.5 162.2h3.7M390.3 160.3v3.7M364.0 169.0h3.7M365.8 167.1v3.7M376.1 169.9h3.7M377.9 168.0v3.7M370.7 161.4h3.7M372.5 159.5v3.7M379.1 154.9h3.7M380.9 153.1v3.7M382.3 164.5h3.7M384.1 162.7v3.7M363.7 160.4h3.7M365.6 158.6v3.7M376.0 157.1h3.7M377.9 155.2v3.7M384.1 153.7h3.7M386.0 151.9v3.7M375.3 149.6h3.7M377.2 147.8v3.7M366.3 164.8h3.7M368.1 162.9v3.7M370.8 154.4h3.7M372.6 152.5v3.7M357.9 157.9h3.7M359.7 156.1v3.7M380.1 158.4h3.7M382.0 156.6v3.7M372.9 151.5h3.7M374.8 149.6v3.7M368.3 167.9h3.7M370.1 166.1v3.7M414.0 163.4h3.7M415.9 161.5v3.7M336.5 158.5h3.7M338.3 156.6v3.7M372.6 159.2h3.7M374.4 157.3v3.7M350.2 164.2h3.7M352.0 162.3v3.7M365.6 161.4h3.7M367.4 159.6v3.7M395.9 159.2h3.7M397.8 157.4v3.7M396.4 161.5h3.7M398.3 159.7v3.7M390.9 153.6h3.7M392.8 151.8v3.7M381.0 167.6h3.7M382.8 165.7v3.7M337.6 151.1h3.7M339.4 149.2v3.7M349.4 157.1h3.7M351.2 155.2v3.7M424.6 162.0h3.7M426.4 160.2v3.7M382.6 157.0h3.7M384.4 155.1v3.7M367.9 166.3h3.7M369.7 164.5v3.7M391.2 169.9h3.7M393.0 168.0v3.7M397.0 173.7h3.7M398.8 171.8v3.7M372.9 152.5h3.7M374.8 150.7v3.7M357.8 158.2h3.7M359.7 156.3v3.7M343.3 160.7h3.7M345.2 158.9v3.7M356.2 158.8h3.7M358.0 157.0v3.7M386.0 162.7h3.7M387.9 160.8v3.7M350.7 148.8h3.7M352.6 146.9v3.7M373.7 166.0h3.7M375.5 164.1v3.7M358.5 164.4h3.7M360.3 162.5v3.7M410.1 169.3h3.7M411.9 167.4v3.7M362.6 150.3h3.7M364.5 148.5v3.7M372.7 168.1h3.7M374.5 166.2v3.7M363.0 160.5h3.7M364.8 158.6v3.7M389.1 153.2h3.7M391.0 151.4v3.7M382.9 168.3h3.7M384.8 166.5v3.7M403.7 164.9h3.7M405.6 163.1v3.7M355.2 153.0h3.7M357.1 151.2v3.7M384.2 167.8h3.7M386.1 165.9v3.7M365.7 161.0h3.7M367.6 159.2v3.7M377.7 158.0h3.7M379.6 156.1v3.7M375.0 157.6h3.7M376.9 155.7v3.7M363.1 163.2h3.7M364.9 161.3v3.7M389.3 154.1h3.7M391.2 152.3v3.7M371.5 163.4h3.7M373.3 161.5v3.7M336.2 146.6h3.7M338.0 144.8v3.7M402.4 165.5h3.7M404.2 163.6v3.7M369.6 165.4h3.7M371.4 163.5v3.7M365.4 158.4h3.7M367.2 156.6v3.7M383.7 163.8h3.7M385.5 161.9v3.7M384.1 158.4h3.7M386.0 156.6v3.7M362.6 169.2h3.7M364.5 167.4v3.7M377.1 170.9h3.7M378.9 169.1v3.7M350.8 170.1h3.7M352.7 168.2v3.7M341.8 140.2h3.7M343.7 138.3v3.7M395.9 170.1h3.7M397.7 168.2v3.7M383.2 161.0h3.7M385.1 159.2v3.7M387.7 165.7h3.7M389.5 163.9v3.7M356.3 157.9h3.7M358.1 156.0v3.7M380.2 159.5h3.7M382.0 157.6v3.7M358.3 162.5h3.7M360.1 160.7v3.7M370.2 167.6h3.7M372.1 165.7v3.7M380.0 167.4h3.7M381.8 165.5v3.7M392.1 162.1h3.7M394.0 160.2v3.7M361.5 166.3h3.7M363.3 164.5v3.7M424.0 161.3h3.7M425.9 159.5v3.7M379.9 170.9h3.7M381.8 169.0v3.7M363.5 169.7h3.7M365.4 167.8v3.7M371.9 159.2h3.7M373.7 157.3v3.7M374.4 169.2h3.7M376.3 167.4v3.7M374.9 156.3h3.7M376.7 154.5v3.7M388.6 161.6h3.7M390.5 159.8v3.7M380.7 173.8h3.7M382.6 171.9v3.7M361.3 150.9h3.7M363.2 149.0v3.7M352.0 155.3h3.7M353.9 153.4v3.7M347.9 146.1h3.7M349.8 144.3v3.7M392.5 175.4h3.7M394.3 173.5v3.7M374.1 162.9h3.7M376.0 161.1v3.7M384.0 164.0h3.7M385.8 162.1v3.7M395.3 160.2h3.7M397.1 158.3v3.7M366.5 161.5h3.7M368.3 159.6v3.7M371.7 153.9h3.7M373.6 152.1v3.7M396.1 159.6h3.7M398.0 157.8v3.7M350.6 156.7h3.7M352.5 154.9v3.7M395.6 163.3h3.7M397.5 161.4v3.7M390.2 172.6h3.7M392.1 170.7v3.7M407.8 175.9h3.7M409.6 174.0v3.7M367.5 154.3h3.7M369.3 152.5v3.7M364.8 159.2h3.7M366.7 157.4v3.7M380.4 152.1h3.7M382.3 150.3v3.7M367.0 147.2h3.7M368.9 145.4v3.7M359.4 153.0h3.7M361.3 151.1v3.7M370.7 160.3h3.7M372.6 158.4v3.7M387.0 167.6h3.7M388.8 165.8v3.7M396.4 168.2h3.7M398.2 166.3v3.7M368.4 154.0h3.7M370.2 152.2v3.7M364.4 168.5h3.7M366.2 166.7v3.7M379.2 158.4h3.7M381.0 156.5v3.7M382.7 161.7h3.7M384.5 159.9v3.7M382.4 168.9h3.7M384.3 167.0v3.7M376.6 169.5h3.7M378.5 167.7v3.7M364.5 171.2h3.7M366.3 169.4v3.7M381.8 162.8h3.7M383.6 160.9v3.7M368.8 164.7h3.7M370.6 162.9v3.7M371.7 164.1h3.7M373.6 162.3v3.7M414.3 160.0h3.7M416.1 158.2v3.7M354.1 164.1h3.7M355.9 162.2v3.7M354.9 168.7h3.7M356.8 166.9v3.7M385.0 161.0h3.7M386.8 159.1v3.7M369.0 174.6h3.7M370.8 172.7v3.7M353.8 156.4h3.7M355.7 154.5v3.7M368.5 159.0h3.7M370.4 157.1v3.7M362.4 164.3h3.7M364.3 162.5v3.7M387.1 158.6h3.7M388.9 156.8v3.7M344.3 146.7h3.7M346.1 144.9v3.7M389.3 168.6h3.7M391.1 166.7v3.7M383.7 173.1h3.7M385.5 171.3v3.7M338.0 152.8h3.7M339.8 150.9v3.7M352.2 153.2h3.7M354.1 151.3v3.7M414.2 166.5h3.7M416.1 164.6v3.7M352.3 151.9h3.7M354.1 150.0v3.7M381.5 161.3h3.7M383.4 159.4v3.7M377.7 160.1h3.7M379.5 158.2v3.7M356.1 160.9h3.7M358.0 159.0v3.7M387.3 162.5h3.7M389.2 160.6v3.7M352.1 155.6h3.7M353.9 153.8v3.7M329.5 154.6h3.7M331.4 152.8v3.7M341.5 161.7h3.7M343.4 159.8v3.7M378.6 159.0h3.7M380.5 157.2v3.7M399.8 158.9h3.7M401.7 157.1v3.7M391.9 165.7h3.7M393.8 163.8v3.7M406.5 169.2h3.7M408.3 167.3v3.7M365.2 167.6h3.7M367.1 165.7v3.7M335.0 167.4h3.7M336.8 165.6v3.7M401.7 161.0h3.7M403.6 159.1v3.7M369.5 151.5h3.7M371.4 149.6v3.7M342.9 160.2h3.7M344.7 158.4v3.7M366.0 155.9h3.7M367.8 154.1v3.7M352.1 151.2h3.7M353.9 149.3v3.7M381.4 167.0h3.7M383.3 165.2v3.7M345.6 156.8h3.7M347.4 154.9v3.7M359.3 151.1h3.7M361.2 149.3v3.7M368.7 153.3h3.7M370.6 151.5v3.7M375.0 174.3h3.7M376.9 172.4v3.7M394.1 169.1h3.7M396.0 167.2v3.7M357.4 166.4h3.7M359.3 164.5v3.7M390.1 164.4h3.7M392.0 162.5v3.7M375.9 143.5h3.7M377.8 141.7v3.7M362.8 143.4h3.7M364.6 141.5v3.7M368.4 139.8h3.7M370.3 137.9v3.7M362.9 139.7h3.7M364.7 137.8v3.7M352.1 150.4h3.7M354.0 148.6v3.7M378.7 138.0h3.7M380.6 136.1v3.7M337.4 145.8h3.7M339.3 143.9v3.7M346.6 143.6h3.7M348.4 141.8v3.7M352.8 147.9h3.7M354.6 146.1v3.7M367.6 136.6h3.7M369.4 134.7v3.7M339.4 133.2h3.7M341.2 131.4v3.7M351.0 132.5h3.7M352.8 130.6v3.7M374.2 141.9h3.7M376.0 140.0v3.7M345.8 143.4h3.7M347.7 141.6v3.7" style="fill:none;stroke:#ff0000;stroke-width:1.45"/></g>
   <g id="PHB_b"><path d="M380.9 180.0l3.2 3.2M380.9 183.2l3.2 -3.2M365.2 174.3l3.2 3.2M365.2 177.5l3.2 -3.2M357.4 174.5l3.2 3.2M357.4 177.7l3.2 -3.2M384.9 183.8l3.2 3.2M384.9 187.0l3.2 -3.2M346.9 168.1l3.2 3.2M346.9 171.3l3.2 -3.2M395.1 185.4l3.2 3.2M395.1 188.6l3.2 -3.2M380.2 190.9l3.2 3.2M380.2 194.1l3.2 -3.2M365.0 179.2l3.2 3.2M365.0 182.4l3.2 -3.2M339.1 162.0l3.2 3.2M339.1 165.2l3.2 -3.2M355.2 170.7l3.2 3.2M355.2 173.9l3.2 -3.2M344.4 166.5l3.2 3.2M344.4 169.7l3.2 -3.2M351.6 170.6l3.2 3.2M351.6 173.8l3.2 -3.2M377.3 183.4l3.2 3.2M377.3 186.6l3.2 -3.2M406.8 194.9l3.2 3.2M406.8 198.1l3.2 -3.2M351.8 181.3l3.2 3.2M351.8 184.5l3.2 -3.2M355.6 173.2l3.2 3.2M355.6 176.4l3.2 -3.2M404.0 186.3l3.2 3.2M404.0 189.5l3.2 -3.2M370.8 175.7l3.2 3.2M370.8 178.9l3.2 -3.2M375.2 181.7l3.2 3.2M375.2 184.9l3.2 -3.2M357.6 158.6l3.2 3.2M357.6 161.8l3.2 -3.2M395.7 187.8l3.2 3.2M395.7 191.0l3.2 -3.2M370.9 167.4l3.2 3.2M370.9 170.6l3.2 -3.2M382.1 181.7l3.2 3.2M382.1 184.9l3.2 -3.2M383.3 170.6l3.2 3.2M383.3 173.8l3.2 -3.2M395.4 169.4l3.2 3.2M395.4 172.6l3.2 -3.2M376.3 165.8l3.2 3.2M376.3 169.0l3.2 -3.2M359.7 163.9l3.2 3.2M359.7 167.1l3.2 -3.2M378.7 174.5l3.2 3.2M378.7 177.7l3.2 -3.2M368.3 185.9l3.2 3.2M368.3 189.1l3.2 -3.2M340.2 180.6l3.2 3.2M340.2 183.8l3.2 -3.2M359.3 172.1l3.2 3.2M359.3 175.3l3.2 -3.2M343.9 164.0l3.2 3.2M343.9 167.2l3.2 -3.2M366.7 184.6l3.2 3.2M366.7 187.8l3.2 -3.2M361.4 166.3l3.2 3.2M361.4 169.5l3.2 -3.2M363.3 174.4l3.2 3.2M363.3 177.6l3.2 -3.2M341.7 177.0l3.2 3.2M341.7 180.2l3.2 -3.2M378.3 176.6l3.2 3.2M378.3 179.8l3.2 -3.2M372.2 161.2l3.2 3.2M372.2 164.4l3.2 -3.2M387.0 184.2l3.2 3.2M387.0 187.4l3.2 -3.2M349.1 169.3l3.2 3.2M349.1 172.5l3.2 -3.2M360.8 171.6l3.2 3.2M360.8 174.8l3.2 -3.2M357.9 176.0l3.2 3.2M357.9 179.2l3.2 -3.2M376.6 170.0l3.2 3.2M376.6 173.2l3.2 -3.2M357.4 163.3l3.2 3.2M357.4 166.5l3.2 -3.2M378.1 173.7l3.2 3.2M378.1 176.9l3.2 -3.2M350.6 161.3l3.2 3.2M350.6 164.5l3.2 -3.2M376.4 176.5l3.2 3.2M376.4 179.7l3.2 -3.2M371.5 171.2l3.2 3.2M371.5 174.4l3.2 -3.2M368.2 182.9l3.2 3.2M368.2 186.1l3.2 -3.2M366.0 167.5l3.2 3.2M366.0 170.7l3.2 -3.2M367.3 176.5l3.2 3.2M367.3 179.7l3.2 -3.2M384.9 191.6l3.2 3.2M384.9 194.8l3.2 -3.2M386.1 180.5l3.2 3.2M386.1 183.7l3.2 -3.2M384.1 189.6l3.2 3.2M384.1 192.8l3.2 -3.2M371.4 184.3l3.2 3.2M371.4 187.5l3.2 -3.2M360.4 169.2l3.2 3.2M360.4 172.4l3.2 -3.2M358.9 169.1l3.2 3.2M358.9 172.3l3.2 -3.2M364.8 182.7l3.2 3.2M364.8 185.9l3.2 -3.2M367.8 192.0l3.2 3.2M367.8 195.2l3.2 -3.2M359.3 170.5l3.2 3.2M359.3 173.7l3.2 -3.2M349.0 180.6l3.2 3.2M349.0 183.8l3.2 -3.2M351.5 167.9l3.2 3.2M351.5 171.1l3.2 -3.2M381.5 174.8l3.2 3.2M381.5 178.0l3.2 -3.2M357.4 171.4l3.2 3.2M357.4 174.6l3.2 -3.2M368.1 162.6l3.2 3.2M368.1 165.8l3.2 -3.2M361.6 170.1l3.2 3.2M361.6 173.3l3.2 -3.2M373.5 178.9l3.2 3.2M373.5 182.1l3.2 -3.2M364.4 179.1l3.2 3.2M364.4 182.3l3.2 -3.2M387.4 181.3l3.2 3.2M387.4 184.5l3.2 -3.2M371.9 175.4l3.2 3.2M371.9 178.6l3.2 -3.2M349.9 181.6l3.2 3.2M349.9 184.8l3.2 -3.2M368.7 179.0l3.2 3.2M368.7 182.2l3.2 -3.2M350.3 172.6l3.2 3.2M350.3 175.8l3.2 -3.2M362.2 186.0l3.2 3.2M362.2 189.2l3.2 -3.2M383.4 189.5l3.2 3.2M383.4 192.7l3.2 -3.2M345.5 169.7l3.2 3.2M345.5 172.9l3.2 -3.2M377.6 189.0l3.2 3.2M377.6 192.2l3.2 -3.2M367.3 168.4l3.2 3.2M367.3 171.6l3.2 -3.2M385.5 177.4l3.2 3.2M385.5 180.6l3.2 -3.2M368.7 175.0l3.2 3.2M368.7 178.2l3.2 -3.2M384.0 185.1l3.2 3.2M384.0 188.3l3.2 -3.2M370.3 184.5l3.2 3.2M370.3 187.7l3.2 -3.2M388.0 180.1l3.2 3.2M388.0 183.3l3.2 -3.2M372.5 175.3l3.2 3.2M372.5 178.5l3.2 -3.2M356.2 167.2l3.2 3.2M356.2 170.4l3.2 -3.2M371.5 196.0l3.2 3.2M371.5 199.2l3.2 -3.2M369.1 173.7l3.2 3.2M369.1 176.9l3.2 -3.2M397.6 178.3l3.2 3.2M397.6 181.5l3.2 -3.2M355.6 178.3l3.2 3.2M355.6 181.5l3.2 -3.2M343.2 168.5l3.2 3.2M343.2 171.7l3.2 -3.2M389.4 185.7l3.2 3.2M389.4 188.9l3.2 -3.2M358.1 177.9l3.2 3.2M358.1 181.1l3.2 -3.2M340.7 180.3l3.2 3.2M340.7 183.5l3.2 -3.2M353.2 168.4l3.2 3.2M353.2 171.6l3.2 -3.2M356.0 173.4l3.2 3.2M356.0 176.6l3.2 -3.2M361.7 177.8l3.2 3.2M361.7 181.0l3.2 -3.2M404.8 187.7l3.2 3.2M404.8 190.9l3.2 -3.2M364.5 173.7l3.2 3.2M364.5 176.9l3.2 -3.2M378.8 169.3l3.2 3.2M378.8 172.5l3.2 -3.2M376.4 168.7l3.2 3.2M376.4 171.9l3.2 -3.2M358.8 173.4l3.2 3.2M358.8 176.6l3.2 -3.2M339.5 175.7l3.2 3.2M339.5 178.9l3.2 -3.2M399.2 179.8l3.2 3.2M399.2 183.0l3.2 -3.2M360.3 186.3l3.2 3.2M360.3 189.5l3.2 -3.2M354.5 163.0l3.2 3.2M354.5 166.2l3.2 -3.2M377.6 173.5l3.2 3.2M377.6 176.7l3.2 -3.2M354.1 176.9l3.2 3.2M354.1 180.1l3.2 -3.2M359.3 175.9l3.2 3.2M359.3 179.1l3.2 -3.2M384.3 185.3l3.2 3.2M384.3 188.5l3.2 -3.2M360.4 172.2l3.2 3.2M360.4 175.4l3.2 -3.2M371.6 183.7l3.2 3.2M371.6 186.9l3.2 -3.2M362.2 174.8l3.2 3.2M362.2 178.0l3.2 -3.2M393.1 186.9l3.2 3.2M393.1 190.1l3.2 -3.2M341.9 182.9l3.2 3.2M341.9 186.1l3.2 -3.2M322.3 166.3l3.2 3.2M322.3 169.5l3.2 -3.2M370.0 180.0l3.2 3.2M370.0 183.2l3.2 -3.2M362.9 181.7l3.2 3.2M362.9 184.9l3.2 -3.2M415.2 196.3l3.2 3.2M415.2 199.5l3.2 -3.2M369.9 180.8l3.2 3.2M369.9 184.0l3.2 -3.2M370.2 180.5l3.2 3.2M370.2 183.7l3.2 -3.2M381.3 185.4l3.2 3.2M381.3 188.6l3.2 -3.2M373.4 182.5l3.2 3.2M373.4 185.7l3.2 -3.2M378.7 181.2l3.2 3.2M378.7 184.4l3.2 -3.2M353.5 179.8l3.2 3.2M353.5 183.0l3.2 -3.2M363.4 170.2l3.2 3.2M363.4 173.4l3.2 -3.2M392.7 180.4l3.2 3.2M392.7 183.6l3.2 -3.2M348.8 168.1l3.2 3.2M348.8 171.3l3.2 -3.2M362.3 181.5l3.2 3.2M362.3 184.7l3.2 -3.2M374.8 181.4l3.2 3.2M374.8 184.6l3.2 -3.2M381.0 178.7l3.2 3.2M381.0 181.9l3.2 -3.2M369.5 177.4l3.2 3.2M369.5 180.6l3.2 -3.2M379.4 183.8l3.2 3.2M379.4 187.0l3.2 -3.2M382.3 184.1l3.2 3.2M382.3 187.3l3.2 -3.2M370.7 173.4l3.2 3.2M370.7 176.6l3.2 -3.2M356.8 167.9l3.2 3.2M356.8 171.1l3.2 -3.2M376.7 168.0l3.2 3.2M376.7 171.2l3.2 -3.2M359.5 176.5l3.2 3.2M359.5 179.7l3.2 -3.2M359.9 169.8l3.2 3.2M359.9 173.0l3.2 -3.2M389.7 176.0l3.2 3.2M389.7 179.2l3.2 -3.2M376.9 176.7l3.2 3.2M376.9 179.9l3.2 -3.2M350.7 171.5l3.2 3.2M350.7 174.7l3.2 -3.2M340.0 169.9l3.2 3.2M340.0 173.1l3.2 -3.2M355.6 167.8l3.2 3.2M355.6 171.0l3.2 -3.2M373.1 171.7l3.2 3.2M373.1 174.9l3.2 -3.2M378.9 184.4l3.2 3.2M378.9 187.6l3.2 -3.2M368.5 178.6l3.2 3.2M368.5 181.8l3.2 -3.2M402.3 189.9l3.2 3.2M402.3 193.1l3.2 -3.2M367.0 174.9l3.2 3.2M367.0 178.1l3.2 -3.2M352.4 176.1l3.2 3.2M352.4 179.3l3.2 -3.2M367.2 173.8l3.2 3.2M367.2 177.0l3.2 -3.2M384.4 170.8l3.2 3.2M384.4 174.0l3.2 -3.2M376.3 181.5l3.2 3.2M376.3 184.7l3.2 -3.2M374.7 170.7l3.2 3.2M374.7 173.9l3.2 -3.2M390.8 180.0l3.2 3.2M390.8 183.2l3.2 -3.2M386.5 181.6l3.2 3.2M386.5 184.8l3.2 -3.2M395.0 183.4l3.2 3.2M395.0 186.6l3.2 -3.2M362.3 175.7l3.2 3.2M362.3 178.9l3.2 -3.2M376.2 173.5l3.2 3.2M376.2 176.7l3.2 -3.2M373.9 165.0l3.2 3.2M373.9 168.2l3.2 -3.2M372.4 176.5l3.2 3.2M372.4 179.7l3.2 -3.2M401.1 185.9l3.2 3.2M401.1 189.1l3.2 -3.2M378.6 170.7l3.2 3.2M378.6 173.9l3.2 -3.2M378.7 174.0l3.2 3.2M378.7 177.2l3.2 -3.2M351.5 177.3l3.2 3.2M351.5 180.5l3.2 -3.2M366.1 170.0l3.2 3.2M366.1 173.2l3.2 -3.2M379.7 180.9l3.2 3.2M379.7 184.1l3.2 -3.2M373.4 175.7l3.2 3.2M373.4 178.9l3.2 -3.2M355.1 168.3l3.2 3.2M355.1 171.5l3.2 -3.2M381.5 182.9l3.2 3.2M381.5 186.1l3.2 -3.2M370.6 177.9l3.2 3.2M370.6 181.1l3.2 -3.2M388.7 177.8l3.2 3.2M388.7 181.0l3.2 -3.2M382.4 189.2l3.2 3.2M382.4 192.4l3.2 -3.2M388.1 183.4l3.2 3.2M388.1 186.6l3.2 -3.2M357.3 185.9l3.2 3.2M357.3 189.1l3.2 -3.2M361.1 173.3l3.2 3.2M361.1 176.5l3.2 -3.2M386.7 181.8l3.2 3.2M386.7 185.0l3.2 -3.2M420.6 195.4l3.2 3.2M420.6 198.6l3.2 -3.2M384.2 185.0l3.2 3.2M384.2 188.2l3.2 -3.2M382.6 191.4l3.2 3.2M382.6 194.6l3.2 -3.2M366.9 177.1l3.2 3.2M366.9 180.3l3.2 -3.2M407.3 191.5l3.2 3.2M407.3 194.7l3.2 -3.2M378.7 178.7l3.2 3.2M378.7 181.9l3.2 -3.2M373.4 172.0l3.2 3.2M373.4 175.2l3.2 -3.2M380.4 182.7l3.2 3.2M380.4 185.9l3.2 -3.2M365.8 183.3l3.2 3.2M365.8 186.5l3.2 -3.2M384.9 172.1l3.2 3.2M384.9 175.3l3.2 -3.2M376.3 182.6l3.2 3.2M376.3 185.8l3.2 -3.2M371.1 169.9l3.2 3.2M371.1 173.1l3.2 -3.2M350.4 169.5l3.2 3.2M350.4 172.7l3.2 -3.2M355.1 165.8l3.2 3.2M355.1 169.0l3.2 -3.2M367.4 179.4l3.2 3.2M367.4 182.6l3.2 -3.2M336.3 180.4l3.2 3.2M336.3 183.6l3.2 -3.2M358.4 177.8l3.2 3.2M358.4 181.0l3.2 -3.2M372.3 176.7l3.2 3.2M372.3 179.9l3.2 -3.2M371.8 165.5l3.2 3.2M371.8 168.7l3.2 -3.2M407.9 191.3l3.2 3.2M407.9 194.5l3.2 -3.2M338.8 166.5l3.2 3.2M338.8 169.7l3.2 -3.2M368.4 185.4l3.2 3.2M368.4 188.6l3.2 -3.2M365.1 178.2l3.2 3.2M365.1 181.4l3.2 -3.2M376.4 171.2l3.2 3.2M376.4 174.4l3.2 -3.2M366.9 169.7l3.2 3.2M366.9 172.9l3.2 -3.2M358.6 171.3l3.2 3.2M358.6 174.5l3.2 -3.2M374.4 177.3l3.2 3.2M374.4 180.5l3.2 -3.2M366.7 172.9l3.2 3.2M366.7 176.1l3.2 -3.2M406.6 179.0l3.2 3.2M406.6 182.2l3.2 -3.2M365.5 176.8l3.2 3.2M365.5 180.0l3.2 -3.2M379.0 179.8l3.2 3.2M379.0 183.0l3.2 -3.2M386.6 179.6l3.2 3.2M386.6 182.8l3.2 -3.2M378.4 176.7l3.2 3.2M378.4 179.9l3.2 -3.2M368.5 188.1l3.2 3.2M368.5 191.3l3.2 -3.2M370.1 178.6l3.2 3.2M370.1 181.8l3.2 -3.2M368.1 178.8l3.2 3.2M368.1 182.0l3.2 -3.2M357.1 174.4l3.2 3.2M357.1 177.6l3.2 -3.2M372.6 181.9l3.2 3.2M372.6 185.1l3.2 -3.2M398.3 176.7l3.2 3.2M398.3 179.9l3.2 -3.2M395.5 177.8l3.2 3.2M395.5 181.0l3.2 -3.2M357.2 173.4l3.2 3.2M357.2 176.6l3.2 -3.2M385.5 160.5l3.2 3.2M385.5 163.7l3.2 -3.2M371.3 171.8l3.2 3.2M371.3 175.0l3.2 -3.2M369.1 168.0l3.2 3.2M369.1 171.2l3.2 -3.2M367.1 173.8l3.2 3.2M367.1 177.0l3.2 -3.2M385.6 176.3l3.2 3.2M385.6 179.5l3.2 -3.2M356.6 166.6l3.2 3.2M356.6 169.8l3.2 -3.2M356.9 178.3l3.2 3.2M356.9 181.5l3.2 -3.2M391.7 191.5l3.2 3.2M391.7 194.7l3.2 -3.2M342.5 156.9l3.2 3.2M342.5 160.1l3.2 -3.2M362.9 186.1l3.2 3.2M362.9 189.3l3.2 -3.2M378.6 187.6l3.2 3.2M378.6 190.8l3.2 -3.2M370.4 178.5l3.2 3.2M370.4 181.7l3.2 -3.2M366.6 180.1l3.2 3.2M366.6 183.3l3.2 -3.2M402.2 183.4l3.2 3.2M402.2 186.6l3.2 -3.2M393.4 171.6l3.2 3.2M393.4 174.8l3.2 -3.2M377.4 173.0l3.2 3.2M377.4 176.2l3.2 -3.2M388.4 194.8l3.2 3.2M388.4 198.0l3.2 -3.2M370.9 180.9l3.2 3.2M370.9 184.1l3.2 -3.2M366.4 174.5l3.2 3.2M366.4 177.7l3.2 -3.2M391.9 182.9l3.2 3.2M391.9 186.1l3.2 -3.2M394.6 195.7l3.2 3.2M394.6 198.9l3.2 -3.2M352.6 177.0l3.2 3.2M352.6 180.2l3.2 -3.2M397.4 175.9l3.2 3.2M397.4 179.1l3.2 -3.2M406.4 185.3l3.2 3.2M406.4 188.5l3.2 -3.2M388.1 184.7l3.2 3.2M388.1 187.9l3.2 -3.2M353.6 182.0l3.2 3.2M353.6 185.2l3.2 -3.2M384.7 173.6l3.2 3.2M384.7 176.8l3.2 -3.2M362.2 158.6l3.2 3.2M362.2 161.8l3.2 -3.2M392.8 187.3l3.2 3.2M392.8 190.5l3.2 -3.2M372.3 170.7l3.2 3.2M372.3 173.9l3.2 -3.2M371.1 176.5l3.2 3.2M371.1 179.7l3.2 -3.2M358.1 181.2l3.2 3.2M358.1 184.4l3.2 -3.2M371.3 186.7l3.2 3.2M371.3 189.9l3.2 -3.2M375.1 175.6l3.2 3.2M375.1 178.8l3.2 -3.2M349.6 172.8l3.2 3.2M349.6 176.0l3.2 -3.2M362.4 179.7l3.2 3.2M362.4 182.9l3.2 -3.2M355.8 171.8l3.2 3.2M355.8 175.0l3.2 -3.2M389.4 178.1l3.2 3.2M389.4 181.3l3.2 -3.2M374.8 160.7l3.2 3.2M374.8 163.9l3.2 -3.2M363.9 176.0l3.2 3.2M363.9 179.2l3.2 -3.2M389.4 186.0l3.2 3.2M389.4 189.2l3.2 -3.2M373.8 184.3l3.2 3.2M373.8 187.5l3.2 -3.2M368.2 172.8l3.2 3.2M368.2 176.0l3.2 -3.2M365.2 170.1l3.2 3.2M365.2 173.3l3.2 -3.2M391.2 182.6l3.2 3.2M391.2 185.8l3.2 -3.2M373.7 170.9l3.2 3.2M373.7 174.1l3.2 -3.2M343.1 169.5l3.2 3.2M343.1 172.7l3.2 -3.2M361.5 176.1l3.2 3.2M361.5 179.3l3.2 -3.2M367.1 179.1l3.2 3.2M367.1 182.3l3.2 -3.2M333.2 167.7l3.2 3.2M333.2 170.9l3.2 -3.2M387.3 178.8l3.2 3.2M387.3 182.0l3.2 -3.2M392.8 184.0l3.2 3.2M392.8 187.2l3.2 -3.2M356.6 180.3l3.2 3.2M356.6 183.5l3.2 -3.2M389.1 188.0l3.2 3.2M389.1 191.2l3.2 -3.2M380.0 171.1l3.2 3.2M380.0 174.3l3.2 -3.2M375.5 181.5l3.2 3.2M375.5 184.7l3.2 -3.2M357.2 161.3l3.2 3.2M357.2 164.5l3.2 -3.2M402.2 193.1l3.2 3.2M402.2 196.3l3.2 -3.2M377.5 178.7l3.2 3.2M377.5 181.9l3.2 -3.2M359.7 176.2l3.2 3.2M359.7 179.4l3.2 -3.2M385.0 188.8l3.2 3.2M385.0 192.0l3.2 -3.2M373.7 189.3l3.2 3.2M373.7 192.5l3.2 -3.2M357.4 179.5l3.2 3.2M357.4 182.7l3.2 -3.2M383.7 171.9l3.2 3.2M383.7 175.1l3.2 -3.2M377.9 184.5l3.2 3.2M377.9 187.7l3.2 -3.2M339.5 167.6l3.2 3.2M339.5 170.8l3.2 -3.2M371.0 174.4l3.2 3.2M371.0 177.6l3.2 -3.2M378.4 174.8l3.2 3.2M378.4 178.0l3.2 -3.2M386.4 196.2l3.2 3.2M386.4 199.4l3.2 -3.2M390.5 186.1l3.2 3.2M390.5 189.3l3.2 -3.2M374.1 191.7l3.2 3.2M374.1 194.9l3.2 -3.2M376.4 175.6l3.2 3.2M376.4 178.8l3.2 -3.2M353.1 168.4l3.2 3.2M353.1 171.6l3.2 -3.2M369.5 169.7l3.2 3.2M369.5 172.9l3.2 -3.2M359.8 169.7l3.2 3.2M359.8 172.9l3.2 -3.2M385.4 172.4l3.2 3.2M385.4 175.6l3.2 -3.2M391.5 175.0l3.2 3.2M391.5 178.2l3.2 -3.2M362.2 172.3l3.2 3.2M362.2 175.5l3.2 -3.2M335.3 162.9l3.2 3.2M335.3 166.1l3.2 -3.2M376.8 184.2l3.2 3.2M376.8 187.4l3.2 -3.2M388.5 179.7l3.2 3.2M388.5 182.9l3.2 -3.2M367.3 183.0l3.2 3.2M367.3 186.2l3.2 -3.2M347.9 176.0l3.2 3.2M347.9 179.2l3.2 -3.2M382.5 178.7l3.2 3.2M382.5 181.9l3.2 -3.2M357.7 164.7l3.2 3.2M357.7 167.9l3.2 -3.2M372.6 178.7l3.2 3.2M372.6 181.9l3.2 -3.2M368.2 172.0l3.2 3.2M368.2 175.2l3.2 -3.2M383.4 179.4l3.2 3.2M383.4 182.6l3.2 -3.2M348.8 162.9l3.2 3.2M348.8 166.1l3.2 -3.2M391.7 177.0l3.2 3.2M391.7 180.2l3.2 -3.2M376.6 181.6l3.2 3.2M376.6 184.8l3.2 -3.2M407.1 178.7l3.2 3.2M407.1 181.9l3.2 -3.2M354.3 170.9l3.2 3.2M354.3 174.1l3.2 -3.2M335.4 169.5l3.2 3.2M335.4 172.7l3.2 -3.2M369.3 165.1l3.2 3.2M369.3 168.3l3.2 -3.2M347.4 171.4l3.2 3.2M347.4 174.6l3.2 -3.2M371.4 181.3l3.2 3.2M371.4 184.5l3.2 -3.2M338.1 183.8l3.2 3.2M338.1 187.0l3.2 -3.2M384.5 190.2l3.2 3.2M384.5 193.4l3.2 -3.2M372.4 171.3l3.2 3.2M372.4 174.5l3.2 -3.2M369.1 169.9l3.2 3.2M369.1 173.1l3.2 -3.2M348.4 179.7l3.2 3.2M348.4 182.9l3.2 -3.2M388.7 189.1l3.2 3.2M388.7 192.3l3.2 -3.2M391.9 175.5l3.2 3.2M391.9 178.7l3.2 -3.2M396.5 194.8l3.2 3.2M396.5 198.0l3.2 -3.2M362.7 179.3l3.2 3.2M362.7 182.5l3.2 -3.2M373.7 184.0l3.2 3.2M373.7 187.2l3.2 -3.2M380.7 181.1l3.2 3.2M380.7 184.3l3.2 -3.2M362.1 167.5l3.2 3.2M362.1 170.7l3.2 -3.2M371.7 164.9l3.2 3.2M371.7 168.1l3.2 -3.2M373.2 188.9l3.2 3.2M373.2 192.1l3.2 -3.2M386.4 187.7l3.2 3.2M386.4 190.9l3.2 -3.2M340.6 153.0l3.2 3.2M340.6 156.2l3.2 -3.2M396.3 177.7l3.2 3.2M396.3 180.9l3.2 -3.2M372.5 163.6l3.2 3.2M372.5 166.8l3.2 -3.2M373.2 164.5l3.2 3.2M373.2 167.7l3.2 -3.2M362.7 174.3l3.2 3.2M362.7 177.5l3.2 -3.2M389.4 186.3l3.2 3.2M389.4 189.5l3.2 -3.2M383.2 173.4l3.2 3.2M383.2 176.6l3.2 -3.2M373.5 174.4l3.2 3.2M373.5 177.6l3.2 -3.2M388.4 170.2l3.2 3.2M388.4 173.4l3.2 -3.2M362.5 171.6l3.2 3.2M362.5 174.8l3.2 -3.2M385.6 163.5l3.2 3.2M385.6 166.7l3.2 -3.2M357.9 184.6l3.2 3.2M357.9 187.8l3.2 -3.2M366.2 187.0l3.2 3.2M366.2 190.2l3.2 -3.2M402.3 187.3l3.2 3.2M402.3 190.5l3.2 -3.2M361.7 182.3l3.2 3.2M361.7 185.5l3.2 -3.2M359.6 173.4l3.2 3.2M359.6 176.6l3.2 -3.2M368.9 181.1l3.2 3.2M368.9 184.3l3.2 -3.2M375.6 169.0l3.2 3.2M375.6 172.2l3.2 -3.2M381.3 178.1l3.2 3.2M381.3 181.3l3.2 -3.2M374.2 174.5l3.2 3.2M374.2 177.7l3.2 -3.2M372.8 180.8l3.2 3.2M372.8 184.0l3.2 -3.2M373.5 177.4l3.2 3.2M373.5 180.6l3.2 -3.2M415.7 189.6l3.2 3.2M415.7 192.8l3.2 -3.2M346.2 177.4l3.2 3.2M346.2 180.6l3.2 -3.2M378.2 176.6l3.2 3.2M378.2 179.8l3.2 -3.2M387.4 193.9l3.2 3.2M387.4 197.1l3.2 -3.2M357.5 177.0l3.2 3.2M357.5 180.2l3.2 -3.2M383.3 184.1l3.2 3.2M383.3 187.3l3.2 -3.2M383.0 171.6l3.2 3.2M383.0 174.8l3.2 -3.2M328.8 169.3l3.2 3.2M328.8 172.5l3.2 -3.2M406.0 196.9l3.2 3.2M406.0 200.1l3.2 -3.2M390.8 182.6l3.2 3.2M390.8 185.8l3.2 -3.2M381.8 177.1l3.2 3.2M381.8 180.3l3.2 -3.2M360.0 171.3l3.2 3.2M360.0 174.5l3.2 -3.2M370.7 171.0l3.2 3.2M370.7 174.2l3.2 -3.2M362.1 169.6l3.2 3.2M362.1 172.8l3.2 -3.2M361.5 171.4l3.2 3.2M361.5 174.6l3.2 -3.2M391.2 172.2l3.2 3.2M391.2 175.4l3.2 -3.2M337.5 171.5l3.2 3.2M337.5 174.7l3.2 -3.2M335.7 165.0l3.2 3.2M335.7 168.2l3.2 -3.2M363.0 173.7l3.2 3.2M363.0 176.9l3.2 -3.2M385.7 177.5l3.2 3.2M385.7 180.7l3.2 -3.2M356.1 170.0l3.2 3.2M356.1 173.2l3.2 -3.2M385.6 182.2l3.2 3.2M385.6 185.4l3.2 -3.2M361.9 176.4l3.2 3.2M361.9 179.6l3.2 -3.2M371.3 176.6l3.2 3.2M371.3 179.8l3.2 -3.2M372.0 192.2l3.2 3.2M372.0 195.4l3.2 -3.2M378.9 176.3l3.2 3.2M378.9 179.5l3.2 -3.2M382.6 173.1l3.2 3.2M382.6 176.3l3.2 -3.2M370.0 178.0l3.2 3.2M370.0 181.2l3.2 -3.2M356.9 176.3l3.2 3.2M356.9 179.5l3.2 -3.2M349.2 173.4l3.2 3.2M349.2 176.6l3.2 -3.2M393.6 174.6l3.2 3.2M393.6 177.8l3.2 -3.2M379.4 182.3l3.2 3.2M379.4 185.5l3.2 -3.2M390.9 174.7l3.2 3.2M390.9 177.9l3.2 -3.2M361.8 184.5l3.2 3.2M361.8 187.7l3.2 -3.2M383.5 184.0l3.2 3.2M383.5 187.2l3.2 -3.2M388.7 170.8l3.2 3.2M388.7 174.0l3.2 -3.2M394.5 186.1l3.2 3.2M394.5 189.3l3.2 -3.2M372.6 187.1l3.2 3.2M372.6 190.3l3.2 -3.2M395.4 180.7l3.2 3.2M395.4 183.9l3.2 -3.2M351.6 175.7l3.2 3.2M351.6 178.9l3.2 -3.2M369.5 177.1l3.2 3.2M369.5 180.3l3.2 -3.2M356.7 170.0l3.2 3.2M356.7 173.2l3.2 -3.2M351.5 175.7l3.2 3.2M351.5 178.9l3.2 -3.2M375.0 174.9l3.2 3.2M375.0 178.1l3.2 -3.2M389.2 183.0l3.2 3.2M389.2 186.2l3.2 -3.2M360.7 174.4l3.2 3.2M360.7 177.6l3.2 -3.2M364.8 177.4l3.2 3.2M364.8 180.6l3.2 -3.2M363.5 184.4l3.2 3.2M363.5 187.6l3.2 -3.2M363.9 181.2l3.2 3.2M363.9 184.4l3.2 -3.2M386.9 185.2l3.2 3.2M386.9 188.4l3.2 -3.2M390.3 176.3l3.2 3.2M390.3 179.5l3.2 -3.2M348.1 177.4l3.2 3.2M348.1 180.6l3.2 -3.2M381.2 186.2l3.2 3.2M381.2 189.4l3.2 -3.2M380.2 178.1l3.2 3.2M380.2 181.3l3.2 -3.2M364.8 170.8l3.2 3.2M364.8 174.0l3.2 -3.2M344.1 170.1l3.2 3.2M344.1 173.3l3.2 -3.2M369.4 178.8l3.2 3.2M369.4 182.0l3.2 -3.2M351.9 182.9l3.2 3.2M351.9 186.1l3.2 -3.2M379.5 176.1l3.2 3.2M379.5 179.3l3.2 -3.2M379.1 171.5l3.2 3.2M379.1 174.7l3.2 -3.2M396.5 184.7l3.2 3.2M396.5 187.9l3.2 -3.2M363.6 173.8l3.2 3.2M363.6 177.0l3.2 -3.2M376.0 183.8l3.2 3.2M376.0 187.0l3.2 -3.2M367.2 180.6l3.2 3.2M367.2 183.8l3.2 -3.2M380.2 178.2l3.2 3.2M380.2 181.4l3.2 -3.2M362.5 176.0l3.2 3.2M362.5 179.2l3.2 -3.2M364.4 172.1l3.2 3.2M364.4 175.3l3.2 -3.2M354.3 171.8l3.2 3.2M354.3 175.0l3.2 -3.2M373.3 180.7l3.2 3.2M373.3 183.9l3.2 -3.2M374.5 181.9l3.2 3.2M374.5 185.1l3.2 -3.2M401.5 180.5l3.2 3.2M401.5 183.7l3.2 -3.2M379.2 186.9l3.2 3.2M379.2 190.1l3.2 -3.2M368.7 173.1l3.2 3.2M368.7 176.3l3.2 -3.2M389.9 183.8l3.2 3.2M389.9 187.0l3.2 -3.2M388.9 190.5l3.2 3.2M388.9 193.7l3.2 -3.2M365.4 182.1l3.2 3.2M365.4 185.3l3.2 -3.2M375.7 180.7l3.2 3.2M375.7 183.9l3.2 -3.2M367.2 159.7l3.2 3.2M367.2 162.9l3.2 -3.2M331.4 162.1l3.2 3.2M331.4 165.3l3.2 -3.2M319.8 170.4l3.2 3.2M319.8 173.6l3.2 -3.2M342.6 158.6l3.2 3.2M342.6 161.8l3.2 -3.2M322.0 169.0l3.2 3.2M322.0 172.2l3.2 -3.2M318.8 169.5l3.2 3.2M318.8 172.7l3.2 -3.2M336.5 160.8l3.2 3.2M336.5 164.0l3.2 -3.2M343.1 158.0l3.2 3.2M343.1 161.2l3.2 -3.2M353.5 166.2l3.2 3.2M353.5 169.4l3.2 -3.2M336.5 165.6l3.2 3.2M336.5 168.8l3.2 -3.2M324.8 162.6l3.2 3.2M324.8 165.8l3.2 -3.2M333.5 158.5l3.2 3.2M333.5 161.7l3.2 -3.2M346.9 166.7l3.2 3.2M346.9 169.9l3.2 -3.2M349.7 165.5l3.2 3.2M349.7 168.7l3.2 -3.2M324.4 167.7l3.2 3.2M324.4 170.9l3.2 -3.2M350.4 173.3l3.2 3.2M350.4 176.5l3.2 -3.2M330.8 161.0l3.2 3.2M330.8 164.2l3.2 -3.2M320.9 166.7l3.2 3.2M320.9 169.9l3.2 -3.2M340.1 159.2l3.2 3.2M340.1 162.4l3.2 -3.2M334.6 167.1l3.2 3.2M334.6 170.3l3.2 -3.2M317.9 157.4l3.2 3.2M317.9 160.6l3.2 -3.2M323.0 163.3l3.2 3.2M323.0 166.5l3.2 -3.2M333.4 159.1l3.2 3.2M333.4 162.3l3.2 -3.2" style="fill:none;stroke:#0000ff;stroke-width:1.2"/></g>
   <g id="PHB_g"><path d="M427.3 151.2h3.7M429.1 149.4v3.7M439.6 153.4h3.7M441.5 151.6v3.7M422.8 156.8h3.7M424.6 155.0v3.7M452.0 168.9h3.7M453.8 167.1v3.7M443.9 160.4h3.7M445.7 158.5v3.7M441.0 154.4h3.7M442.9 152.6v3.7M409.1 147.5h3.7M410.9 145.7v3.7M437.6 151.7h3.7M439.5 149.8v3.7M443.9 166.5h3.7M445.8 164.7v3.7M441.5 154.4h3.7M443.3 152.5v3.7M438.8 162.3h3.7M440.6 160.4v3.7M419.1 149.8h3.7M421.0 148.0v3.7M448.8 159.3h3.7M450.7 157.4v3.7M452.1 163.3h3.7M453.9 161.4v3.7M448.9 159.5h3.7M450.7 157.7v3.7M427.3 153.2h3.7M429.2 151.3v3.7M425.5 152.8h3.7M427.3 151.0v3.7M454.5 159.7h3.7M456.3 157.8v3.7M444.0 150.0h3.7M445.9 148.2v3.7M427.9 150.0h3.7M429.8 148.1v3.7M443.3 158.4h3.7M445.1 156.6v3.7M420.7 153.3h3.7M422.6 151.4v3.7M442.7 149.5h3.7M444.5 147.6v3.7M432.9 157.6h3.7M434.8 155.7v3.7M440.4 157.0h3.7M442.2 155.1v3.7M436.4 149.0h3.7M438.2 147.1v3.7M414.1 161.9h3.7M415.9 160.1v3.7M447.0 165.1h3.7M448.9 163.3v3.7M433.1 163.7h3.7M434.9 161.9v3.7M444.2 164.3h3.7M446.0 162.5v3.7M447.4 163.4h3.7M449.2 161.5v3.7M425.8 160.5h3.7M427.7 158.6v3.7M449.8 158.0h3.7M451.7 156.1v3.7M448.5 149.8h3.7M450.3 147.9v3.7M426.3 153.7h3.7M428.1 151.9v3.7M430.2 154.1h3.7M432.0 152.3v3.7M441.1 149.7h3.7M443.0 147.8v3.7M460.2 168.1h3.7M462.1 166.3v3.7M441.1 166.7h3.7M443.0 164.9v3.7M427.5 149.1h3.7M429.4 147.3v3.7M438.6 162.4h3.7M440.4 160.6v3.7M449.9 156.9h3.7M451.7 155.1v3.7M436.2 161.4h3.7M438.1 159.5v3.7M454.2 158.4h3.7M456.1 156.6v3.7M436.1 165.0h3.7M438.0 163.1v3.7M424.5 152.2h3.7M426.4 150.3v3.7M410.3 155.9h3.7M412.1 154.1v3.7M455.6 152.5h3.7M457.5 150.6v3.7M447.2 163.1h3.7M449.0 161.2v3.7M435.5 158.8h3.7M437.4 156.9v3.7M440.9 157.3h3.7M442.8 155.5v3.7M437.0 156.8h3.7M438.8 155.0v3.7M449.7 161.7h3.7M451.6 159.9v3.7M461.4 157.2h3.7M463.3 155.3v3.7M465.9 163.6h3.7M467.8 161.8v3.7M452.9 169.1h3.7M454.8 167.2v3.7M447.4 161.4h3.7M449.2 159.5v3.7M429.2 153.9h3.7M431.0 152.0v3.7M430.7 151.2h3.7M432.6 149.3v3.7M428.2 159.1h3.7M430.0 157.3v3.7M437.2 160.1h3.7M439.1 158.2v3.7M425.5 160.7h3.7M427.3 158.9v3.7M446.1 159.3h3.7M447.9 157.5v3.7M433.0 159.5h3.7M434.8 157.7v3.7M461.7 164.0h3.7M463.5 162.1v3.7M439.5 158.0h3.7M441.3 156.2v3.7M438.1 167.0h3.7M440.0 165.1v3.7M455.4 157.3h3.7M457.3 155.4v3.7M417.4 159.4h3.7M419.2 157.5v3.7M464.4 155.1h3.7M466.2 153.2v3.7M448.3 153.3h3.7M450.1 151.4v3.7M454.2 156.8h3.7M456.0 154.9v3.7M432.8 144.4h3.7M434.7 142.6v3.7M449.8 157.1h3.7M451.7 155.2v3.7M447.1 163.6h3.7M449.0 161.7v3.7M443.2 165.3h3.7M445.1 163.4v3.7M432.7 154.4h3.7M434.6 152.5v3.7M406.6 156.0h3.7M408.5 154.2v3.7M453.8 164.3h3.7M455.6 162.4v3.7M424.3 151.1h3.7M426.1 149.3v3.7M439.3 157.6h3.7M441.1 155.7v3.7M431.0 157.3h3.7M432.9 155.5v3.7M427.9 161.8h3.7M429.7 160.0v3.7M447.5 163.0h3.7M449.3 161.2v3.7M447.3 166.1h3.7M449.2 164.3v3.7M415.4 148.6h3.7M417.2 146.7v3.7M434.8 156.3h3.7M436.6 154.5v3.7M425.3 146.2h3.7M427.1 144.4v3.7M442.1 152.7h3.7M444.0 150.9v3.7M412.2 151.7h3.7M414.0 149.8v3.7M436.2 156.3h3.7M438.0 154.5v3.7M414.9 157.9h3.7M416.8 156.0v3.7M429.7 161.1h3.7M431.5 159.3v3.7M432.8 162.6h3.7M434.7 160.7v3.7M435.8 159.0h3.7M437.6 157.1v3.7M443.2 161.9h3.7M445.1 160.0v3.7M450.3 163.5h3.7M452.2 161.6v3.7M435.9 157.3h3.7M437.7 155.4v3.7M435.6 158.0h3.7M437.4 156.1v3.7M417.4 155.8h3.7M419.2 154.0v3.7M432.0 152.5h3.7M433.8 150.6v3.7M434.9 163.1h3.7M436.8 161.2v3.7M457.3 165.4h3.7M459.2 163.6v3.7M435.3 159.3h3.7M437.2 157.5v3.7M439.7 147.4h3.7M441.5 145.5v3.7M420.7 155.4h3.7M422.5 153.5v3.7M443.3 158.6h3.7M445.2 156.7v3.7M447.2 157.1h3.7M449.1 155.2v3.7M423.9 153.8h3.7M425.8 152.0v3.7M435.6 159.3h3.7M437.5 157.4v3.7M452.6 156.3h3.7M454.5 154.4v3.7M431.6 149.1h3.7M433.5 147.3v3.7M430.4 152.3h3.7M432.2 150.4v3.7M438.2 161.9h3.7M440.0 160.1v3.7M423.7 153.9h3.7M425.6 152.0v3.7M421.2 159.0h3.7M423.0 157.2v3.7M463.5 162.2h3.7M465.4 160.3v3.7M445.7 162.2h3.7M447.5 160.4v3.7M449.5 160.7h3.7M451.4 158.9v3.7M437.5 149.6h3.7M439.4 147.7v3.7M437.3 152.9h3.7M439.1 151.1v3.7M436.1 158.0h3.7M437.9 156.1v3.7M449.3 155.8h3.7M451.1 153.9v3.7M429.1 164.5h3.7M431.0 162.6v3.7M455.9 160.0h3.7M457.8 158.2v3.7M452.4 162.9h3.7M454.3 161.0v3.7M451.5 165.8h3.7M453.4 164.0v3.7M443.0 156.6h3.7M444.8 154.7v3.7M438.4 151.3h3.7M440.3 149.4v3.7M441.1 163.7h3.7M443.0 161.9v3.7M442.6 158.6h3.7M444.4 156.7v3.7M437.1 159.6h3.7M438.9 157.8v3.7M433.0 155.8h3.7M434.8 153.9v3.7M444.4 156.2h3.7M446.2 154.4v3.7M457.7 171.1h3.7M459.5 169.3v3.7M411.9 149.8h3.7M413.8 147.9v3.7M443.2 162.3h3.7M445.0 160.5v3.7M455.4 157.7h3.7M457.3 155.8v3.7M456.9 159.9h3.7M458.8 158.1v3.7M441.1 154.5h3.7M443.0 152.7v3.7M452.8 156.2h3.7M454.7 154.3v3.7M433.1 156.0h3.7M435.0 154.2v3.7M430.9 157.7h3.7M432.8 155.8v3.7M427.7 157.0h3.7M429.6 155.2v3.7M458.4 166.4h3.7M460.3 164.6v3.7M453.4 163.2h3.7M455.2 161.4v3.7M434.1 163.0h3.7M436.0 161.1v3.7M464.3 157.3h3.7M466.1 155.4v3.7M440.7 154.2h3.7M442.5 152.4v3.7M411.0 152.5h3.7M412.8 150.7v3.7M426.2 162.6h3.7M428.0 160.7v3.7M431.2 153.1h3.7M433.0 151.3v3.7M434.1 155.1h3.7M436.0 153.2v3.7M418.7 155.0h3.7M420.6 153.1v3.7M433.0 155.9h3.7M434.8 154.0v3.7M431.9 155.6h3.7M433.8 153.8v3.7M448.5 165.4h3.7M450.3 163.6v3.7M462.3 164.5h3.7M464.2 162.7v3.7M425.9 160.2h3.7M427.8 158.3v3.7M441.6 161.6h3.7M443.4 159.7v3.7M425.6 160.0h3.7M427.5 158.1v3.7M440.6 159.9h3.7M442.4 158.0v3.7M434.6 155.9h3.7M436.4 154.0v3.7M459.9 157.5h3.7M461.7 155.6v3.7M413.6 151.4h3.7M415.4 149.5v3.7M414.7 144.9h3.7M416.5 143.1v3.7M453.6 168.5h3.7M455.4 166.6v3.7M439.2 159.2h3.7M441.0 157.3v3.7M431.0 159.5h3.7M432.9 157.6v3.7M431.8 163.0h3.7M433.7 161.1v3.7M432.7 160.2h3.7M434.5 158.4v3.7M437.8 163.8h3.7M439.7 161.9v3.7M434.6 151.3h3.7M436.4 149.4v3.7M429.0 155.2h3.7M430.8 153.4v3.7M462.0 163.3h3.7M463.8 161.4v3.7M431.8 161.1h3.7M433.7 159.2v3.7M414.3 157.0h3.7M416.1 155.1v3.7M418.7 152.0h3.7M420.5 150.1v3.7M451.2 168.5h3.7M453.0 166.6v3.7M465.2 161.1h3.7M467.1 159.3v3.7M432.8 163.0h3.7M434.7 161.1v3.7M430.2 149.5h3.7M432.0 147.7v3.7M428.0 155.5h3.7M429.8 153.6v3.7M420.3 153.0h3.7M422.1 151.2v3.7M426.7 146.8h3.7M428.6 145.0v3.7M426.2 156.1h3.7M428.1 154.2v3.7M449.6 153.6h3.7M451.4 151.7v3.7M463.5 168.5h3.7M465.3 166.7v3.7M431.3 150.0h3.7M433.1 148.1v3.7M445.3 163.8h3.7M447.1 161.9v3.7M444.4 159.5h3.7M446.3 157.6v3.7M453.1 160.6h3.7M454.9 158.8v3.7M432.4 160.0h3.7M434.2 158.1v3.7M446.5 163.6h3.7M448.4 161.7v3.7M429.0 159.0h3.7M430.8 157.1v3.7M446.2 164.9h3.7M448.0 163.1v3.7M446.2 161.9h3.7M448.1 160.1v3.7M412.0 155.8h3.7M413.8 153.9v3.7M435.7 157.2h3.7M437.6 155.3v3.7M449.8 168.9h3.7M451.6 167.0v3.7M461.4 166.5h3.7M463.2 164.7v3.7M419.0 155.5h3.7M420.9 153.7v3.7M437.6 160.8h3.7M439.4 158.9v3.7M451.6 167.8h3.7M453.4 165.9v3.7M452.2 159.7h3.7M454.0 157.8v3.7M431.3 155.1h3.7M433.2 153.3v3.7M457.5 159.9h3.7M459.3 158.1v3.7M446.6 158.3h3.7M448.5 156.4v3.7M413.3 150.9h3.7M415.1 149.1v3.7M430.8 163.0h3.7M432.7 161.1v3.7M437.3 159.9h3.7M439.1 158.0v3.7M448.9 161.3h3.7M450.7 159.4v3.7M453.4 168.5h3.7M455.3 166.7v3.7M445.9 169.8h3.7M447.7 167.9v3.7M456.7 166.5h3.7M458.6 164.6v3.7M450.7 168.0h3.7M452.6 166.1v3.7M420.4 154.8h3.7M422.2 152.9v3.7M428.9 152.8h3.7M430.7 150.9v3.7M438.9 161.0h3.7M440.7 159.1v3.7M422.9 160.9h3.7M424.8 159.0v3.7M440.1 161.3h3.7M442.0 159.5v3.7M436.0 155.7h3.7M437.9 153.8v3.7M435.7 163.0h3.7M437.5 161.1v3.7M439.7 169.3h3.7M441.6 167.5v3.7M441.3 157.3h3.7M443.1 155.4v3.7M444.9 156.8h3.7M446.7 155.0v3.7M429.9 156.3h3.7M431.7 154.4v3.7M418.1 147.4h3.7M420.0 145.6v3.7M427.8 158.6h3.7M429.7 156.8v3.7M434.9 157.5h3.7M436.7 155.7v3.7M426.9 162.0h3.7M428.7 160.2v3.7M426.6 155.5h3.7M428.5 153.6v3.7M451.9 165.9h3.7M453.7 164.1v3.7M441.2 165.3h3.7M443.0 163.4v3.7M453.8 169.2h3.7M455.7 167.3v3.7M410.8 144.3h3.7M412.6 142.5v3.7M442.0 154.0h3.7M443.9 152.2v3.7M438.7 163.2h3.7M440.5 161.3v3.7M429.0 163.2h3.7M430.9 161.4v3.7M434.2 162.1h3.7M436.0 160.3v3.7M430.2 159.9h3.7M432.1 158.0v3.7M451.1 164.1h3.7M452.9 162.2v3.7M444.5 155.6h3.7M446.3 153.7v3.7M424.4 159.8h3.7M426.3 157.9v3.7M462.3 172.3h3.7M464.1 170.5v3.7M438.3 157.0h3.7M440.2 155.1v3.7M443.9 164.8h3.7M445.7 162.9v3.7M437.1 160.3h3.7M438.9 158.4v3.7M437.5 164.6h3.7M439.4 162.7v3.7M447.6 157.9h3.7M449.4 156.0v3.7M451.9 163.6h3.7M453.7 161.7v3.7M439.4 167.0h3.7M441.2 165.2v3.7M437.7 158.3h3.7M439.5 156.4v3.7M421.0 158.3h3.7M422.9 156.5v3.7M434.5 155.5h3.7M436.4 153.6v3.7M436.1 153.3h3.7M437.9 151.5v3.7M435.2 169.9h3.7M437.0 168.0v3.7M451.8 169.5h3.7M453.6 167.7v3.7M417.2 149.8h3.7M419.1 148.0v3.7M447.7 152.1h3.7M449.5 150.3v3.7M374.2 137.4h3.7M376.0 135.5v3.7M380.6 137.4h3.7M382.4 135.5v3.7" style="fill:none;stroke:#008000;stroke-width:1.45"/></g>
   <g id="PHB_y"><path d="M495.3 177.4l3.2 3.2M495.3 180.6l3.2 -3.2M495.6 178.3l3.2 3.2M495.6 181.5l3.2 -3.2M491.4 172.0l3.2 3.2M491.4 175.2l3.2 -3.2M483.2 175.8l3.2 3.2M483.2 179.0l3.2 -3.2M487.7 179.7l3.2 3.2M487.7 182.9l3.2 -3.2M486.2 175.6l3.2 3.2M486.2 178.8l3.2 -3.2M493.4 178.3l3.2 3.2M493.4 181.5l3.2 -3.2M503.0 170.5l3.2 3.2M503.0 173.7l3.2 -3.2M494.0 162.2l3.2 3.2M494.0 165.4l3.2 -3.2M481.1 177.6l3.2 3.2M481.1 180.8l3.2 -3.2M481.3 175.8l3.2 3.2M481.3 179.0l3.2 -3.2M469.5 164.1l3.2 3.2M469.5 167.3l3.2 -3.2M456.6 170.0l3.2 3.2M456.6 173.2l3.2 -3.2M474.8 171.1l3.2 3.2M474.8 174.3l3.2 -3.2M518.2 181.8l3.2 3.2M518.2 185.0l3.2 -3.2M487.8 179.2l3.2 3.2M487.8 182.4l3.2 -3.2M503.1 185.8l3.2 3.2M503.1 189.0l3.2 -3.2M470.0 157.3l3.2 3.2M470.0 160.5l3.2 -3.2M509.1 173.9l3.2 3.2M509.1 177.1l3.2 -3.2M504.5 184.8l3.2 3.2M504.5 188.0l3.2 -3.2M481.8 171.0l3.2 3.2M481.8 174.2l3.2 -3.2M496.1 176.7l3.2 3.2M496.1 179.9l3.2 -3.2M485.0 166.6l3.2 3.2M485.0 169.8l3.2 -3.2M475.7 179.3l3.2 3.2M475.7 182.5l3.2 -3.2M490.1 173.4l3.2 3.2M490.1 176.6l3.2 -3.2M465.6 164.9l3.2 3.2M465.6 168.1l3.2 -3.2M504.6 181.4l3.2 3.2M504.6 184.6l3.2 -3.2M494.7 173.7l3.2 3.2M494.7 176.9l3.2 -3.2M471.0 180.8l3.2 3.2M471.0 184.0l3.2 -3.2M476.8 161.4l3.2 3.2M476.8 164.6l3.2 -3.2M499.5 180.0l3.2 3.2M499.5 183.2l3.2 -3.2M477.8 171.0l3.2 3.2M477.8 174.2l3.2 -3.2M502.7 178.8l3.2 3.2M502.7 182.0l3.2 -3.2M479.7 166.2l3.2 3.2M479.7 169.4l3.2 -3.2M523.3 179.6l3.2 3.2M523.3 182.8l3.2 -3.2M492.0 171.2l3.2 3.2M492.0 174.4l3.2 -3.2M497.9 173.9l3.2 3.2M497.9 177.1l3.2 -3.2M485.2 170.8l3.2 3.2M485.2 174.0l3.2 -3.2M475.0 162.2l3.2 3.2M475.0 165.4l3.2 -3.2M478.3 174.6l3.2 3.2M478.3 177.8l3.2 -3.2M511.4 181.6l3.2 3.2M511.4 184.8l3.2 -3.2M506.6 182.9l3.2 3.2M506.6 186.1l3.2 -3.2M492.7 171.1l3.2 3.2M492.7 174.3l3.2 -3.2M513.7 182.2l3.2 3.2M513.7 185.4l3.2 -3.2M474.2 176.0l3.2 3.2M474.2 179.2l3.2 -3.2M479.0 166.2l3.2 3.2M479.0 169.4l3.2 -3.2M495.1 173.1l3.2 3.2M495.1 176.3l3.2 -3.2M499.7 173.6l3.2 3.2M499.7 176.8l3.2 -3.2M483.5 184.8l3.2 3.2M483.5 188.0l3.2 -3.2M466.1 159.5l3.2 3.2M466.1 162.7l3.2 -3.2M491.4 185.1l3.2 3.2M491.4 188.3l3.2 -3.2M493.0 181.8l3.2 3.2M493.0 185.0l3.2 -3.2M500.1 178.6l3.2 3.2M500.1 181.8l3.2 -3.2M477.5 164.7l3.2 3.2M477.5 167.9l3.2 -3.2M471.0 164.3l3.2 3.2M471.0 167.5l3.2 -3.2M498.7 182.3l3.2 3.2M498.7 185.5l3.2 -3.2M481.6 173.5l3.2 3.2M481.6 176.7l3.2 -3.2M508.8 180.5l3.2 3.2M508.8 183.7l3.2 -3.2M482.5 165.7l3.2 3.2M482.5 168.9l3.2 -3.2M498.5 179.1l3.2 3.2M498.5 182.3l3.2 -3.2M479.0 181.1l3.2 3.2M479.0 184.3l3.2 -3.2M451.0 169.2l3.2 3.2M451.0 172.4l3.2 -3.2M470.3 175.2l3.2 3.2M470.3 178.4l3.2 -3.2M506.6 187.7l3.2 3.2M506.6 190.9l3.2 -3.2M486.7 168.5l3.2 3.2M486.7 171.7l3.2 -3.2M499.0 183.0l3.2 3.2M499.0 186.2l3.2 -3.2M483.7 175.7l3.2 3.2M483.7 178.9l3.2 -3.2M475.5 168.7l3.2 3.2M475.5 171.9l3.2 -3.2M479.3 171.5l3.2 3.2M479.3 174.7l3.2 -3.2M471.3 168.5l3.2 3.2M471.3 171.7l3.2 -3.2M502.7 188.0l3.2 3.2M502.7 191.2l3.2 -3.2M462.3 165.3l3.2 3.2M462.3 168.5l3.2 -3.2M471.5 166.9l3.2 3.2M471.5 170.1l3.2 -3.2M488.7 174.9l3.2 3.2M488.7 178.1l3.2 -3.2M495.1 182.4l3.2 3.2M495.1 185.6l3.2 -3.2M480.1 164.6l3.2 3.2M480.1 167.8l3.2 -3.2M467.1 170.4l3.2 3.2M467.1 173.6l3.2 -3.2M489.9 172.4l3.2 3.2M489.9 175.6l3.2 -3.2M477.2 173.4l3.2 3.2M477.2 176.6l3.2 -3.2M494.7 174.1l3.2 3.2M494.7 177.3l3.2 -3.2M470.5 171.8l3.2 3.2M470.5 175.0l3.2 -3.2M487.8 174.5l3.2 3.2M487.8 177.7l3.2 -3.2M506.3 178.2l3.2 3.2M506.3 181.4l3.2 -3.2M481.6 165.6l3.2 3.2M481.6 168.8l3.2 -3.2M460.1 165.0l3.2 3.2M460.1 168.2l3.2 -3.2M473.1 170.5l3.2 3.2M473.1 173.7l3.2 -3.2M478.5 177.3l3.2 3.2M478.5 180.5l3.2 -3.2M517.4 193.1l3.2 3.2M517.4 196.3l3.2 -3.2M483.7 182.8l3.2 3.2M483.7 186.0l3.2 -3.2M490.6 178.8l3.2 3.2M490.6 182.0l3.2 -3.2M443.6 156.0l3.2 3.2M443.6 159.2l3.2 -3.2M463.5 162.0l3.2 3.2M463.5 165.2l3.2 -3.2M493.6 179.4l3.2 3.2M493.6 182.6l3.2 -3.2M479.9 170.8l3.2 3.2M479.9 174.0l3.2 -3.2M479.0 169.8l3.2 3.2M479.0 173.0l3.2 -3.2M506.8 178.7l3.2 3.2M506.8 181.9l3.2 -3.2M500.3 183.2l3.2 3.2M500.3 186.4l3.2 -3.2M489.9 179.3l3.2 3.2M489.9 182.5l3.2 -3.2M500.4 174.3l3.2 3.2M500.4 177.5l3.2 -3.2M435.9 166.9l3.2 3.2M435.9 170.1l3.2 -3.2M475.8 174.6l3.2 3.2M475.8 177.8l3.2 -3.2M488.8 182.0l3.2 3.2M488.8 185.2l3.2 -3.2M500.2 171.0l3.2 3.2M500.2 174.2l3.2 -3.2M475.4 163.5l3.2 3.2M475.4 166.7l3.2 -3.2M463.1 157.3l3.2 3.2M463.1 160.5l3.2 -3.2M483.7 172.2l3.2 3.2M483.7 175.4l3.2 -3.2M498.6 177.9l3.2 3.2M498.6 181.1l3.2 -3.2M492.3 167.4l3.2 3.2M492.3 170.6l3.2 -3.2M469.4 175.7l3.2 3.2M469.4 178.9l3.2 -3.2M484.8 178.8l3.2 3.2M484.8 182.0l3.2 -3.2M486.1 170.4l3.2 3.2M486.1 173.6l3.2 -3.2M478.7 175.0l3.2 3.2M478.7 178.2l3.2 -3.2M487.8 169.2l3.2 3.2M487.8 172.4l3.2 -3.2M486.7 168.4l3.2 3.2M486.7 171.6l3.2 -3.2M505.1 176.2l3.2 3.2M505.1 179.4l3.2 -3.2M479.7 180.9l3.2 3.2M479.7 184.1l3.2 -3.2M487.3 172.9l3.2 3.2M487.3 176.1l3.2 -3.2M480.7 163.3l3.2 3.2M480.7 166.5l3.2 -3.2M489.6 178.1l3.2 3.2M489.6 181.3l3.2 -3.2M508.3 178.7l3.2 3.2M508.3 181.9l3.2 -3.2M495.0 180.0l3.2 3.2M495.0 183.2l3.2 -3.2M486.3 181.3l3.2 3.2M486.3 184.5l3.2 -3.2M504.9 172.2l3.2 3.2M504.9 175.4l3.2 -3.2M472.0 175.3l3.2 3.2M472.0 178.5l3.2 -3.2M496.5 178.3l3.2 3.2M496.5 181.5l3.2 -3.2M495.2 179.2l3.2 3.2M495.2 182.4l3.2 -3.2M490.6 179.8l3.2 3.2M490.6 183.0l3.2 -3.2M472.5 169.9l3.2 3.2M472.5 173.1l3.2 -3.2M449.5 165.0l3.2 3.2M449.5 168.2l3.2 -3.2M495.9 176.9l3.2 3.2M495.9 180.1l3.2 -3.2M482.5 178.7l3.2 3.2M482.5 181.9l3.2 -3.2M510.0 173.9l3.2 3.2M510.0 177.1l3.2 -3.2M491.3 179.0l3.2 3.2M491.3 182.2l3.2 -3.2M454.0 166.9l3.2 3.2M454.0 170.1l3.2 -3.2M484.3 170.0l3.2 3.2M484.3 173.2l3.2 -3.2M505.0 177.9l3.2 3.2M505.0 181.1l3.2 -3.2M493.9 169.9l3.2 3.2M493.9 173.1l3.2 -3.2M483.3 174.2l3.2 3.2M483.3 177.4l3.2 -3.2M505.9 184.7l3.2 3.2M505.9 187.9l3.2 -3.2M496.7 180.2l3.2 3.2M496.7 183.4l3.2 -3.2M488.3 170.6l3.2 3.2M488.3 173.8l3.2 -3.2M505.7 174.8l3.2 3.2M505.7 178.0l3.2 -3.2M489.3 168.5l3.2 3.2M489.3 171.7l3.2 -3.2M490.6 178.4l3.2 3.2M490.6 181.6l3.2 -3.2M470.7 166.1l3.2 3.2M470.7 169.3l3.2 -3.2M467.6 163.9l3.2 3.2M467.6 167.1l3.2 -3.2M502.1 186.1l3.2 3.2M502.1 189.3l3.2 -3.2M491.2 183.3l3.2 3.2M491.2 186.5l3.2 -3.2M473.5 169.5l3.2 3.2M473.5 172.7l3.2 -3.2M499.7 177.4l3.2 3.2M499.7 180.6l3.2 -3.2M464.0 157.9l3.2 3.2M464.0 161.1l3.2 -3.2M479.4 176.9l3.2 3.2M479.4 180.1l3.2 -3.2M505.8 182.1l3.2 3.2M505.8 185.3l3.2 -3.2M496.1 180.5l3.2 3.2M496.1 183.7l3.2 -3.2M493.8 175.7l3.2 3.2M493.8 178.9l3.2 -3.2M494.8 173.6l3.2 3.2M494.8 176.8l3.2 -3.2M496.2 175.9l3.2 3.2M496.2 179.1l3.2 -3.2M523.3 187.7l3.2 3.2M523.3 190.9l3.2 -3.2M490.0 171.0l3.2 3.2M490.0 174.2l3.2 -3.2M499.7 175.4l3.2 3.2M499.7 178.6l3.2 -3.2M497.2 180.5l3.2 3.2M497.2 183.7l3.2 -3.2M462.1 171.8l3.2 3.2M462.1 175.0l3.2 -3.2M486.5 188.7l3.2 3.2M486.5 191.9l3.2 -3.2M463.6 162.5l3.2 3.2M463.6 165.7l3.2 -3.2M483.7 174.0l3.2 3.2M483.7 177.2l3.2 -3.2M468.2 174.5l3.2 3.2M468.2 177.7l3.2 -3.2M474.1 176.8l3.2 3.2M474.1 180.0l3.2 -3.2M451.3 169.8l3.2 3.2M451.3 173.0l3.2 -3.2M495.2 170.8l3.2 3.2M495.2 174.0l3.2 -3.2M469.7 180.6l3.2 3.2M469.7 183.8l3.2 -3.2M457.8 172.8l3.2 3.2M457.8 176.0l3.2 -3.2M504.7 180.3l3.2 3.2M504.7 183.5l3.2 -3.2M472.2 160.5l3.2 3.2M472.2 163.7l3.2 -3.2M480.8 174.9l3.2 3.2M480.8 178.1l3.2 -3.2M512.8 185.2l3.2 3.2M512.8 188.4l3.2 -3.2M482.2 167.9l3.2 3.2M482.2 171.1l3.2 -3.2M484.0 176.5l3.2 3.2M484.0 179.7l3.2 -3.2M509.3 168.7l3.2 3.2M509.3 171.9l3.2 -3.2M487.1 170.4l3.2 3.2M487.1 173.6l3.2 -3.2M501.1 178.8l3.2 3.2M501.1 182.0l3.2 -3.2M473.0 166.1l3.2 3.2M473.0 169.3l3.2 -3.2M499.9 177.8l3.2 3.2M499.9 181.0l3.2 -3.2M463.0 167.0l3.2 3.2M463.0 170.2l3.2 -3.2M485.2 173.3l3.2 3.2M485.2 176.5l3.2 -3.2M500.2 179.9l3.2 3.2M500.2 183.1l3.2 -3.2M485.1 170.5l3.2 3.2M485.1 173.7l3.2 -3.2M486.1 175.7l3.2 3.2M486.1 178.9l3.2 -3.2M518.9 189.6l3.2 3.2M518.9 192.8l3.2 -3.2M486.2 176.7l3.2 3.2M486.2 179.9l3.2 -3.2M505.9 174.7l3.2 3.2M505.9 177.9l3.2 -3.2M486.1 181.0l3.2 3.2M486.1 184.2l3.2 -3.2M482.5 180.9l3.2 3.2M482.5 184.1l3.2 -3.2M488.7 175.0l3.2 3.2M488.7 178.2l3.2 -3.2M492.4 172.1l3.2 3.2M492.4 175.3l3.2 -3.2M486.6 177.3l3.2 3.2M486.6 180.5l3.2 -3.2M493.8 177.2l3.2 3.2M493.8 180.4l3.2 -3.2M505.4 183.9l3.2 3.2M505.4 187.1l3.2 -3.2M492.9 175.0l3.2 3.2M492.9 178.2l3.2 -3.2M512.9 178.1l3.2 3.2M512.9 181.3l3.2 -3.2M502.7 189.7l3.2 3.2M502.7 192.9l3.2 -3.2M461.7 164.9l3.2 3.2M461.7 168.1l3.2 -3.2M486.0 173.4l3.2 3.2M486.0 176.6l3.2 -3.2M482.6 173.6l3.2 3.2M482.6 176.8l3.2 -3.2M489.9 173.3l3.2 3.2M489.9 176.5l3.2 -3.2M522.1 181.9l3.2 3.2M522.1 185.1l3.2 -3.2M491.6 172.0l3.2 3.2M491.6 175.2l3.2 -3.2M486.9 176.8l3.2 3.2M486.9 180.0l3.2 -3.2M516.8 184.9l3.2 3.2M516.8 188.1l3.2 -3.2M468.7 159.6l3.2 3.2M468.7 162.8l3.2 -3.2M492.7 163.3l3.2 3.2M492.7 166.5l3.2 -3.2M465.6 168.4l3.2 3.2M465.6 171.6l3.2 -3.2M492.6 174.5l3.2 3.2M492.6 177.7l3.2 -3.2M505.6 176.8l3.2 3.2M505.6 180.0l3.2 -3.2M486.4 167.7l3.2 3.2M486.4 170.9l3.2 -3.2M508.4 183.8l3.2 3.2M508.4 187.0l3.2 -3.2M502.8 186.7l3.2 3.2M502.8 189.9l3.2 -3.2M470.9 170.9l3.2 3.2M470.9 174.1l3.2 -3.2M472.9 172.6l3.2 3.2M472.9 175.8l3.2 -3.2M478.6 167.6l3.2 3.2M478.6 170.8l3.2 -3.2M501.6 178.4l3.2 3.2M501.6 181.6l3.2 -3.2M480.9 172.3l3.2 3.2M480.9 175.5l3.2 -3.2M494.6 182.1l3.2 3.2M494.6 185.3l3.2 -3.2M504.4 182.1l3.2 3.2M504.4 185.3l3.2 -3.2M474.6 177.3l3.2 3.2M474.6 180.5l3.2 -3.2M502.0 165.6l3.2 3.2M502.0 168.8l3.2 -3.2M450.9 158.9l3.2 3.2M450.9 162.1l3.2 -3.2M495.7 176.6l3.2 3.2M495.7 179.8l3.2 -3.2M495.5 178.3l3.2 3.2M495.5 181.5l3.2 -3.2M489.9 175.2l3.2 3.2M489.9 178.4l3.2 -3.2M482.1 168.7l3.2 3.2M482.1 171.9l3.2 -3.2M492.4 183.6l3.2 3.2M492.4 186.8l3.2 -3.2M507.2 171.5l3.2 3.2M507.2 174.7l3.2 -3.2M500.3 178.9l3.2 3.2M500.3 182.1l3.2 -3.2M484.7 182.5l3.2 3.2M484.7 185.7l3.2 -3.2M515.7 179.3l3.2 3.2M515.7 182.5l3.2 -3.2M504.7 178.3l3.2 3.2M504.7 181.5l3.2 -3.2M469.5 164.2l3.2 3.2M469.5 167.4l3.2 -3.2M496.4 176.9l3.2 3.2M496.4 180.1l3.2 -3.2M480.7 175.4l3.2 3.2M480.7 178.6l3.2 -3.2M503.3 168.0l3.2 3.2M503.3 171.2l3.2 -3.2M480.5 168.4l3.2 3.2M480.5 171.6l3.2 -3.2M473.0 169.0l3.2 3.2M473.0 172.2l3.2 -3.2M468.9 173.8l3.2 3.2M468.9 177.0l3.2 -3.2M476.6 174.2l3.2 3.2M476.6 177.4l3.2 -3.2M472.4 177.9l3.2 3.2M472.4 181.1l3.2 -3.2M464.4 162.2l3.2 3.2M464.4 165.4l3.2 -3.2M473.3 169.5l3.2 3.2M473.3 172.7l3.2 -3.2M488.9 180.6l3.2 3.2M488.9 183.8l3.2 -3.2M499.9 182.6l3.2 3.2M499.9 185.8l3.2 -3.2M488.5 172.4l3.2 3.2M488.5 175.6l3.2 -3.2M482.7 171.6l3.2 3.2M482.7 174.8l3.2 -3.2M506.5 188.3l3.2 3.2M506.5 191.5l3.2 -3.2M482.0 166.9l3.2 3.2M482.0 170.1l3.2 -3.2M499.8 182.1l3.2 3.2M499.8 185.3l3.2 -3.2M501.4 180.2l3.2 3.2M501.4 183.4l3.2 -3.2M491.7 177.6l3.2 3.2M491.7 180.8l3.2 -3.2M497.9 182.7l3.2 3.2M497.9 185.9l3.2 -3.2M515.2 176.6l3.2 3.2M515.2 179.8l3.2 -3.2M478.8 175.1l3.2 3.2M478.8 178.3l3.2 -3.2M480.1 182.6l3.2 3.2M480.1 185.8l3.2 -3.2M505.1 194.2l3.2 3.2M505.1 197.4l3.2 -3.2M480.6 177.9l3.2 3.2M480.6 181.1l3.2 -3.2M519.9 179.0l3.2 3.2M519.9 182.2l3.2 -3.2M459.0 171.8l3.2 3.2M459.0 175.0l3.2 -3.2M498.1 173.4l3.2 3.2M498.1 176.6l3.2 -3.2M476.9 168.6l3.2 3.2M476.9 171.8l3.2 -3.2M510.0 172.8l3.2 3.2M510.0 176.0l3.2 -3.2M487.3 170.8l3.2 3.2M487.3 174.0l3.2 -3.2M498.8 183.7l3.2 3.2M498.8 186.9l3.2 -3.2M495.5 171.7l3.2 3.2M495.5 174.9l3.2 -3.2M500.1 179.4l3.2 3.2M500.1 182.6l3.2 -3.2M493.5 176.1l3.2 3.2M493.5 179.3l3.2 -3.2M478.2 180.6l3.2 3.2M478.2 183.8l3.2 -3.2M481.7 168.4l3.2 3.2M481.7 171.6l3.2 -3.2M503.8 181.1l3.2 3.2M503.8 184.3l3.2 -3.2M489.4 174.2l3.2 3.2M489.4 177.4l3.2 -3.2M485.0 173.9l3.2 3.2M485.0 177.1l3.2 -3.2M484.4 169.0l3.2 3.2M484.4 172.2l3.2 -3.2M494.0 178.3l3.2 3.2M494.0 181.5l3.2 -3.2M471.2 173.6l3.2 3.2M471.2 176.8l3.2 -3.2M484.0 169.5l3.2 3.2M484.0 172.7l3.2 -3.2M475.3 176.8l3.2 3.2M475.3 180.0l3.2 -3.2M464.3 159.3l3.2 3.2M464.3 162.5l3.2 -3.2M505.8 182.6l3.2 3.2M505.8 185.8l3.2 -3.2M501.3 169.1l3.2 3.2M501.3 172.3l3.2 -3.2M510.7 180.0l3.2 3.2M510.7 183.2l3.2 -3.2M485.8 164.9l3.2 3.2M485.8 168.1l3.2 -3.2M474.3 159.6l3.2 3.2M474.3 162.8l3.2 -3.2M474.4 169.1l3.2 3.2M474.4 172.3l3.2 -3.2M502.1 176.2l3.2 3.2M502.1 179.4l3.2 -3.2M514.1 182.1l3.2 3.2M514.1 185.3l3.2 -3.2M495.6 185.9l3.2 3.2M495.6 189.1l3.2 -3.2M498.7 183.2l3.2 3.2M498.7 186.4l3.2 -3.2M495.0 167.4l3.2 3.2M495.0 170.6l3.2 -3.2M499.2 168.7l3.2 3.2M499.2 171.9l3.2 -3.2M512.3 174.6l3.2 3.2M512.3 177.8l3.2 -3.2M511.4 177.8l3.2 3.2M511.4 181.0l3.2 -3.2M458.3 171.5l3.2 3.2M458.3 174.7l3.2 -3.2M469.9 169.6l3.2 3.2M469.9 172.8l3.2 -3.2M456.3 168.5l3.2 3.2M456.3 171.7l3.2 -3.2M489.8 185.2l3.2 3.2M489.8 188.4l3.2 -3.2M484.0 167.6l3.2 3.2M484.0 170.8l3.2 -3.2M487.8 177.6l3.2 3.2M487.8 180.8l3.2 -3.2M482.7 176.5l3.2 3.2M482.7 179.7l3.2 -3.2M486.9 179.4l3.2 3.2M486.9 182.6l3.2 -3.2M463.1 165.6l3.2 3.2M463.1 168.8l3.2 -3.2M478.8 177.0l3.2 3.2M478.8 180.2l3.2 -3.2M487.6 182.9l3.2 3.2M487.6 186.1l3.2 -3.2M505.8 177.6l3.2 3.2M505.8 180.8l3.2 -3.2M483.9 172.5l3.2 3.2M483.9 175.7l3.2 -3.2M481.7 182.7l3.2 3.2M481.7 185.9l3.2 -3.2M486.5 177.5l3.2 3.2M486.5 180.7l3.2 -3.2M484.8 172.8l3.2 3.2M484.8 176.0l3.2 -3.2M482.0 176.8l3.2 3.2M482.0 180.0l3.2 -3.2M522.1 189.7l3.2 3.2M522.1 192.9l3.2 -3.2M477.8 172.6l3.2 3.2M477.8 175.8l3.2 -3.2M473.5 164.2l3.2 3.2M473.5 167.4l3.2 -3.2M503.5 178.8l3.2 3.2M503.5 182.0l3.2 -3.2M500.0 180.2l3.2 3.2M500.0 183.4l3.2 -3.2M492.3 179.1l3.2 3.2M492.3 182.3l3.2 -3.2M493.5 173.4l3.2 3.2M493.5 176.6l3.2 -3.2M510.9 180.4l3.2 3.2M510.9 183.6l3.2 -3.2M527.4 186.3l3.2 3.2M527.4 189.5l3.2 -3.2M511.9 184.3l3.2 3.2M511.9 187.5l3.2 -3.2M449.6 163.3l3.2 3.2M449.6 166.5l3.2 -3.2M492.9 167.2l3.2 3.2M492.9 170.4l3.2 -3.2M477.7 179.1l3.2 3.2M477.7 182.3l3.2 -3.2M452.4 162.0l3.2 3.2M452.4 165.2l3.2 -3.2M532.7 183.8l3.2 3.2M532.7 187.0l3.2 -3.2M502.8 180.0l3.2 3.2M502.8 183.2l3.2 -3.2M500.3 166.6l3.2 3.2M500.3 169.8l3.2 -3.2M477.8 168.2l3.2 3.2M477.8 171.4l3.2 -3.2M503.2 183.1l3.2 3.2M503.2 186.3l3.2 -3.2M463.9 176.3l3.2 3.2M463.9 179.5l3.2 -3.2M493.0 177.3l3.2 3.2M493.0 180.5l3.2 -3.2M482.8 167.0l3.2 3.2M482.8 170.2l3.2 -3.2M479.3 167.1l3.2 3.2M479.3 170.3l3.2 -3.2M508.3 168.2l3.2 3.2M508.3 171.4l3.2 -3.2M498.7 174.0l3.2 3.2M498.7 177.2l3.2 -3.2M505.4 179.8l3.2 3.2M505.4 183.0l3.2 -3.2M494.1 169.9l3.2 3.2M494.1 173.1l3.2 -3.2M504.6 179.6l3.2 3.2M504.6 182.8l3.2 -3.2M490.3 171.0l3.2 3.2M490.3 174.2l3.2 -3.2M472.3 170.2l3.2 3.2M472.3 173.4l3.2 -3.2M466.8 174.9l3.2 3.2M466.8 178.1l3.2 -3.2M481.8 172.1l3.2 3.2M481.8 175.3l3.2 -3.2M470.5 167.2l3.2 3.2M470.5 170.4l3.2 -3.2M469.0 162.0l3.2 3.2M469.0 165.2l3.2 -3.2M503.6 177.3l3.2 3.2M503.6 180.5l3.2 -3.2M492.0 176.5l3.2 3.2M492.0 179.7l3.2 -3.2M486.0 181.9l3.2 3.2M486.0 185.1l3.2 -3.2M472.2 163.9l3.2 3.2M472.2 167.1l3.2 -3.2M493.8 171.3l3.2 3.2M493.8 174.5l3.2 -3.2M462.2 167.4l3.2 3.2M462.2 170.6l3.2 -3.2M514.2 182.6l3.2 3.2M514.2 185.8l3.2 -3.2M503.6 187.4l3.2 3.2M503.6 190.6l3.2 -3.2M492.2 179.9l3.2 3.2M492.2 183.1l3.2 -3.2M520.6 182.4l3.2 3.2M520.6 185.6l3.2 -3.2M470.4 165.3l3.2 3.2M470.4 168.5l3.2 -3.2M496.6 172.6l3.2 3.2M496.6 175.8l3.2 -3.2M499.8 175.3l3.2 3.2M499.8 178.5l3.2 -3.2M499.5 178.3l3.2 3.2M499.5 181.5l3.2 -3.2M509.3 172.8l3.2 3.2M509.3 176.0l3.2 -3.2M505.6 178.8l3.2 3.2M505.6 182.0l3.2 -3.2M504.3 175.4l3.2 3.2M504.3 178.6l3.2 -3.2M491.1 172.3l3.2 3.2M491.1 175.5l3.2 -3.2M488.9 186.1l3.2 3.2M488.9 189.3l3.2 -3.2M466.4 175.2l3.2 3.2M466.4 178.4l3.2 -3.2M496.1 180.6l3.2 3.2M496.1 183.8l3.2 -3.2M499.4 178.9l3.2 3.2M499.4 182.1l3.2 -3.2M493.6 165.2l3.2 3.2M493.6 168.4l3.2 -3.2M495.1 170.8l3.2 3.2M495.1 174.0l3.2 -3.2M512.6 190.0l3.2 3.2M512.6 193.2l3.2 -3.2M491.8 175.5l3.2 3.2M491.8 178.7l3.2 -3.2M501.7 179.7l3.2 3.2M501.7 182.9l3.2 -3.2M490.1 171.8l3.2 3.2M490.1 175.0l3.2 -3.2M508.6 182.3l3.2 3.2M508.6 185.5l3.2 -3.2M484.6 177.2l3.2 3.2M484.6 180.4l3.2 -3.2M509.5 181.3l3.2 3.2M509.5 184.5l3.2 -3.2M507.3 180.9l3.2 3.2M507.3 184.1l3.2 -3.2M478.1 170.4l3.2 3.2M478.1 173.6l3.2 -3.2M507.8 173.2l3.2 3.2M507.8 176.4l3.2 -3.2M508.4 178.7l3.2 3.2M508.4 181.9l3.2 -3.2M492.1 166.9l3.2 3.2M492.1 170.1l3.2 -3.2M491.7 176.2l3.2 3.2M491.7 179.4l3.2 -3.2M467.2 177.5l3.2 3.2M467.2 180.7l3.2 -3.2M507.0 179.0l3.2 3.2M507.0 182.2l3.2 -3.2M468.8 170.2l3.2 3.2M468.8 173.4l3.2 -3.2M485.3 180.5l3.2 3.2M485.3 183.7l3.2 -3.2M490.1 183.7l3.2 3.2M490.1 186.9l3.2 -3.2M470.1 174.7l3.2 3.2M470.1 177.9l3.2 -3.2M484.3 173.3l3.2 3.2M484.3 176.5l3.2 -3.2M487.5 182.7l3.2 3.2M487.5 185.9l3.2 -3.2M467.4 175.1l3.2 3.2M467.4 178.3l3.2 -3.2M482.4 181.5l3.2 3.2M482.4 184.7l3.2 -3.2M498.1 185.1l3.2 3.2M498.1 188.3l3.2 -3.2M458.6 169.3l3.2 3.2M458.6 172.5l3.2 -3.2M486.7 180.4l3.2 3.2M486.7 183.6l3.2 -3.2M509.6 183.4l3.2 3.2M509.6 186.6l3.2 -3.2M464.2 167.5l3.2 3.2M464.2 170.7l3.2 -3.2M488.4 177.9l3.2 3.2M488.4 181.1l3.2 -3.2M496.4 179.0l3.2 3.2M496.4 182.2l3.2 -3.2M461.6 176.9l3.2 3.2M461.6 180.1l3.2 -3.2M502.2 176.1l3.2 3.2M502.2 179.3l3.2 -3.2M490.0 166.8l3.2 3.2M490.0 170.0l3.2 -3.2M470.0 179.2l3.2 3.2M470.0 182.4l3.2 -3.2M477.6 171.3l3.2 3.2M477.6 174.5l3.2 -3.2M502.2 179.9l3.2 3.2M502.2 183.1l3.2 -3.2M486.9 176.4l3.2 3.2M486.9 179.6l3.2 -3.2M495.1 175.4l3.2 3.2M495.1 178.6l3.2 -3.2M498.4 182.7l3.2 3.2M498.4 185.9l3.2 -3.2M491.9 178.8l3.2 3.2M491.9 182.0l3.2 -3.2M488.0 170.7l3.2 3.2M488.0 173.9l3.2 -3.2M487.1 174.1l3.2 3.2M487.1 177.3l3.2 -3.2M486.7 170.2l3.2 3.2M486.7 173.4l3.2 -3.2M490.0 180.4l3.2 3.2M490.0 183.6l3.2 -3.2M501.5 185.1l3.2 3.2M501.5 188.3l3.2 -3.2M509.3 189.4l3.2 3.2M509.3 192.6l3.2 -3.2M501.4 181.1l3.2 3.2M501.4 184.3l3.2 -3.2M489.0 169.5l3.2 3.2M489.0 172.7l3.2 -3.2M494.7 181.6l3.2 3.2M494.7 184.8l3.2 -3.2M471.4 169.7l3.2 3.2M471.4 172.9l3.2 -3.2M463.3 168.0l3.2 3.2M463.3 171.2l3.2 -3.2M484.5 167.7l3.2 3.2M484.5 170.9l3.2 -3.2M491.3 178.7l3.2 3.2M491.3 181.9l3.2 -3.2M461.1 166.1l3.2 3.2M461.1 169.3l3.2 -3.2M498.0 179.1l3.2 3.2M498.0 182.3l3.2 -3.2M487.0 175.1l3.2 3.2M487.0 178.3l3.2 -3.2M517.9 186.0l3.2 3.2M517.9 189.2l3.2 -3.2M491.1 175.5l3.2 3.2M491.1 178.7l3.2 -3.2M487.7 172.6l3.2 3.2M487.7 175.8l3.2 -3.2M469.8 169.3l3.2 3.2M469.8 172.5l3.2 -3.2M471.7 171.3l3.2 3.2M471.7 174.5l3.2 -3.2M506.2 175.1l3.2 3.2M506.2 178.3l3.2 -3.2M471.0 166.5l3.2 3.2M471.0 169.7l3.2 -3.2M445.5 159.7l3.2 3.2M445.5 162.9l3.2 -3.2M490.5 170.6l3.2 3.2M490.5 173.8l3.2 -3.2M492.6 173.6l3.2 3.2M492.6 176.8l3.2 -3.2M489.2 173.4l3.2 3.2M489.2 176.6l3.2 -3.2M480.7 173.6l3.2 3.2M480.7 176.8l3.2 -3.2M481.7 169.0l3.2 3.2M481.7 172.2l3.2 -3.2M474.5 164.5l3.2 3.2M474.5 167.7l3.2 -3.2M490.8 187.6l3.2 3.2M490.8 190.8l3.2 -3.2M502.5 179.6l3.2 3.2M502.5 182.8l3.2 -3.2M482.7 179.5l3.2 3.2M482.7 182.7l3.2 -3.2M502.8 169.1l3.2 3.2M502.8 172.3l3.2 -3.2M489.6 168.5l3.2 3.2M489.6 171.7l3.2 -3.2M480.5 174.6l3.2 3.2M480.5 177.8l3.2 -3.2M493.7 180.0l3.2 3.2M493.7 183.2l3.2 -3.2" style="fill:none;stroke:#bfbf00;stroke-width:1.2"/></g>
   <g id="matplotlib.axis_3">
    <g id="xtick_31">
     <g id="line2d_39">
      <g>
       <use href="#m9cb2737024" x="315.492532" y="203.7" style="fill: #666666; stroke: #666666; stroke-width: 0.9"/>
      </g>
     </g>
     <g id="text_41">
      <text style="font-size: 6.7px; font-family: 'Liberation Serif', serif; text-anchor: middle" x="315.492532" y="214.199172" transform="rotate(0.05 315.492532 214.199172)">−8</text>
     </g>
    </g>
    <g id="xtick_32">
     <g id="line2d_40">
      <g>
       <use href="#m9cb2737024" x="341.242698" y="203.7" style="fill: #666666; stroke: #666666; stroke-width: 0.9"/>
      </g>
     </g>
     <g id="text_42">
      <text style="font-size: 6.7px; font-family: 'Liberation Serif', serif; text-anchor: middle" x="341.242698" y="214.199172" transform="rotate(0.05 341.242698 214.199172)">−6</text>
     </g>
    </g>
    <g id="xtick_33">
     <g id="line2d_41">
      <g>
       <use href="#m9cb2737024" x="366.992865" y="203.7" style="fill: #666666; stroke: #666666; stroke-width: 0.9"/>
      </g>
     </g>
     <g id="text_43">
      <text style="font-size: 6.7px; font-family: 'Liberation Serif', serif; text-anchor: middle" x="366.992865" y="214.199172" transform="rotate(0.05 366.992865 214.199172)">−4</text>
     </g>
    </g>
    <g id="xtick_34">
     <g id="line2d_42">
      <g>
       <use href="#m9cb2737024" x="392.743032" y="203.7" style="fill: #666666; stroke: #666666; stroke-width: 0.9"/>
      </g>
     </g>
     <g id="text_44">
      <text style="font-size: 6.7px; font-family: 'Liberation Serif', serif; text-anchor: middle" x="392.743032" y="214.199172" transform="rotate(0.05 392.743032 214.199172)">−2</text>
     </g>
    </g>
    <g id="xtick_35">
     <g id="line2d_43">
      <g>
       <use href="#m9cb2737024" x="418.493198" y="203.7" style="fill: #666666; stroke: #666666; stroke-width: 0.9"/>
      </g>
     </g>
     <g id="text_45">
      <text style="font-size: 6.7px; font-family: 'Liberation Serif', serif; text-anchor: middle" x="418.493198" y="214.199172" transform="rotate(0.05 418.493198 214.199172)">0</text>
     </g>
    </g>
    <g id="xtick_36">
     <g id="line2d_44">
      <g>
       <use href="#m9cb2737024" x="444.243365" y="203.7" style="fill: #666666; stroke: #666666; stroke-width: 0.9"/>
      </g>
     </g>
     <g id="text_46">
      <text style="font-size: 6.7px; font-family: 'Liberation Serif', serif; text-anchor: middle" x="444.243365" y="214.199172" transform="rotate(0.05 444.243365 214.199172)">2</text>
     </g>
    </g>
    <g id="xtick_37">
     <g id="line2d_45">
      <g>
       <use href="#m9cb2737024" x="469.993532" y="203.7" style="fill: #666666; stroke: #666666; stroke-width: 0.9"/>
      </g>
     </g>
     <g id="text_47">
      <text style="font-size: 6.7px; font-family: 'Liberation Serif', serif; text-anchor: middle" x="469.993532" y="214.199172" transform="rotate(0.05 469.993532 214.199172)">4</text>
     </g>
    </g>
    <g id="xtick_38">
     <g id="line2d_46">
      <g>
       <use href="#m9cb2737024" x="495.743699" y="203.7" style="fill: #666666; stroke: #666666; stroke-width: 0.9"/>
      </g>
     </g>
     <g id="text_48">
      <text style="font-size: 6.7px; font-family: 'Liberation Serif', serif; text-anchor: middle" x="495.743699" y="214.199172" transform="rotate(0.05 495.743699 214.199172)">6</text>
     </g>
    </g>
    <g id="xtick_39">
     <g id="line2d_47">
      <g>
       <use href="#m9cb2737024" x="521.493865" y="203.7" style="fill: #666666; stroke: #666666; stroke-width: 0.9"/>
      </g>
     </g>
     <g id="text_49">
      <text style="font-size: 6.7px; font-family: 'Liberation Serif', serif; text-anchor: middle" x="521.493865" y="214.199172" transform="rotate(0.05 521.493865 214.199172)">8</text>
     </g>
    </g>
    <g id="text_50">
     <text style="font-size: 6.7px; font-family: 'Liberation Serif', serif; text-anchor: middle" x="426.45" y="222.875234" transform="rotate(0.05 426.45 222.875234)">PC1</text>
    </g>
   </g>
   <g id="matplotlib.axis_4">
    <g id="ytick_6">
     <g id="line2d_48">
      <g>
       <use href="#m76c4f79fe5" x="310.6" y="188.569223" style="fill: #666666; stroke: #666666; stroke-width: 0.9"/>
      </g>
     </g>
     <g id="text_51">
      <text style="font-size: 6.7px; font-family: 'Liberation Serif', serif; text-anchor: end" x="306.05" y="190.893809" transform="rotate(0.05 306.05 190.893809)">−5</text>
     </g>
    </g>
    <g id="ytick_7">
     <g id="line2d_49">
      <g>
       <use href="#m76c4f79fe5" x="310.6" y="169.749849" style="fill: #666666; stroke: #666666; stroke-width: 0.9"/>
      </g>
     </g>
     <g id="text_52">
      <text style="font-size: 6.7px; font-family: 'Liberation Serif', serif; text-anchor: end" x="306.05" y="172.074435" transform="rotate(0.05 306.05 172.074435)">0</text>
     </g>
    </g>
    <g id="ytick_8">
     <g id="line2d_50">
      <g>
       <use href="#m76c4f79fe5" x="310.6" y="150.930474" style="fill: #666666; stroke: #666666; stroke-width: 0.9"/>
      </g>
     </g>
     <g id="text_53">
      <text style="font-size: 6.7px; font-family: 'Liberation Serif', serif; text-anchor: end" x="306.05" y="153.25506" transform="rotate(0.05 306.05 153.25506)">5</text>
     </g>
    </g>
    <g id="ytick_9">
     <g id="line2d_51">
      <g>
       <use href="#m76c4f79fe5" x="310.6" y="132.1111" style="fill: #666666; stroke: #666666; stroke-width: 0.9"/>
      </g>
     </g>
     <g id="text_54">
      <text style="font-size: 6.7px; font-family: 'Liberation Serif', serif; text-anchor: end" x="306.05" y="134.435686" transform="rotate(0.05 306.05 134.435686)">10</text>
     </g>
    </g>
    <g id="text_55">
     <text style="font-size: 6.7px; font-family: 'Liberation Serif', serif; text-anchor: middle" x="294.244937" y="166.4" transform="rotate(-89.95 294.244937 166.4)">PC2</text>
    </g>
   </g>
   <g id="patch_12">
    <path d="M 310.6 203.7 
L 310.6 129.1 
" style="fill: none; stroke: #808080; stroke-width: 1.1; stroke-linejoin: miter; stroke-linecap: square"/>
   </g>
   <g id="patch_13">
    <path d="M 542.3 203.7 
L 542.3 129.1 
" style="fill: none; stroke: #808080; stroke-width: 1.1; stroke-linejoin: miter; stroke-linecap: square"/>
   </g>
   <g id="patch_14">
    <path d="M 310.6 203.7 
L 542.3 203.7 
" style="fill: none; stroke: #808080; stroke-width: 1.1; stroke-linejoin: miter; stroke-linecap: square"/>
   </g>
   <g id="patch_15">
    <path d="M 310.6 129.1 
L 542.3 129.1 
" style="fill: none; stroke: #808080; stroke-width: 1.1; stroke-linejoin: miter; stroke-linecap: square"/>
   </g>
  </g>
  <g id="legend_1">
   <g id="patch_16">
    <path d="M 157.86 48.93965 
L 218.245563 48.93965 
Q 219.605563 48.93965 219.605563 47.57965 
L 219.605563 9.86 
Q 219.605563 8.5 218.245563 8.5 
L 157.86 8.5 
Q 156.5 8.5 156.5 9.86 
L 156.5 47.57965 
Q 156.5 48.93965 157.86 48.93965 
z
" style="fill: #ffffff; stroke: #d9d9d9; stroke-width: 0.52; stroke-linejoin: miter"/>
   </g>
   <g id="line2d_52">
    <defs>
     <path id="m6d0fc0f968" d="M 0 1 
C 0.265203 1 0.51958 0.894634 0.707107 0.707107 
C 0.894634 0.51958 1 0.265203 1 0 
C 1 -0.265203 0.894634 -0.51958 0.707107 -0.707107 
C 0.51958 -0.894634 0.265203 -1 0 -1 
C -0.265203 -1 -0.51958 -0.894634 -0.707107 -0.707107 
C -0.894634 -0.51958 -1 -0.265203 -1 0 
C -1 0.265203 -0.894634 0.51958 -0.707107 0.707107 
C -0.51958 0.894634 -0.265203 1 0 1 
z
" style="stroke: #ff0000"/>
    </defs>
    <g>
     <use href="#m6d0fc0f968" x="165.6" y="13.28" style="fill: #ff0000; stroke: #ff0000"/>
    </g>
   </g>
   <g id="text_56">
    <text style="font-size: 6.8px; font-family: 'Liberation Serif', serif; text-anchor: start" x="178.3" y="15.66" transform="rotate(0.05 178.3 15.66)">1stDayLMW</text>
   </g>
   <g id="line2d_53">
    <defs>
     <path id="m3621fb2d0e" d="M -1.5 1.5 
L 1.5 -1.5 
M -1.5 -1.5 
L 1.5 1.5 
" style="stroke: #0000ff; stroke-width: 1.2"/>
    </defs>
    <g>
     <use href="#m3621fb2d0e" x="165.6" y="23.084112" style="fill: #0000ff; stroke: #0000ff; stroke-width: 1.2"/>
    </g>
   </g>
   <g id="text_57">
    <text style="font-size: 6.8px; font-family: 'Liberation Serif', serif; text-anchor: start" x="178.3" y="25.464112" transform="rotate(0.05 178.3 25.464112)">1stDayHMW</text>
   </g>
   <g id="line2d_54">
    <defs>
     <path id="m5152d6ac1f" d="M 0 1 
C 0.265203 1 0.51958 0.894634 0.707107 0.707107 
C 0.894634 0.51958 1 0.265203 1 0 
C 1 -0.265203 0.894634 -0.51958 0.707107 -0.707107 
C 0.51958 -0.894634 0.265203 -1 0 -1 
C -0.265203 -1 -0.51958 -0.894634 -0.707107 -0.707107 
C -0.894634 -0.51958 -1 -0.265203 -1 0 
C -1 0.265203 -0.894634 0.51958 -0.707107 0.707107 
C -0.51958 0.894634 -0.265203 1 0 1 
z
" style="stroke: #008000"/>
    </defs>
    <g>
     <use href="#m5152d6ac1f" x="165.6" y="32.888225" style="fill: #008000; stroke: #008000"/>
    </g>
   </g>
   <g id="text_58">
    <text style="font-size: 6.8px; font-family: 'Liberation Serif', serif; text-anchor: start" x="178.3" y="35.268225" transform="rotate(0.05 178.3 35.268225)">2ndDayLMW</text>
   </g>
   <g id="line2d_55">
    <defs>
     <path id="ma8428b06a3" d="M -1.5 1.5 
L 1.5 -1.5 
M -1.5 -1.5 
L 1.5 1.5 
" style="stroke: #bfbf00; stroke-width: 1.2"/>
    </defs>
    <g>
     <use href="#ma8428b06a3" x="165.6" y="42.692338" style="fill: #bfbf00; stroke: #bfbf00; stroke-width: 1.2"/>
    </g>
   </g>
   <g id="text_59">
    <text style="font-size: 6.8px; font-family: 'Liberation Serif', serif; text-anchor: start" x="178.3" y="45.072338" transform="rotate(0.05 178.3 45.072338)">2ndDayHMW</text>
   </g>
  </g>
 </g>
 <defs>
  <clipPath id="pf5f0774652">
   <rect x="-1.326" y="4.354" width="224.394" height="224.394"/>
  </clipPath>
  <clipPath id="p4b8ff3c389">
   <rect x="310.6" y="31.7" width="231.7" height="74.7"/>
  </clipPath>
  <clipPath id="p31389b9001">
   <rect x="310.6" y="129.1" width="231.7" height="74.6"/>
  </clipPath>
 </defs>
<text x="104" y="242.4" style="font:12px 'Liberation Serif',serif">(<tspan style="font-weight:bold">a</tspan>)</text><text x="415" y="242.4" style="font:12px 'Liberation Serif',serif">(<tspan style="font-weight:bold">b</tspan>)</text></svg>

</body></html>
